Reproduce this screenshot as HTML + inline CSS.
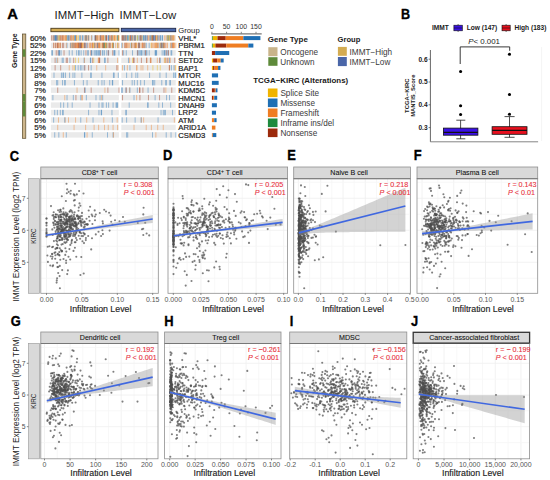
<!DOCTYPE html>
<html><head><meta charset="utf-8"><style>
html,body{margin:0;padding:0;background:#fff;width:550px;height:480px;overflow:hidden;}
svg{display:block;font-family:"Liberation Sans", sans-serif;}
</style></head><body>
<svg width="550" height="480" viewBox="0 0 550 480" font-family="Liberation Sans, sans-serif"><rect width="550" height="480" fill="#fff"/><text transform="translate(7.3,18.5) scale(1.0,1)" font-size="14.8" font-weight="bold" fill="#000" stroke="#000" stroke-width="0.35">A</text>
<text transform="translate(401.0,18.5) scale(0.85,1)" font-size="14.8" font-weight="bold" fill="#000" stroke="#000" stroke-width="0.35">B</text>
<text transform="translate(9.8,160.6) scale(0.84,1)" font-size="15.4" font-weight="bold" fill="#000" stroke="#000" stroke-width="0.35">C</text>
<text transform="translate(162.9,160.0) scale(0.84,1)" font-size="15.4" font-weight="bold" fill="#000" stroke="#000" stroke-width="0.35">D</text>
<text transform="translate(287.2,160.2) scale(0.84,1)" font-size="15.4" font-weight="bold" fill="#000" stroke="#000" stroke-width="0.35">E</text>
<text transform="translate(413.8,160.2) scale(0.84,1)" font-size="15.4" font-weight="bold" fill="#000" stroke="#000" stroke-width="0.35">F</text>
<text transform="translate(10.8,325.6) scale(0.84,1)" font-size="15.4" font-weight="bold" fill="#000" stroke="#000" stroke-width="0.35">G</text>
<text transform="translate(164.3,325.7) scale(0.84,1)" font-size="15.4" font-weight="bold" fill="#000" stroke="#000" stroke-width="0.35">H</text>
<text transform="translate(289.8,325.7) scale(0.84,1)" font-size="15.4" font-weight="bold" fill="#000" stroke="#000" stroke-width="0.35">I</text>
<text transform="translate(411.0,325.7) scale(0.84,1)" font-size="15.4" font-weight="bold" fill="#000" stroke="#000" stroke-width="0.35">J</text>
<text x="54.60" y="19.30" font-size="11.4" fill="#1a1a1a" text-anchor="start" font-weight="normal" >IMMT−High</text>
<text x="119.60" y="19.30" font-size="11.4" fill="#1a1a1a" text-anchor="start" font-weight="normal" >IMMT−Low</text>
<rect x="50.9" y="28.3" width="68" height="3.4" fill="#d4ac52" stroke="#4a3a1a" stroke-width="0.9"/>
<rect x="121.3" y="28.3" width="54.4" height="3.4" fill="#4a66a8" stroke="#1f2a4a" stroke-width="0.9"/>
<text transform="translate(178.3,33.0)" font-size="7.7" fill="#1a1a1a">Group</text>
<text transform="translate(178.3,40.85)" font-size="7.7" fill="#1a1a1a" stroke="#1a1a1a" stroke-width="0.2">VHL*</text>
<text transform="translate(45.9,40.85)" font-size="8" fill="#1a1a1a" stroke="#1a1a1a" stroke-width="0.2" text-anchor="end">60%</text>
<text transform="translate(178.3,48.31)" font-size="7.7" fill="#1a1a1a" stroke="#1a1a1a" stroke-width="0.2">PBRM1</text>
<text transform="translate(45.9,48.31)" font-size="8" fill="#1a1a1a" stroke="#1a1a1a" stroke-width="0.2" text-anchor="end">52%</text>
<text transform="translate(178.3,55.77)" font-size="7.7" fill="#1a1a1a" stroke="#1a1a1a" stroke-width="0.2">TTN</text>
<text transform="translate(45.9,55.77)" font-size="8" fill="#1a1a1a" stroke="#1a1a1a" stroke-width="0.2" text-anchor="end">22%</text>
<text transform="translate(178.3,63.23)" font-size="7.7" fill="#1a1a1a" stroke="#1a1a1a" stroke-width="0.2">SETD2</text>
<text transform="translate(45.9,63.23)" font-size="8" fill="#1a1a1a" stroke="#1a1a1a" stroke-width="0.2" text-anchor="end">15%</text>
<text transform="translate(178.3,70.69)" font-size="7.7" fill="#1a1a1a" stroke="#1a1a1a" stroke-width="0.2">BAP1</text>
<text transform="translate(45.9,70.69)" font-size="8" fill="#1a1a1a" stroke="#1a1a1a" stroke-width="0.2" text-anchor="end">12%</text>
<text transform="translate(178.3,78.15)" font-size="7.7" fill="#1a1a1a" stroke="#1a1a1a" stroke-width="0.2">MTOR</text>
<text transform="translate(45.9,78.15)" font-size="8" fill="#1a1a1a" stroke="#1a1a1a" stroke-width="0.2" text-anchor="end">8%</text>
<text transform="translate(178.3,85.61)" font-size="7.7" fill="#1a1a1a" stroke="#1a1a1a" stroke-width="0.2">MUC16</text>
<text transform="translate(45.9,85.61)" font-size="8" fill="#1a1a1a" stroke="#1a1a1a" stroke-width="0.2" text-anchor="end">8%</text>
<text transform="translate(178.3,93.07)" font-size="7.7" fill="#1a1a1a" stroke="#1a1a1a" stroke-width="0.2">KDM5C</text>
<text transform="translate(45.9,93.07)" font-size="8" fill="#1a1a1a" stroke="#1a1a1a" stroke-width="0.2" text-anchor="end">7%</text>
<text transform="translate(178.3,100.53)" font-size="7.7" fill="#1a1a1a" stroke="#1a1a1a" stroke-width="0.2">HMCN1</text>
<text transform="translate(45.9,100.53)" font-size="8" fill="#1a1a1a" stroke="#1a1a1a" stroke-width="0.2" text-anchor="end">7%</text>
<text transform="translate(178.3,107.99)" font-size="7.7" fill="#1a1a1a" stroke="#1a1a1a" stroke-width="0.2">DNAH9</text>
<text transform="translate(45.9,107.99)" font-size="8" fill="#1a1a1a" stroke="#1a1a1a" stroke-width="0.2" text-anchor="end">6%</text>
<text transform="translate(178.3,115.45)" font-size="7.7" fill="#1a1a1a" stroke="#1a1a1a" stroke-width="0.2">LRP2</text>
<text transform="translate(45.9,115.45)" font-size="8" fill="#1a1a1a" stroke="#1a1a1a" stroke-width="0.2" text-anchor="end">6%</text>
<text transform="translate(178.3,122.91)" font-size="7.7" fill="#1a1a1a" stroke="#1a1a1a" stroke-width="0.2">ATM</text>
<text transform="translate(45.9,122.91)" font-size="8" fill="#1a1a1a" stroke="#1a1a1a" stroke-width="0.2" text-anchor="end">6%</text>
<text transform="translate(178.3,130.37)" font-size="7.7" fill="#1a1a1a" stroke="#1a1a1a" stroke-width="0.2">ARID1A</text>
<text transform="translate(45.9,130.37)" font-size="8" fill="#1a1a1a" stroke="#1a1a1a" stroke-width="0.2" text-anchor="end">5%</text>
<text transform="translate(178.3,137.83)" font-size="7.7" fill="#1a1a1a" stroke="#1a1a1a" stroke-width="0.2">CSMD3</text>
<text transform="translate(45.9,137.83)" font-size="8" fill="#1a1a1a" stroke="#1a1a1a" stroke-width="0.2" text-anchor="end">5%</text>
<rect x="22.4" y="34.0" width="3.4" height="104.3" fill="#cdb68c" stroke="#5a4a2a" stroke-width="0.7"/>
<rect x="22.8" y="49.29" width="2.6" height="7.46" fill="#5e8a3a"/>
<rect x="22.8" y="94.05" width="2.6" height="7.46" fill="#5e8a3a"/>
<rect x="22.8" y="101.51" width="2.6" height="7.46" fill="#5e8a3a"/>
<rect x="22.8" y="108.97" width="2.6" height="7.46" fill="#5e8a3a"/>
<text transform="translate(16.6,50.7) rotate(-90)" font-size="6.9" font-weight="bold" fill="#1a1a1a" text-anchor="middle">Gene Type</text>
<rect x="50.9" y="35.25" width="68.00" height="5.4" fill="#eaeaea"/>
<rect x="121.3" y="35.25" width="54.40" height="5.4" fill="#eaeaea"/>
<rect x="95.49" y="35.25" width="1.0" height="5.4" fill="#1e8a3e" opacity="0.42"/>
<rect x="158.68" y="35.25" width="1.0" height="5.4" fill="#9c2a0c" opacity="0.42"/>
<rect x="104.41" y="35.25" width="1.0" height="5.4" fill="#f0b400" opacity="0.42"/>
<rect x="123.15" y="35.25" width="1.0" height="5.4" fill="#1f6fb4" opacity="0.42"/>
<rect x="108.12" y="35.25" width="1.0" height="5.4" fill="#1f6fb4" opacity="0.42"/>
<rect x="169.04" y="35.25" width="1.0" height="5.4" fill="#f0b400" opacity="0.42"/>
<rect x="114.81" y="35.25" width="1.0" height="5.4" fill="#f0b400" opacity="0.42"/>
<rect x="136.84" y="35.25" width="1.0" height="5.4" fill="#1e8a3e" opacity="0.42"/>
<rect x="129.07" y="35.25" width="1.0" height="5.4" fill="#ef7d22" opacity="0.42"/>
<rect x="99.58" y="35.25" width="1.0" height="5.4" fill="#ef7d22" opacity="0.42"/>
<rect x="144.61" y="35.25" width="1.0" height="5.4" fill="#ef7d22" opacity="0.42"/>
<rect x="167.19" y="35.25" width="1.0" height="5.4" fill="#ef7d22" opacity="0.42"/>
<rect x="143.13" y="35.25" width="1.0" height="5.4" fill="#1f6fb4" opacity="0.42"/>
<rect x="166.45" y="35.25" width="1.0" height="5.4" fill="#1f6fb4" opacity="0.42"/>
<rect x="130.18" y="35.25" width="1.0" height="5.4" fill="#9c2a0c" opacity="0.42"/>
<rect x="91.40" y="35.25" width="1.0" height="5.4" fill="#1f6fb4" opacity="0.42"/>
<rect x="79.14" y="35.25" width="1.0" height="5.4" fill="#1f6fb4" opacity="0.42"/>
<rect x="108.50" y="35.25" width="1.0" height="5.4" fill="#1f6fb4" opacity="0.42"/>
<rect x="130.55" y="35.25" width="1.0" height="5.4" fill="#ef7d22" opacity="0.42"/>
<rect x="121.67" y="35.25" width="1.0" height="5.4" fill="#1f6fb4" opacity="0.42"/>
<rect x="154.61" y="35.25" width="1.0" height="5.4" fill="#1f6fb4" opacity="0.42"/>
<rect x="156.09" y="35.25" width="1.0" height="5.4" fill="#f0b400" opacity="0.42"/>
<rect x="54.62" y="35.25" width="1.0" height="5.4" fill="#1f6fb4" opacity="0.42"/>
<rect x="96.60" y="35.25" width="1.0" height="5.4" fill="#9c2a0c" opacity="0.42"/>
<rect x="159.79" y="35.25" width="1.0" height="5.4" fill="#1f6fb4" opacity="0.42"/>
<rect x="147.94" y="35.25" width="1.0" height="5.4" fill="#ef7d22" opacity="0.42"/>
<rect x="68.36" y="35.25" width="1.0" height="5.4" fill="#ef7d22" opacity="0.42"/>
<rect x="56.85" y="35.25" width="1.0" height="5.4" fill="#9c2a0c" opacity="0.42"/>
<rect x="71.71" y="35.25" width="1.0" height="5.4" fill="#9c2a0c" opacity="0.42"/>
<rect x="157.57" y="35.25" width="1.0" height="5.4" fill="#1f6fb4" opacity="0.42"/>
<rect x="121.30" y="35.25" width="1.0" height="5.4" fill="#ef7d22" opacity="0.42"/>
<rect x="137.21" y="35.25" width="1.0" height="5.4" fill="#f0b400" opacity="0.42"/>
<rect x="133.51" y="35.25" width="1.0" height="5.4" fill="#1f6fb4" opacity="0.42"/>
<rect x="85.09" y="35.25" width="1.0" height="5.4" fill="#ef7d22" opacity="0.42"/>
<rect x="153.50" y="35.25" width="1.0" height="5.4" fill="#1f6fb4" opacity="0.42"/>
<rect x="56.10" y="35.25" width="1.0" height="5.4" fill="#ef7d22" opacity="0.42"/>
<rect x="62.05" y="35.25" width="1.0" height="5.4" fill="#ef7d22" opacity="0.42"/>
<rect x="122.78" y="35.25" width="1.0" height="5.4" fill="#9c2a0c" opacity="0.42"/>
<rect x="55.36" y="35.25" width="1.0" height="5.4" fill="#1f6fb4" opacity="0.42"/>
<rect x="123.89" y="35.25" width="1.0" height="5.4" fill="#1f6fb4" opacity="0.42"/>
<rect x="162.01" y="35.25" width="1.0" height="5.4" fill="#1f6fb4" opacity="0.42"/>
<rect x="105.52" y="35.25" width="1.0" height="5.4" fill="#9c2a0c" opacity="0.42"/>
<rect x="134.62" y="35.25" width="1.0" height="5.4" fill="#ef7d22" opacity="0.42"/>
<rect x="139.80" y="35.25" width="1.0" height="5.4" fill="#9c2a0c" opacity="0.42"/>
<rect x="102.18" y="35.25" width="1.0" height="5.4" fill="#ef7d22" opacity="0.42"/>
<rect x="76.17" y="35.25" width="1.0" height="5.4" fill="#ef7d22" opacity="0.42"/>
<rect x="63.53" y="35.25" width="1.0" height="5.4" fill="#ef7d22" opacity="0.42"/>
<rect x="155.72" y="35.25" width="1.0" height="5.4" fill="#ef7d22" opacity="0.42"/>
<rect x="149.43" y="35.25" width="1.0" height="5.4" fill="#1f6fb4" opacity="0.42"/>
<rect x="50.90" y="35.25" width="1.0" height="5.4" fill="#9c2a0c" opacity="0.42"/>
<rect x="150.54" y="35.25" width="1.0" height="5.4" fill="#ef7d22" opacity="0.42"/>
<rect x="132.40" y="35.25" width="1.0" height="5.4" fill="#ef7d22" opacity="0.42"/>
<rect x="163.86" y="35.25" width="1.0" height="5.4" fill="#ef7d22" opacity="0.42"/>
<rect x="66.13" y="35.25" width="1.0" height="5.4" fill="#f0b400" opacity="0.42"/>
<rect x="52.76" y="35.25" width="1.0" height="5.4" fill="#1f6fb4" opacity="0.42"/>
<rect x="85.83" y="35.25" width="1.0" height="5.4" fill="#1f6fb4" opacity="0.42"/>
<rect x="151.65" y="35.25" width="1.0" height="5.4" fill="#f0b400" opacity="0.42"/>
<rect x="117.41" y="35.25" width="1.0" height="5.4" fill="#1f6fb4" opacity="0.42"/>
<rect x="113.70" y="35.25" width="1.0" height="5.4" fill="#ef7d22" opacity="0.42"/>
<rect x="129.81" y="35.25" width="1.0" height="5.4" fill="#9c2a0c" opacity="0.42"/>
<rect x="167.56" y="35.25" width="1.0" height="5.4" fill="#1f6fb4" opacity="0.42"/>
<rect x="174.22" y="35.25" width="1.0" height="5.4" fill="#ef7d22" opacity="0.42"/>
<rect x="170.15" y="35.25" width="1.0" height="5.4" fill="#1f6fb4" opacity="0.42"/>
<rect x="141.65" y="35.25" width="1.0" height="5.4" fill="#f0b400" opacity="0.42"/>
<rect x="80.63" y="35.25" width="1.0" height="5.4" fill="#ef7d22" opacity="0.42"/>
<rect x="67.99" y="35.25" width="1.0" height="5.4" fill="#1f6fb4" opacity="0.42"/>
<rect x="135.36" y="35.25" width="1.0" height="5.4" fill="#ef7d22" opacity="0.42"/>
<rect x="98.09" y="35.25" width="1.0" height="5.4" fill="#ef7d22" opacity="0.42"/>
<rect x="70.59" y="35.25" width="1.0" height="5.4" fill="#ef7d22" opacity="0.42"/>
<rect x="65.39" y="35.25" width="1.0" height="5.4" fill="#ef7d22" opacity="0.42"/>
<rect x="82.11" y="35.25" width="1.0" height="5.4" fill="#1f6fb4" opacity="0.42"/>
<rect x="82.48" y="35.25" width="1.0" height="5.4" fill="#1f6fb4" opacity="0.42"/>
<rect x="126.85" y="35.25" width="1.0" height="5.4" fill="#1f6fb4" opacity="0.42"/>
<rect x="126.48" y="35.25" width="1.0" height="5.4" fill="#1f6fb4" opacity="0.42"/>
<rect x="153.13" y="35.25" width="1.0" height="5.4" fill="#9c2a0c" opacity="0.42"/>
<rect x="75.80" y="35.25" width="1.0" height="5.4" fill="#ef7d22" opacity="0.42"/>
<rect x="117.79" y="35.25" width="1.0" height="5.4" fill="#9c2a0c" opacity="0.42"/>
<rect x="61.30" y="35.25" width="1.0" height="5.4" fill="#9c2a0c" opacity="0.42"/>
<rect x="171.63" y="35.25" width="1.0" height="5.4" fill="#ef7d22" opacity="0.42"/>
<rect x="150.91" y="35.25" width="1.0" height="5.4" fill="#1f6fb4" opacity="0.42"/>
<rect x="107.75" y="35.25" width="1.0" height="5.4" fill="#1f6fb4" opacity="0.42"/>
<rect x="172.37" y="35.25" width="1.0" height="5.4" fill="#9c2a0c" opacity="0.42"/>
<rect x="72.82" y="35.25" width="1.0" height="5.4" fill="#f0b400" opacity="0.42"/>
<rect x="148.69" y="35.25" width="1.0" height="5.4" fill="#ef7d22" opacity="0.42"/>
<rect x="73.20" y="35.25" width="1.0" height="5.4" fill="#ef7d22" opacity="0.42"/>
<rect x="86.20" y="35.25" width="1.0" height="5.4" fill="#1f6fb4" opacity="0.42"/>
<rect x="170.52" y="35.25" width="1.0" height="5.4" fill="#1f6fb4" opacity="0.42"/>
<rect x="66.51" y="35.25" width="1.0" height="5.4" fill="#1f6fb4" opacity="0.42"/>
<rect x="154.24" y="35.25" width="1.0" height="5.4" fill="#1f6fb4" opacity="0.42"/>
<rect x="73.57" y="35.25" width="1.0" height="5.4" fill="#ef7d22" opacity="0.42"/>
<rect x="105.89" y="35.25" width="1.0" height="5.4" fill="#9c2a0c" opacity="0.42"/>
<rect x="172.74" y="35.25" width="1.0" height="5.4" fill="#f0b400" opacity="0.42"/>
<rect x="86.57" y="35.25" width="1.0" height="5.4" fill="#ef7d22" opacity="0.42"/>
<rect x="64.28" y="35.25" width="1.0" height="5.4" fill="#ef7d22" opacity="0.42"/>
<rect x="118.16" y="35.25" width="1.0" height="5.4" fill="#ef7d22" opacity="0.42"/>
<rect x="96.98" y="35.25" width="1.0" height="5.4" fill="#ef7d22" opacity="0.42"/>
<rect x="99.21" y="35.25" width="1.0" height="5.4" fill="#ef7d22" opacity="0.42"/>
<rect x="128.33" y="35.25" width="1.0" height="5.4" fill="#1e8a3e" opacity="0.42"/>
<rect x="165.34" y="35.25" width="1.0" height="5.4" fill="#ef7d22" opacity="0.42"/>
<rect x="146.83" y="35.25" width="1.0" height="5.4" fill="#9c2a0c" opacity="0.42"/>
<rect x="99.95" y="35.25" width="1.0" height="5.4" fill="#1f6fb4" opacity="0.42"/>
<rect x="59.07" y="35.25" width="1.0" height="5.4" fill="#f0b400" opacity="0.42"/>
<rect x="62.42" y="35.25" width="1.0" height="5.4" fill="#9c2a0c" opacity="0.42"/>
<rect x="114.07" y="35.25" width="1.0" height="5.4" fill="#ef7d22" opacity="0.42"/>
<rect x="58.33" y="35.25" width="1.0" height="5.4" fill="#1f6fb4" opacity="0.42"/>
<rect x="112.21" y="35.25" width="1.0" height="5.4" fill="#f0b400" opacity="0.42"/>
<rect x="59.45" y="35.25" width="1.0" height="5.4" fill="#ef7d22" opacity="0.42"/>
<rect x="70.97" y="35.25" width="1.0" height="5.4" fill="#ef7d22" opacity="0.42"/>
<rect x="59.82" y="35.25" width="1.0" height="5.4" fill="#9c2a0c" opacity="0.42"/>
<rect x="79.88" y="35.25" width="1.0" height="5.4" fill="#1f6fb4" opacity="0.42"/>
<rect x="127.59" y="35.25" width="1.0" height="5.4" fill="#1f6fb4" opacity="0.42"/>
<rect x="173.11" y="35.25" width="1.0" height="5.4" fill="#ef7d22" opacity="0.42"/>
<rect x="122.04" y="35.25" width="1.0" height="5.4" fill="#9c2a0c" opacity="0.42"/>
<rect x="55.73" y="35.25" width="1.0" height="5.4" fill="#1f6fb4" opacity="0.42"/>
<rect x="88.43" y="35.25" width="1.0" height="5.4" fill="#ef7d22" opacity="0.42"/>
<rect x="95.12" y="35.25" width="1.0" height="5.4" fill="#9c2a0c" opacity="0.42"/>
<rect x="65.02" y="35.25" width="1.0" height="5.4" fill="#ef7d22" opacity="0.42"/>
<rect x="96.23" y="35.25" width="1.0" height="5.4" fill="#ef7d22" opacity="0.42"/>
<rect x="170.89" y="35.25" width="1.0" height="5.4" fill="#ef7d22" opacity="0.42"/>
<rect x="124.63" y="35.25" width="1.0" height="5.4" fill="#9c2a0c" opacity="0.42"/>
<rect x="168.67" y="35.25" width="1.0" height="5.4" fill="#f0b400" opacity="0.42"/>
<rect x="102.55" y="35.25" width="1.0" height="5.4" fill="#9c2a0c" opacity="0.42"/>
<rect x="157.20" y="35.25" width="1.0" height="5.4" fill="#1f6fb4" opacity="0.42"/>
<rect x="106.27" y="35.25" width="1.0" height="5.4" fill="#9c2a0c" opacity="0.42"/>
<rect x="152.39" y="35.25" width="1.0" height="5.4" fill="#9c2a0c" opacity="0.42"/>
<rect x="146.46" y="35.25" width="1.0" height="5.4" fill="#1f6fb4" opacity="0.42"/>
<rect x="65.76" y="35.25" width="1.0" height="5.4" fill="#ef7d22" opacity="0.42"/>
<rect x="109.61" y="35.25" width="1.0" height="5.4" fill="#9c2a0c" opacity="0.42"/>
<rect x="144.98" y="35.25" width="1.0" height="5.4" fill="#1f6fb4" opacity="0.42"/>
<rect x="166.82" y="35.25" width="1.0" height="5.4" fill="#f0b400" opacity="0.42"/>
<rect x="94.38" y="35.25" width="1.0" height="5.4" fill="#1f6fb4" opacity="0.42"/>
<rect x="134.25" y="35.25" width="1.0" height="5.4" fill="#ef7d22" opacity="0.42"/>
<rect x="101.44" y="35.25" width="1.0" height="5.4" fill="#ef7d22" opacity="0.42"/>
<rect x="78.03" y="35.25" width="1.0" height="5.4" fill="#f0b400" opacity="0.42"/>
<rect x="167.93" y="35.25" width="1.0" height="5.4" fill="#f0b400" opacity="0.42"/>
<rect x="130.92" y="35.25" width="1.0" height="5.4" fill="#1f6fb4" opacity="0.42"/>
<rect x="133.88" y="35.25" width="1.0" height="5.4" fill="#1f6fb4" opacity="0.42"/>
<rect x="140.17" y="35.25" width="1.0" height="5.4" fill="#ef7d22" opacity="0.42"/>
<rect x="154.98" y="35.25" width="1.0" height="5.4" fill="#9c2a0c" opacity="0.42"/>
<rect x="57.96" y="35.25" width="1.0" height="5.4" fill="#f0b400" opacity="0.42"/>
<rect x="60.56" y="35.25" width="1.0" height="5.4" fill="#ef7d22" opacity="0.42"/>
<rect x="54.24" y="35.25" width="1.0" height="5.4" fill="#1f6fb4" opacity="0.42"/>
<rect x="74.68" y="35.25" width="1.0" height="5.4" fill="#1f6fb4" opacity="0.42"/>
<rect x="102.92" y="35.25" width="1.0" height="5.4" fill="#ef7d22" opacity="0.42"/>
<rect x="139.43" y="35.25" width="1.0" height="5.4" fill="#9c2a0c" opacity="0.42"/>
<rect x="112.95" y="35.25" width="1.0" height="5.4" fill="#ef7d22" opacity="0.42"/>
<rect x="160.16" y="35.25" width="1.0" height="5.4" fill="#1f6fb4" opacity="0.42"/>
<rect x="111.10" y="35.25" width="1.0" height="5.4" fill="#ef7d22" opacity="0.42"/>
<rect x="115.93" y="35.25" width="1.0" height="5.4" fill="#ef7d22" opacity="0.42"/>
<rect x="131.66" y="35.25" width="1.0" height="5.4" fill="#1f6fb4" opacity="0.42"/>
<rect x="123.52" y="35.25" width="1.0" height="5.4" fill="#ef7d22" opacity="0.42"/>
<rect x="118.53" y="35.25" width="1.0" height="5.4" fill="#f0b400" opacity="0.42"/>
<rect x="67.25" y="35.25" width="1.0" height="5.4" fill="#1f6fb4" opacity="0.42"/>
<rect x="74.31" y="35.25" width="1.0" height="5.4" fill="#1f6fb4" opacity="0.42"/>
<rect x="132.03" y="35.25" width="1.0" height="5.4" fill="#ef7d22" opacity="0.42"/>
<rect x="149.80" y="35.25" width="1.0" height="5.4" fill="#1f6fb4" opacity="0.42"/>
<rect x="141.28" y="35.25" width="1.0" height="5.4" fill="#9c2a0c" opacity="0.42"/>
<rect x="140.54" y="35.25" width="1.0" height="5.4" fill="#1f6fb4" opacity="0.42"/>
<rect x="76.54" y="35.25" width="1.0" height="5.4" fill="#f0b400" opacity="0.42"/>
<rect x="104.78" y="35.25" width="1.0" height="5.4" fill="#1f6fb4" opacity="0.42"/>
<rect x="152.02" y="35.25" width="1.0" height="5.4" fill="#9c2a0c" opacity="0.42"/>
<rect x="103.29" y="35.25" width="1.0" height="5.4" fill="#ef7d22" opacity="0.42"/>
<rect x="85.46" y="35.25" width="1.0" height="5.4" fill="#ef7d22" opacity="0.42"/>
<rect x="75.05" y="35.25" width="1.0" height="5.4" fill="#1f6fb4" opacity="0.42"/>
<rect x="138.32" y="35.25" width="1.0" height="5.4" fill="#1f6fb4" opacity="0.42"/>
<rect x="117.04" y="35.25" width="1.0" height="5.4" fill="#1e8a3e" opacity="0.42"/>
<rect x="114.44" y="35.25" width="1.0" height="5.4" fill="#ef7d22" opacity="0.42"/>
<rect x="87.69" y="35.25" width="1.0" height="5.4" fill="#ef7d22" opacity="0.42"/>
<rect x="156.83" y="35.25" width="1.0" height="5.4" fill="#ef7d22" opacity="0.42"/>
<rect x="84.34" y="35.25" width="1.0" height="5.4" fill="#ef7d22" opacity="0.42"/>
<rect x="84.71" y="35.25" width="1.0" height="5.4" fill="#1f6fb4" opacity="0.42"/>
<rect x="126.11" y="35.25" width="1.0" height="5.4" fill="#ef7d22" opacity="0.42"/>
<rect x="111.84" y="35.25" width="1.0" height="5.4" fill="#1f6fb4" opacity="0.42"/>
<rect x="56.47" y="35.25" width="1.0" height="5.4" fill="#1f6fb4" opacity="0.42"/>
<rect x="142.76" y="35.25" width="1.0" height="5.4" fill="#1f6fb4" opacity="0.42"/>
<rect x="110.73" y="35.25" width="1.0" height="5.4" fill="#9c2a0c" opacity="0.42"/>
<rect x="169.78" y="35.25" width="1.0" height="5.4" fill="#ef7d22" opacity="0.42"/>
<rect x="54.99" y="35.25" width="1.0" height="5.4" fill="#1f6fb4" opacity="0.42"/>
<rect x="53.50" y="35.25" width="1.0" height="5.4" fill="#9c2a0c" opacity="0.42"/>
<rect x="145.35" y="35.25" width="1.0" height="5.4" fill="#1f6fb4" opacity="0.42"/>
<rect x="134.99" y="35.25" width="1.0" height="5.4" fill="#1f6fb4" opacity="0.42"/>
<rect x="101.06" y="35.25" width="1.0" height="5.4" fill="#ef7d22" opacity="0.42"/>
<rect x="125.37" y="35.25" width="1.0" height="5.4" fill="#ef7d22" opacity="0.42"/>
<rect x="100.32" y="35.25" width="1.0" height="5.4" fill="#9c2a0c" opacity="0.42"/>
<rect x="108.87" y="35.25" width="1.0" height="5.4" fill="#ef7d22" opacity="0.42"/>
<rect x="88.06" y="35.25" width="1.0" height="5.4" fill="#1f6fb4" opacity="0.42"/>
<rect x="69.85" y="35.25" width="1.0" height="5.4" fill="#9c2a0c" opacity="0.42"/>
<rect x="52.39" y="35.25" width="1.0" height="5.4" fill="#ef7d22" opacity="0.42"/>
<rect x="94.75" y="35.25" width="1.0" height="5.4" fill="#9c2a0c" opacity="0.42"/>
<rect x="152.76" y="35.25" width="1.0" height="5.4" fill="#1f6fb4" opacity="0.42"/>
<rect x="62.79" y="35.25" width="1.0" height="5.4" fill="#ef7d22" opacity="0.42"/>
<rect x="125.00" y="35.25" width="1.0" height="5.4" fill="#1f6fb4" opacity="0.42"/>
<rect x="111.47" y="35.25" width="1.0" height="5.4" fill="#ef7d22" opacity="0.42"/>
<rect x="91.03" y="35.25" width="1.0" height="5.4" fill="#ef7d22" opacity="0.42"/>
<rect x="151.28" y="35.25" width="1.0" height="5.4" fill="#ef7d22" opacity="0.42"/>
<rect x="161.64" y="35.25" width="1.0" height="5.4" fill="#1f6fb4" opacity="0.42"/>
<rect x="168.30" y="35.25" width="1.0" height="5.4" fill="#1f6fb4" opacity="0.42"/>
<rect x="143.87" y="35.25" width="1.0" height="5.4" fill="#1f6fb4" opacity="0.42"/>
<rect x="68.74" y="35.25" width="1.0" height="5.4" fill="#1f6fb4" opacity="0.42"/>
<rect x="50.9" y="42.71" width="68.00" height="5.4" fill="#eaeaea"/>
<rect x="121.3" y="42.71" width="54.40" height="5.4" fill="#eaeaea"/>
<rect x="103.29" y="42.71" width="1.0" height="5.4" fill="#1f6fb4" opacity="0.42"/>
<rect x="83.60" y="42.71" width="1.0" height="5.4" fill="#ef7d22" opacity="0.42"/>
<rect x="89.17" y="42.71" width="1.0" height="5.4" fill="#ef7d22" opacity="0.42"/>
<rect x="138.69" y="42.71" width="1.0" height="5.4" fill="#1f6fb4" opacity="0.42"/>
<rect x="77.65" y="42.71" width="1.0" height="5.4" fill="#9c2a0c" opacity="0.42"/>
<rect x="78.03" y="42.71" width="1.0" height="5.4" fill="#ef7d22" opacity="0.42"/>
<rect x="150.54" y="42.71" width="1.0" height="5.4" fill="#f0b400" opacity="0.42"/>
<rect x="145.72" y="42.71" width="1.0" height="5.4" fill="#1f6fb4" opacity="0.42"/>
<rect x="138.32" y="42.71" width="1.0" height="5.4" fill="#1f6fb4" opacity="0.42"/>
<rect x="154.61" y="42.71" width="1.0" height="5.4" fill="#ef7d22" opacity="0.42"/>
<rect x="103.67" y="42.71" width="1.0" height="5.4" fill="#1e8a3e" opacity="0.42"/>
<rect x="104.41" y="42.71" width="1.0" height="5.4" fill="#ef7d22" opacity="0.42"/>
<rect x="139.06" y="42.71" width="1.0" height="5.4" fill="#9c2a0c" opacity="0.42"/>
<rect x="151.28" y="42.71" width="1.0" height="5.4" fill="#ef7d22" opacity="0.42"/>
<rect x="77.28" y="42.71" width="1.0" height="5.4" fill="#ef7d22" opacity="0.42"/>
<rect x="78.77" y="42.71" width="1.0" height="5.4" fill="#9c2a0c" opacity="0.42"/>
<rect x="78.40" y="42.71" width="1.0" height="5.4" fill="#9c2a0c" opacity="0.42"/>
<rect x="118.53" y="42.71" width="1.0" height="5.4" fill="#ef7d22" opacity="0.42"/>
<rect x="135.73" y="42.71" width="1.0" height="5.4" fill="#ef7d22" opacity="0.42"/>
<rect x="124.63" y="42.71" width="1.0" height="5.4" fill="#ef7d22" opacity="0.42"/>
<rect x="129.07" y="42.71" width="1.0" height="5.4" fill="#ef7d22" opacity="0.42"/>
<rect x="164.23" y="42.71" width="1.0" height="5.4" fill="#ef7d22" opacity="0.42"/>
<rect x="166.45" y="42.71" width="1.0" height="5.4" fill="#ef7d22" opacity="0.42"/>
<rect x="53.13" y="42.71" width="1.0" height="5.4" fill="#9c2a0c" opacity="0.42"/>
<rect x="111.84" y="42.71" width="1.0" height="5.4" fill="#ef7d22" opacity="0.42"/>
<rect x="63.16" y="42.71" width="1.0" height="5.4" fill="#9c2a0c" opacity="0.42"/>
<rect x="72.08" y="42.71" width="1.0" height="5.4" fill="#ef7d22" opacity="0.42"/>
<rect x="72.82" y="42.71" width="1.0" height="5.4" fill="#ef7d22" opacity="0.42"/>
<rect x="59.07" y="42.71" width="1.0" height="5.4" fill="#ef7d22" opacity="0.42"/>
<rect x="156.46" y="42.71" width="1.0" height="5.4" fill="#f0b400" opacity="0.42"/>
<rect x="83.97" y="42.71" width="1.0" height="5.4" fill="#9c2a0c" opacity="0.42"/>
<rect x="71.71" y="42.71" width="1.0" height="5.4" fill="#ef7d22" opacity="0.42"/>
<rect x="55.73" y="42.71" width="1.0" height="5.4" fill="#ef7d22" opacity="0.42"/>
<rect x="173.85" y="42.71" width="1.0" height="5.4" fill="#ef7d22" opacity="0.42"/>
<rect x="97.35" y="42.71" width="1.0" height="5.4" fill="#ef7d22" opacity="0.42"/>
<rect x="157.94" y="42.71" width="1.0" height="5.4" fill="#ef7d22" opacity="0.42"/>
<rect x="172.00" y="42.71" width="1.0" height="5.4" fill="#9c2a0c" opacity="0.42"/>
<rect x="162.75" y="42.71" width="1.0" height="5.4" fill="#f0b400" opacity="0.42"/>
<rect x="86.20" y="42.71" width="1.0" height="5.4" fill="#1f6fb4" opacity="0.42"/>
<rect x="134.99" y="42.71" width="1.0" height="5.4" fill="#9c2a0c" opacity="0.42"/>
<rect x="154.98" y="42.71" width="1.0" height="5.4" fill="#ef7d22" opacity="0.42"/>
<rect x="170.89" y="42.71" width="1.0" height="5.4" fill="#1f6fb4" opacity="0.42"/>
<rect x="76.17" y="42.71" width="1.0" height="5.4" fill="#ef7d22" opacity="0.42"/>
<rect x="92.15" y="42.71" width="1.0" height="5.4" fill="#ef7d22" opacity="0.42"/>
<rect x="82.86" y="42.71" width="1.0" height="5.4" fill="#ef7d22" opacity="0.42"/>
<rect x="66.51" y="42.71" width="1.0" height="5.4" fill="#1f6fb4" opacity="0.42"/>
<rect x="87.32" y="42.71" width="1.0" height="5.4" fill="#9c2a0c" opacity="0.42"/>
<rect x="122.04" y="42.71" width="1.0" height="5.4" fill="#ef7d22" opacity="0.42"/>
<rect x="74.68" y="42.71" width="1.0" height="5.4" fill="#ef7d22" opacity="0.42"/>
<rect x="130.55" y="42.71" width="1.0" height="5.4" fill="#1f6fb4" opacity="0.42"/>
<rect x="133.51" y="42.71" width="1.0" height="5.4" fill="#ef7d22" opacity="0.42"/>
<rect x="134.25" y="42.71" width="1.0" height="5.4" fill="#9c2a0c" opacity="0.42"/>
<rect x="124.26" y="42.71" width="1.0" height="5.4" fill="#9c2a0c" opacity="0.42"/>
<rect x="112.95" y="42.71" width="1.0" height="5.4" fill="#1e8a3e" opacity="0.42"/>
<rect x="142.02" y="42.71" width="1.0" height="5.4" fill="#ef7d22" opacity="0.42"/>
<rect x="156.09" y="42.71" width="1.0" height="5.4" fill="#ef7d22" opacity="0.42"/>
<rect x="108.87" y="42.71" width="1.0" height="5.4" fill="#9c2a0c" opacity="0.42"/>
<rect x="104.78" y="42.71" width="1.0" height="5.4" fill="#ef7d22" opacity="0.42"/>
<rect x="94.00" y="42.71" width="1.0" height="5.4" fill="#1f6fb4" opacity="0.42"/>
<rect x="137.95" y="42.71" width="1.0" height="5.4" fill="#9c2a0c" opacity="0.42"/>
<rect x="59.82" y="42.71" width="1.0" height="5.4" fill="#9c2a0c" opacity="0.42"/>
<rect x="79.88" y="42.71" width="1.0" height="5.4" fill="#9c2a0c" opacity="0.42"/>
<rect x="98.09" y="42.71" width="1.0" height="5.4" fill="#ef7d22" opacity="0.42"/>
<rect x="126.85" y="42.71" width="1.0" height="5.4" fill="#ef7d22" opacity="0.42"/>
<rect x="84.34" y="42.71" width="1.0" height="5.4" fill="#1f6fb4" opacity="0.42"/>
<rect x="115.18" y="42.71" width="1.0" height="5.4" fill="#ef7d22" opacity="0.42"/>
<rect x="151.65" y="42.71" width="1.0" height="5.4" fill="#ef7d22" opacity="0.42"/>
<rect x="159.79" y="42.71" width="1.0" height="5.4" fill="#f0b400" opacity="0.42"/>
<rect x="91.77" y="42.71" width="1.0" height="5.4" fill="#ef7d22" opacity="0.42"/>
<rect x="96.60" y="42.71" width="1.0" height="5.4" fill="#9c2a0c" opacity="0.42"/>
<rect x="73.94" y="42.71" width="1.0" height="5.4" fill="#9c2a0c" opacity="0.42"/>
<rect x="164.60" y="42.71" width="1.0" height="5.4" fill="#9c2a0c" opacity="0.42"/>
<rect x="102.55" y="42.71" width="1.0" height="5.4" fill="#ef7d22" opacity="0.42"/>
<rect x="105.89" y="42.71" width="1.0" height="5.4" fill="#ef7d22" opacity="0.42"/>
<rect x="81.37" y="42.71" width="1.0" height="5.4" fill="#ef7d22" opacity="0.42"/>
<rect x="125.74" y="42.71" width="1.0" height="5.4" fill="#9c2a0c" opacity="0.42"/>
<rect x="69.85" y="42.71" width="1.0" height="5.4" fill="#ef7d22" opacity="0.42"/>
<rect x="89.92" y="42.71" width="1.0" height="5.4" fill="#ef7d22" opacity="0.42"/>
<rect x="91.40" y="42.71" width="1.0" height="5.4" fill="#9c2a0c" opacity="0.42"/>
<rect x="162.01" y="42.71" width="1.0" height="5.4" fill="#ef7d22" opacity="0.42"/>
<rect x="73.20" y="42.71" width="1.0" height="5.4" fill="#ef7d22" opacity="0.42"/>
<rect x="81.00" y="42.71" width="1.0" height="5.4" fill="#9c2a0c" opacity="0.42"/>
<rect x="105.52" y="42.71" width="1.0" height="5.4" fill="#ef7d22" opacity="0.42"/>
<rect x="127.96" y="42.71" width="1.0" height="5.4" fill="#ef7d22" opacity="0.42"/>
<rect x="101.81" y="42.71" width="1.0" height="5.4" fill="#f0b400" opacity="0.42"/>
<rect x="160.90" y="42.71" width="1.0" height="5.4" fill="#9c2a0c" opacity="0.42"/>
<rect x="80.26" y="42.71" width="1.0" height="5.4" fill="#9c2a0c" opacity="0.42"/>
<rect x="172.37" y="42.71" width="1.0" height="5.4" fill="#ef7d22" opacity="0.42"/>
<rect x="142.39" y="42.71" width="1.0" height="5.4" fill="#ef7d22" opacity="0.42"/>
<rect x="121.30" y="42.71" width="1.0" height="5.4" fill="#1f6fb4" opacity="0.42"/>
<rect x="144.24" y="42.71" width="1.0" height="5.4" fill="#1f6fb4" opacity="0.42"/>
<rect x="70.97" y="42.71" width="1.0" height="5.4" fill="#ef7d22" opacity="0.42"/>
<rect x="98.83" y="42.71" width="1.0" height="5.4" fill="#ef7d22" opacity="0.42"/>
<rect x="75.05" y="42.71" width="1.0" height="5.4" fill="#ef7d22" opacity="0.42"/>
<rect x="141.65" y="42.71" width="1.0" height="5.4" fill="#ef7d22" opacity="0.42"/>
<rect x="70.22" y="42.71" width="1.0" height="5.4" fill="#1f6fb4" opacity="0.42"/>
<rect x="102.92" y="42.71" width="1.0" height="5.4" fill="#9c2a0c" opacity="0.42"/>
<rect x="135.36" y="42.71" width="1.0" height="5.4" fill="#f0b400" opacity="0.42"/>
<rect x="107.38" y="42.71" width="1.0" height="5.4" fill="#ef7d22" opacity="0.42"/>
<rect x="155.72" y="42.71" width="1.0" height="5.4" fill="#ef7d22" opacity="0.42"/>
<rect x="136.10" y="42.71" width="1.0" height="5.4" fill="#ef7d22" opacity="0.42"/>
<rect x="80.63" y="42.71" width="1.0" height="5.4" fill="#9c2a0c" opacity="0.42"/>
<rect x="62.05" y="42.71" width="1.0" height="5.4" fill="#9c2a0c" opacity="0.42"/>
<rect x="163.12" y="42.71" width="1.0" height="5.4" fill="#9c2a0c" opacity="0.42"/>
<rect x="143.87" y="42.71" width="1.0" height="5.4" fill="#ef7d22" opacity="0.42"/>
<rect x="142.76" y="42.71" width="1.0" height="5.4" fill="#9c2a0c" opacity="0.42"/>
<rect x="54.99" y="42.71" width="1.0" height="5.4" fill="#9c2a0c" opacity="0.42"/>
<rect x="60.19" y="42.71" width="1.0" height="5.4" fill="#ef7d22" opacity="0.42"/>
<rect x="98.46" y="42.71" width="1.0" height="5.4" fill="#9c2a0c" opacity="0.42"/>
<rect x="125.37" y="42.71" width="1.0" height="5.4" fill="#ef7d22" opacity="0.42"/>
<rect x="89.54" y="42.71" width="1.0" height="5.4" fill="#ef7d22" opacity="0.42"/>
<rect x="57.22" y="42.71" width="1.0" height="5.4" fill="#ef7d22" opacity="0.42"/>
<rect x="170.52" y="42.71" width="1.0" height="5.4" fill="#ef7d22" opacity="0.42"/>
<rect x="148.69" y="42.71" width="1.0" height="5.4" fill="#1f6fb4" opacity="0.42"/>
<rect x="111.47" y="42.71" width="1.0" height="5.4" fill="#f0b400" opacity="0.42"/>
<rect x="130.92" y="42.71" width="1.0" height="5.4" fill="#f0b400" opacity="0.42"/>
<rect x="163.49" y="42.71" width="1.0" height="5.4" fill="#ef7d22" opacity="0.42"/>
<rect x="117.41" y="42.71" width="1.0" height="5.4" fill="#9c2a0c" opacity="0.42"/>
<rect x="76.54" y="42.71" width="1.0" height="5.4" fill="#ef7d22" opacity="0.42"/>
<rect x="99.58" y="42.71" width="1.0" height="5.4" fill="#ef7d22" opacity="0.42"/>
<rect x="79.14" y="42.71" width="1.0" height="5.4" fill="#ef7d22" opacity="0.42"/>
<rect x="173.48" y="42.71" width="1.0" height="5.4" fill="#ef7d22" opacity="0.42"/>
<rect x="159.42" y="42.71" width="1.0" height="5.4" fill="#1f6fb4" opacity="0.42"/>
<rect x="152.76" y="42.71" width="1.0" height="5.4" fill="#ef7d22" opacity="0.42"/>
<rect x="112.58" y="42.71" width="1.0" height="5.4" fill="#9c2a0c" opacity="0.42"/>
<rect x="131.29" y="42.71" width="1.0" height="5.4" fill="#9c2a0c" opacity="0.42"/>
<rect x="173.11" y="42.71" width="1.0" height="5.4" fill="#ef7d22" opacity="0.42"/>
<rect x="117.04" y="42.71" width="1.0" height="5.4" fill="#f0b400" opacity="0.42"/>
<rect x="175.33" y="42.71" width="1.0" height="5.4" fill="#ef7d22" opacity="0.42"/>
<rect x="96.98" y="42.71" width="1.0" height="5.4" fill="#1f6fb4" opacity="0.42"/>
<rect x="76.91" y="42.71" width="1.0" height="5.4" fill="#ef7d22" opacity="0.42"/>
<rect x="75.42" y="42.71" width="1.0" height="5.4" fill="#9c2a0c" opacity="0.42"/>
<rect x="144.61" y="42.71" width="1.0" height="5.4" fill="#ef7d22" opacity="0.42"/>
<rect x="170.15" y="42.71" width="1.0" height="5.4" fill="#ef7d22" opacity="0.42"/>
<rect x="166.82" y="42.71" width="1.0" height="5.4" fill="#ef7d22" opacity="0.42"/>
<rect x="132.40" y="42.71" width="1.0" height="5.4" fill="#ef7d22" opacity="0.42"/>
<rect x="100.69" y="42.71" width="1.0" height="5.4" fill="#ef7d22" opacity="0.42"/>
<rect x="93.63" y="42.71" width="1.0" height="5.4" fill="#ef7d22" opacity="0.42"/>
<rect x="99.21" y="42.71" width="1.0" height="5.4" fill="#ef7d22" opacity="0.42"/>
<rect x="92.52" y="42.71" width="1.0" height="5.4" fill="#ef7d22" opacity="0.42"/>
<rect x="65.76" y="42.71" width="1.0" height="5.4" fill="#ef7d22" opacity="0.42"/>
<rect x="160.53" y="42.71" width="1.0" height="5.4" fill="#9c2a0c" opacity="0.42"/>
<rect x="126.48" y="42.71" width="1.0" height="5.4" fill="#ef7d22" opacity="0.42"/>
<rect x="109.98" y="42.71" width="1.0" height="5.4" fill="#9c2a0c" opacity="0.42"/>
<rect x="96.23" y="42.71" width="1.0" height="5.4" fill="#ef7d22" opacity="0.42"/>
<rect x="172.74" y="42.71" width="1.0" height="5.4" fill="#ef7d22" opacity="0.42"/>
<rect x="153.87" y="42.71" width="1.0" height="5.4" fill="#ef7d22" opacity="0.42"/>
<rect x="81.74" y="42.71" width="1.0" height="5.4" fill="#f0b400" opacity="0.42"/>
<rect x="137.58" y="42.71" width="1.0" height="5.4" fill="#ef7d22" opacity="0.42"/>
<rect x="106.27" y="42.71" width="1.0" height="5.4" fill="#1e8a3e" opacity="0.42"/>
<rect x="57.59" y="42.71" width="1.0" height="5.4" fill="#9c2a0c" opacity="0.42"/>
<rect x="140.54" y="42.71" width="1.0" height="5.4" fill="#ef7d22" opacity="0.42"/>
<rect x="57.96" y="42.71" width="1.0" height="5.4" fill="#ef7d22" opacity="0.42"/>
<rect x="53.50" y="42.71" width="1.0" height="5.4" fill="#ef7d22" opacity="0.42"/>
<rect x="93.26" y="42.71" width="1.0" height="5.4" fill="#f0b400" opacity="0.42"/>
<rect x="157.20" y="42.71" width="1.0" height="5.4" fill="#9c2a0c" opacity="0.42"/>
<rect x="72.45" y="42.71" width="1.0" height="5.4" fill="#1f6fb4" opacity="0.42"/>
<rect x="85.09" y="42.71" width="1.0" height="5.4" fill="#9c2a0c" opacity="0.42"/>
<rect x="105.15" y="42.71" width="1.0" height="5.4" fill="#ef7d22" opacity="0.42"/>
<rect x="56.85" y="42.71" width="1.0" height="5.4" fill="#9c2a0c" opacity="0.42"/>
<rect x="94.75" y="42.71" width="1.0" height="5.4" fill="#9c2a0c" opacity="0.42"/>
<rect x="102.18" y="42.71" width="1.0" height="5.4" fill="#9c2a0c" opacity="0.42"/>
<rect x="79.51" y="42.71" width="1.0" height="5.4" fill="#1f6fb4" opacity="0.42"/>
<rect x="112.21" y="42.71" width="1.0" height="5.4" fill="#ef7d22" opacity="0.42"/>
<rect x="108.50" y="42.71" width="1.0" height="5.4" fill="#9c2a0c" opacity="0.42"/>
<rect x="162.38" y="42.71" width="1.0" height="5.4" fill="#1f6fb4" opacity="0.42"/>
<rect x="82.11" y="42.71" width="1.0" height="5.4" fill="#ef7d22" opacity="0.42"/>
<rect x="104.04" y="42.71" width="1.0" height="5.4" fill="#1e8a3e" opacity="0.42"/>
<rect x="161.27" y="42.71" width="1.0" height="5.4" fill="#1f6fb4" opacity="0.42"/>
<rect x="50.9" y="50.17" width="68.00" height="5.4" fill="#eaeaea"/>
<rect x="121.3" y="50.17" width="54.40" height="5.4" fill="#eaeaea"/>
<rect x="55.73" y="50.17" width="1.0" height="5.4" fill="#9c2a0c" opacity="0.42"/>
<rect x="101.81" y="50.17" width="1.0" height="5.4" fill="#1f6fb4" opacity="0.42"/>
<rect x="170.52" y="50.17" width="1.0" height="5.4" fill="#1f6fb4" opacity="0.42"/>
<rect x="80.63" y="50.17" width="1.0" height="5.4" fill="#1f6fb4" opacity="0.42"/>
<rect x="140.54" y="50.17" width="1.0" height="5.4" fill="#1f6fb4" opacity="0.42"/>
<rect x="136.84" y="50.17" width="1.0" height="5.4" fill="#1f6fb4" opacity="0.42"/>
<rect x="52.01" y="50.17" width="1.0" height="5.4" fill="#1f6fb4" opacity="0.42"/>
<rect x="60.56" y="50.17" width="1.0" height="5.4" fill="#1f6fb4" opacity="0.42"/>
<rect x="166.45" y="50.17" width="1.0" height="5.4" fill="#1f6fb4" opacity="0.42"/>
<rect x="94.75" y="50.17" width="1.0" height="5.4" fill="#1f6fb4" opacity="0.42"/>
<rect x="112.21" y="50.17" width="1.0" height="5.4" fill="#9c2a0c" opacity="0.42"/>
<rect x="139.43" y="50.17" width="1.0" height="5.4" fill="#1f6fb4" opacity="0.42"/>
<rect x="132.03" y="50.17" width="1.0" height="5.4" fill="#1f6fb4" opacity="0.42"/>
<rect x="95.86" y="50.17" width="1.0" height="5.4" fill="#1f6fb4" opacity="0.42"/>
<rect x="148.69" y="50.17" width="1.0" height="5.4" fill="#1f6fb4" opacity="0.42"/>
<rect x="118.53" y="50.17" width="1.0" height="5.4" fill="#1f6fb4" opacity="0.42"/>
<rect x="76.17" y="50.17" width="1.0" height="5.4" fill="#1f6fb4" opacity="0.42"/>
<rect x="99.95" y="50.17" width="1.0" height="5.4" fill="#9c2a0c" opacity="0.42"/>
<rect x="171.26" y="50.17" width="1.0" height="5.4" fill="#1f6fb4" opacity="0.42"/>
<rect x="154.98" y="50.17" width="1.0" height="5.4" fill="#1f6fb4" opacity="0.42"/>
<rect x="91.40" y="50.17" width="1.0" height="5.4" fill="#1f6fb4" opacity="0.42"/>
<rect x="90.29" y="50.17" width="1.0" height="5.4" fill="#9c2a0c" opacity="0.42"/>
<rect x="97.72" y="50.17" width="1.0" height="5.4" fill="#1f6fb4" opacity="0.42"/>
<rect x="71.71" y="50.17" width="1.0" height="5.4" fill="#1f6fb4" opacity="0.42"/>
<rect x="91.03" y="50.17" width="1.0" height="5.4" fill="#1f6fb4" opacity="0.42"/>
<rect x="102.55" y="50.17" width="1.0" height="5.4" fill="#1f6fb4" opacity="0.42"/>
<rect x="156.09" y="50.17" width="1.0" height="5.4" fill="#1f6fb4" opacity="0.42"/>
<rect x="137.21" y="50.17" width="1.0" height="5.4" fill="#9c2a0c" opacity="0.42"/>
<rect x="57.59" y="50.17" width="1.0" height="5.4" fill="#9c2a0c" opacity="0.42"/>
<rect x="85.46" y="50.17" width="1.0" height="5.4" fill="#9c2a0c" opacity="0.42"/>
<rect x="167.56" y="50.17" width="1.0" height="5.4" fill="#1f6fb4" opacity="0.42"/>
<rect x="155.72" y="50.17" width="1.0" height="5.4" fill="#1f6fb4" opacity="0.42"/>
<rect x="140.91" y="50.17" width="1.0" height="5.4" fill="#1f6fb4" opacity="0.42"/>
<rect x="87.32" y="50.17" width="1.0" height="5.4" fill="#1f6fb4" opacity="0.42"/>
<rect x="96.60" y="50.17" width="1.0" height="5.4" fill="#1f6fb4" opacity="0.42"/>
<rect x="138.32" y="50.17" width="1.0" height="5.4" fill="#1f6fb4" opacity="0.42"/>
<rect x="167.93" y="50.17" width="1.0" height="5.4" fill="#9c2a0c" opacity="0.42"/>
<rect x="154.61" y="50.17" width="1.0" height="5.4" fill="#1f6fb4" opacity="0.42"/>
<rect x="146.46" y="50.17" width="1.0" height="5.4" fill="#1f6fb4" opacity="0.42"/>
<rect x="108.12" y="50.17" width="1.0" height="5.4" fill="#1f6fb4" opacity="0.42"/>
<rect x="93.63" y="50.17" width="1.0" height="5.4" fill="#1f6fb4" opacity="0.42"/>
<rect x="63.53" y="50.17" width="1.0" height="5.4" fill="#9c2a0c" opacity="0.42"/>
<rect x="104.04" y="50.17" width="1.0" height="5.4" fill="#1f6fb4" opacity="0.42"/>
<rect x="78.77" y="50.17" width="1.0" height="5.4" fill="#1f6fb4" opacity="0.42"/>
<rect x="113.33" y="50.17" width="1.0" height="5.4" fill="#1f6fb4" opacity="0.42"/>
<rect x="142.39" y="50.17" width="1.0" height="5.4" fill="#1f6fb4" opacity="0.42"/>
<rect x="122.04" y="50.17" width="1.0" height="5.4" fill="#9c2a0c" opacity="0.42"/>
<rect x="144.24" y="50.17" width="1.0" height="5.4" fill="#1f6fb4" opacity="0.42"/>
<rect x="87.69" y="50.17" width="1.0" height="5.4" fill="#1f6fb4" opacity="0.42"/>
<rect x="58.70" y="50.17" width="1.0" height="5.4" fill="#1f6fb4" opacity="0.42"/>
<rect x="99.21" y="50.17" width="1.0" height="5.4" fill="#1f6fb4" opacity="0.42"/>
<rect x="51.27" y="50.17" width="1.0" height="5.4" fill="#1f6fb4" opacity="0.42"/>
<rect x="145.72" y="50.17" width="1.0" height="5.4" fill="#1f6fb4" opacity="0.42"/>
<rect x="78.03" y="50.17" width="1.0" height="5.4" fill="#1f6fb4" opacity="0.42"/>
<rect x="58.33" y="50.17" width="1.0" height="5.4" fill="#1f6fb4" opacity="0.42"/>
<rect x="68.74" y="50.17" width="1.0" height="5.4" fill="#1f6fb4" opacity="0.42"/>
<rect x="144.98" y="50.17" width="1.0" height="5.4" fill="#9c2a0c" opacity="0.42"/>
<rect x="161.64" y="50.17" width="1.0" height="5.4" fill="#1f6fb4" opacity="0.42"/>
<rect x="98.46" y="50.17" width="1.0" height="5.4" fill="#1f6fb4" opacity="0.42"/>
<rect x="106.27" y="50.17" width="1.0" height="5.4" fill="#1f6fb4" opacity="0.42"/>
<rect x="114.07" y="50.17" width="1.0" height="5.4" fill="#1f6fb4" opacity="0.42"/>
<rect x="107.75" y="50.17" width="1.0" height="5.4" fill="#9c2a0c" opacity="0.42"/>
<rect x="59.07" y="50.17" width="1.0" height="5.4" fill="#1f6fb4" opacity="0.42"/>
<rect x="123.15" y="50.17" width="1.0" height="5.4" fill="#1f6fb4" opacity="0.42"/>
<rect x="125.74" y="50.17" width="1.0" height="5.4" fill="#1f6fb4" opacity="0.42"/>
<rect x="163.49" y="50.17" width="1.0" height="5.4" fill="#1f6fb4" opacity="0.42"/>
<rect x="114.44" y="50.17" width="1.0" height="5.4" fill="#1f6fb4" opacity="0.42"/>
<rect x="165.71" y="50.17" width="1.0" height="5.4" fill="#9c2a0c" opacity="0.42"/>
<rect x="164.60" y="50.17" width="1.0" height="5.4" fill="#1f6fb4" opacity="0.42"/>
<rect x="163.86" y="50.17" width="1.0" height="5.4" fill="#1f6fb4" opacity="0.42"/>
<rect x="83.23" y="50.17" width="1.0" height="5.4" fill="#1f6fb4" opacity="0.42"/>
<rect x="50.9" y="57.63" width="68.00" height="5.4" fill="#eaeaea"/>
<rect x="121.3" y="57.63" width="54.40" height="5.4" fill="#eaeaea"/>
<rect x="117.04" y="57.63" width="1.0" height="5.4" fill="#ef7d22" opacity="0.42"/>
<rect x="56.47" y="57.63" width="1.0" height="5.4" fill="#1f6fb4" opacity="0.42"/>
<rect x="159.79" y="57.63" width="1.0" height="5.4" fill="#1f6fb4" opacity="0.42"/>
<rect x="165.34" y="57.63" width="1.0" height="5.4" fill="#9c2a0c" opacity="0.42"/>
<rect x="146.46" y="57.63" width="1.0" height="5.4" fill="#ef7d22" opacity="0.42"/>
<rect x="133.51" y="57.63" width="1.0" height="5.4" fill="#9c2a0c" opacity="0.42"/>
<rect x="166.82" y="57.63" width="1.0" height="5.4" fill="#9c2a0c" opacity="0.42"/>
<rect x="150.17" y="57.63" width="1.0" height="5.4" fill="#9c2a0c" opacity="0.42"/>
<rect x="132.03" y="57.63" width="1.0" height="5.4" fill="#f0b400" opacity="0.42"/>
<rect x="98.09" y="57.63" width="1.0" height="5.4" fill="#ef7d22" opacity="0.42"/>
<rect x="104.04" y="57.63" width="1.0" height="5.4" fill="#1f6fb4" opacity="0.42"/>
<rect x="54.62" y="57.63" width="1.0" height="5.4" fill="#9c2a0c" opacity="0.42"/>
<rect x="83.60" y="57.63" width="1.0" height="5.4" fill="#1f6fb4" opacity="0.42"/>
<rect x="69.48" y="57.63" width="1.0" height="5.4" fill="#1f6fb4" opacity="0.42"/>
<rect x="65.76" y="57.63" width="1.0" height="5.4" fill="#9c2a0c" opacity="0.42"/>
<rect x="140.91" y="57.63" width="1.0" height="5.4" fill="#9c2a0c" opacity="0.42"/>
<rect x="78.03" y="57.63" width="1.0" height="5.4" fill="#f0b400" opacity="0.42"/>
<rect x="156.83" y="57.63" width="1.0" height="5.4" fill="#ef7d22" opacity="0.42"/>
<rect x="73.20" y="57.63" width="1.0" height="5.4" fill="#9c2a0c" opacity="0.42"/>
<rect x="99.21" y="57.63" width="1.0" height="5.4" fill="#9c2a0c" opacity="0.42"/>
<rect x="83.97" y="57.63" width="1.0" height="5.4" fill="#ef7d22" opacity="0.42"/>
<rect x="90.29" y="57.63" width="1.0" height="5.4" fill="#1f6fb4" opacity="0.42"/>
<rect x="169.78" y="57.63" width="1.0" height="5.4" fill="#ef7d22" opacity="0.42"/>
<rect x="150.54" y="57.63" width="1.0" height="5.4" fill="#ef7d22" opacity="0.42"/>
<rect x="107.38" y="57.63" width="1.0" height="5.4" fill="#9c2a0c" opacity="0.42"/>
<rect x="174.22" y="57.63" width="1.0" height="5.4" fill="#9c2a0c" opacity="0.42"/>
<rect x="66.88" y="57.63" width="1.0" height="5.4" fill="#9c2a0c" opacity="0.42"/>
<rect x="62.79" y="57.63" width="1.0" height="5.4" fill="#1f6fb4" opacity="0.42"/>
<rect x="97.72" y="57.63" width="1.0" height="5.4" fill="#ef7d22" opacity="0.42"/>
<rect x="98.83" y="57.63" width="1.0" height="5.4" fill="#9c2a0c" opacity="0.42"/>
<rect x="159.05" y="57.63" width="1.0" height="5.4" fill="#9c2a0c" opacity="0.42"/>
<rect x="93.26" y="57.63" width="1.0" height="5.4" fill="#f0b400" opacity="0.42"/>
<rect x="169.04" y="57.63" width="1.0" height="5.4" fill="#1f6fb4" opacity="0.42"/>
<rect x="57.22" y="57.63" width="1.0" height="5.4" fill="#ef7d22" opacity="0.42"/>
<rect x="146.09" y="57.63" width="1.0" height="5.4" fill="#9c2a0c" opacity="0.42"/>
<rect x="136.84" y="57.63" width="1.0" height="5.4" fill="#ef7d22" opacity="0.42"/>
<rect x="104.78" y="57.63" width="1.0" height="5.4" fill="#1f6fb4" opacity="0.42"/>
<rect x="89.92" y="57.63" width="1.0" height="5.4" fill="#1f6fb4" opacity="0.42"/>
<rect x="167.93" y="57.63" width="1.0" height="5.4" fill="#ef7d22" opacity="0.42"/>
<rect x="75.05" y="57.63" width="1.0" height="5.4" fill="#f0b400" opacity="0.42"/>
<rect x="129.07" y="57.63" width="1.0" height="5.4" fill="#ef7d22" opacity="0.42"/>
<rect x="127.96" y="57.63" width="1.0" height="5.4" fill="#1f6fb4" opacity="0.42"/>
<rect x="61.68" y="57.63" width="1.0" height="5.4" fill="#1f6fb4" opacity="0.42"/>
<rect x="133.14" y="57.63" width="1.0" height="5.4" fill="#9c2a0c" opacity="0.42"/>
<rect x="163.86" y="57.63" width="1.0" height="5.4" fill="#ef7d22" opacity="0.42"/>
<rect x="164.60" y="57.63" width="1.0" height="5.4" fill="#f0b400" opacity="0.42"/>
<rect x="149.80" y="57.63" width="1.0" height="5.4" fill="#ef7d22" opacity="0.42"/>
<rect x="92.15" y="57.63" width="1.0" height="5.4" fill="#9c2a0c" opacity="0.42"/>
<rect x="50.9" y="65.09" width="68.00" height="5.4" fill="#eaeaea"/>
<rect x="121.3" y="65.09" width="54.40" height="5.4" fill="#eaeaea"/>
<rect x="83.60" y="65.09" width="1.0" height="5.4" fill="#1f6fb4" opacity="0.42"/>
<rect x="168.67" y="65.09" width="1.0" height="5.4" fill="#ef7d22" opacity="0.42"/>
<rect x="105.15" y="65.09" width="1.0" height="5.4" fill="#ef7d22" opacity="0.42"/>
<rect x="140.54" y="65.09" width="1.0" height="5.4" fill="#ef7d22" opacity="0.42"/>
<rect x="72.45" y="65.09" width="1.0" height="5.4" fill="#ef7d22" opacity="0.42"/>
<rect x="96.23" y="65.09" width="1.0" height="5.4" fill="#ef7d22" opacity="0.42"/>
<rect x="73.94" y="65.09" width="1.0" height="5.4" fill="#f0b400" opacity="0.42"/>
<rect x="159.79" y="65.09" width="1.0" height="5.4" fill="#f0b400" opacity="0.42"/>
<rect x="117.41" y="65.09" width="1.0" height="5.4" fill="#ef7d22" opacity="0.42"/>
<rect x="152.39" y="65.09" width="1.0" height="5.4" fill="#f0b400" opacity="0.42"/>
<rect x="136.47" y="65.09" width="1.0" height="5.4" fill="#ef7d22" opacity="0.42"/>
<rect x="88.06" y="65.09" width="1.0" height="5.4" fill="#9c2a0c" opacity="0.42"/>
<rect x="123.89" y="65.09" width="1.0" height="5.4" fill="#1f6fb4" opacity="0.42"/>
<rect x="136.10" y="65.09" width="1.0" height="5.4" fill="#ef7d22" opacity="0.42"/>
<rect x="147.20" y="65.09" width="1.0" height="5.4" fill="#ef7d22" opacity="0.42"/>
<rect x="122.04" y="65.09" width="1.0" height="5.4" fill="#ef7d22" opacity="0.42"/>
<rect x="116.30" y="65.09" width="1.0" height="5.4" fill="#9c2a0c" opacity="0.42"/>
<rect x="54.62" y="65.09" width="1.0" height="5.4" fill="#9c2a0c" opacity="0.42"/>
<rect x="170.89" y="65.09" width="1.0" height="5.4" fill="#1f6fb4" opacity="0.42"/>
<rect x="174.59" y="65.09" width="1.0" height="5.4" fill="#ef7d22" opacity="0.42"/>
<rect x="126.85" y="65.09" width="1.0" height="5.4" fill="#ef7d22" opacity="0.42"/>
<rect x="75.05" y="65.09" width="1.0" height="5.4" fill="#1f6fb4" opacity="0.42"/>
<rect x="60.19" y="65.09" width="1.0" height="5.4" fill="#9c2a0c" opacity="0.42"/>
<rect x="79.88" y="65.09" width="1.0" height="5.4" fill="#1f6fb4" opacity="0.42"/>
<rect x="175.33" y="65.09" width="1.0" height="5.4" fill="#f0b400" opacity="0.42"/>
<rect x="81.37" y="65.09" width="1.0" height="5.4" fill="#1f6fb4" opacity="0.42"/>
<rect x="77.65" y="65.09" width="1.0" height="5.4" fill="#1f6fb4" opacity="0.42"/>
<rect x="169.04" y="65.09" width="1.0" height="5.4" fill="#9c2a0c" opacity="0.42"/>
<rect x="129.44" y="65.09" width="1.0" height="5.4" fill="#1f6fb4" opacity="0.42"/>
<rect x="173.48" y="65.09" width="1.0" height="5.4" fill="#1f6fb4" opacity="0.42"/>
<rect x="84.34" y="65.09" width="1.0" height="5.4" fill="#9c2a0c" opacity="0.42"/>
<rect x="142.39" y="65.09" width="1.0" height="5.4" fill="#ef7d22" opacity="0.42"/>
<rect x="90.66" y="65.09" width="1.0" height="5.4" fill="#1f6fb4" opacity="0.42"/>
<rect x="156.83" y="65.09" width="1.0" height="5.4" fill="#f0b400" opacity="0.42"/>
<rect x="68.74" y="65.09" width="1.0" height="5.4" fill="#ef7d22" opacity="0.42"/>
<rect x="50.9" y="72.55" width="68.00" height="5.4" fill="#eaeaea"/>
<rect x="121.3" y="72.55" width="54.40" height="5.4" fill="#eaeaea"/>
<rect x="137.21" y="72.55" width="1.0" height="5.4" fill="#1f6fb4" opacity="0.42"/>
<rect x="69.11" y="72.55" width="1.0" height="5.4" fill="#1f6fb4" opacity="0.42"/>
<rect x="65.02" y="72.55" width="1.0" height="5.4" fill="#1f6fb4" opacity="0.42"/>
<rect x="149.06" y="72.55" width="1.0" height="5.4" fill="#1f6fb4" opacity="0.42"/>
<rect x="175.33" y="72.55" width="1.0" height="5.4" fill="#1f6fb4" opacity="0.42"/>
<rect x="53.50" y="72.55" width="1.0" height="5.4" fill="#1f6fb4" opacity="0.42"/>
<rect x="74.31" y="72.55" width="1.0" height="5.4" fill="#1f6fb4" opacity="0.42"/>
<rect x="60.93" y="72.55" width="1.0" height="5.4" fill="#1f6fb4" opacity="0.42"/>
<rect x="117.79" y="72.55" width="1.0" height="5.4" fill="#1f6fb4" opacity="0.42"/>
<rect x="174.59" y="72.55" width="1.0" height="5.4" fill="#1f6fb4" opacity="0.42"/>
<rect x="113.70" y="72.55" width="1.0" height="5.4" fill="#1f6fb4" opacity="0.42"/>
<rect x="62.42" y="72.55" width="1.0" height="5.4" fill="#1f6fb4" opacity="0.42"/>
<rect x="81.37" y="72.55" width="1.0" height="5.4" fill="#1f6fb4" opacity="0.42"/>
<rect x="112.95" y="72.55" width="1.0" height="5.4" fill="#1f6fb4" opacity="0.42"/>
<rect x="101.44" y="72.55" width="1.0" height="5.4" fill="#1f6fb4" opacity="0.42"/>
<rect x="173.11" y="72.55" width="1.0" height="5.4" fill="#1f6fb4" opacity="0.42"/>
<rect x="72.45" y="72.55" width="1.0" height="5.4" fill="#1f6fb4" opacity="0.42"/>
<rect x="90.66" y="72.55" width="1.0" height="5.4" fill="#1f6fb4" opacity="0.42"/>
<rect x="159.42" y="72.55" width="1.0" height="5.4" fill="#1f6fb4" opacity="0.42"/>
<rect x="131.29" y="72.55" width="1.0" height="5.4" fill="#1f6fb4" opacity="0.42"/>
<rect x="126.11" y="72.55" width="1.0" height="5.4" fill="#1f6fb4" opacity="0.42"/>
<rect x="135.36" y="72.55" width="1.0" height="5.4" fill="#1f6fb4" opacity="0.42"/>
<rect x="63.16" y="72.55" width="1.0" height="5.4" fill="#1f6fb4" opacity="0.42"/>
<rect x="165.71" y="72.55" width="1.0" height="5.4" fill="#1f6fb4" opacity="0.42"/>
<rect x="90.29" y="72.55" width="1.0" height="5.4" fill="#1f6fb4" opacity="0.42"/>
<rect x="50.9" y="80.01" width="68.00" height="5.4" fill="#eaeaea"/>
<rect x="121.3" y="80.01" width="54.40" height="5.4" fill="#eaeaea"/>
<rect x="62.05" y="80.01" width="1.0" height="5.4" fill="#1f6fb4" opacity="0.42"/>
<rect x="82.86" y="80.01" width="1.0" height="5.4" fill="#1f6fb4" opacity="0.42"/>
<rect x="165.71" y="80.01" width="1.0" height="5.4" fill="#1f6fb4" opacity="0.42"/>
<rect x="109.24" y="80.01" width="1.0" height="5.4" fill="#1f6fb4" opacity="0.42"/>
<rect x="131.66" y="80.01" width="1.0" height="5.4" fill="#1f6fb4" opacity="0.42"/>
<rect x="97.72" y="80.01" width="1.0" height="5.4" fill="#1f6fb4" opacity="0.42"/>
<rect x="152.02" y="80.01" width="1.0" height="5.4" fill="#1f6fb4" opacity="0.42"/>
<rect x="64.65" y="80.01" width="1.0" height="5.4" fill="#1f6fb4" opacity="0.42"/>
<rect x="57.22" y="80.01" width="1.0" height="5.4" fill="#1f6fb4" opacity="0.42"/>
<rect x="143.87" y="80.01" width="1.0" height="5.4" fill="#1f6fb4" opacity="0.42"/>
<rect x="165.34" y="80.01" width="1.0" height="5.4" fill="#1f6fb4" opacity="0.42"/>
<rect x="154.24" y="80.01" width="1.0" height="5.4" fill="#1f6fb4" opacity="0.42"/>
<rect x="112.21" y="80.01" width="1.0" height="5.4" fill="#1f6fb4" opacity="0.42"/>
<rect x="73.94" y="80.01" width="1.0" height="5.4" fill="#1f6fb4" opacity="0.42"/>
<rect x="122.04" y="80.01" width="1.0" height="5.4" fill="#1f6fb4" opacity="0.42"/>
<rect x="140.17" y="80.01" width="1.0" height="5.4" fill="#1f6fb4" opacity="0.42"/>
<rect x="169.41" y="80.01" width="1.0" height="5.4" fill="#1f6fb4" opacity="0.42"/>
<rect x="136.84" y="80.01" width="1.0" height="5.4" fill="#1f6fb4" opacity="0.42"/>
<rect x="111.84" y="80.01" width="1.0" height="5.4" fill="#1f6fb4" opacity="0.42"/>
<rect x="56.10" y="80.01" width="1.0" height="5.4" fill="#1f6fb4" opacity="0.42"/>
<rect x="101.44" y="80.01" width="1.0" height="5.4" fill="#1f6fb4" opacity="0.42"/>
<rect x="161.27" y="80.01" width="1.0" height="5.4" fill="#1f6fb4" opacity="0.42"/>
<rect x="133.88" y="80.01" width="1.0" height="5.4" fill="#1f6fb4" opacity="0.42"/>
<rect x="169.78" y="80.01" width="1.0" height="5.4" fill="#1f6fb4" opacity="0.42"/>
<rect x="86.57" y="80.01" width="1.0" height="5.4" fill="#1f6fb4" opacity="0.42"/>
<rect x="152.76" y="80.01" width="1.0" height="5.4" fill="#1f6fb4" opacity="0.42"/>
<rect x="103.67" y="80.01" width="1.0" height="5.4" fill="#1f6fb4" opacity="0.42"/>
<rect x="64.28" y="80.01" width="1.0" height="5.4" fill="#1f6fb4" opacity="0.42"/>
<rect x="50.9" y="87.47" width="68.00" height="5.4" fill="#eaeaea"/>
<rect x="121.3" y="87.47" width="54.40" height="5.4" fill="#eaeaea"/>
<rect x="142.39" y="87.47" width="1.0" height="5.4" fill="#9c2a0c" opacity="0.42"/>
<rect x="125.37" y="87.47" width="1.0" height="5.4" fill="#1f6fb4" opacity="0.42"/>
<rect x="136.84" y="87.47" width="1.0" height="5.4" fill="#1f6fb4" opacity="0.42"/>
<rect x="129.07" y="87.47" width="1.0" height="5.4" fill="#ef7d22" opacity="0.42"/>
<rect x="121.67" y="87.47" width="1.0" height="5.4" fill="#1f6fb4" opacity="0.42"/>
<rect x="121.30" y="87.47" width="1.0" height="5.4" fill="#1f6fb4" opacity="0.42"/>
<rect x="57.22" y="87.47" width="1.0" height="5.4" fill="#9c2a0c" opacity="0.42"/>
<rect x="129.44" y="87.47" width="1.0" height="5.4" fill="#1f6fb4" opacity="0.42"/>
<rect x="165.34" y="87.47" width="1.0" height="5.4" fill="#ef7d22" opacity="0.42"/>
<rect x="163.49" y="87.47" width="1.0" height="5.4" fill="#9c2a0c" opacity="0.42"/>
<rect x="139.43" y="87.47" width="1.0" height="5.4" fill="#9c2a0c" opacity="0.42"/>
<rect x="125.74" y="87.47" width="1.0" height="5.4" fill="#9c2a0c" opacity="0.42"/>
<rect x="104.41" y="87.47" width="1.0" height="5.4" fill="#ef7d22" opacity="0.42"/>
<rect x="83.97" y="87.47" width="1.0" height="5.4" fill="#9c2a0c" opacity="0.42"/>
<rect x="107.38" y="87.47" width="1.0" height="5.4" fill="#9c2a0c" opacity="0.42"/>
<rect x="139.06" y="87.47" width="1.0" height="5.4" fill="#9c2a0c" opacity="0.42"/>
<rect x="153.13" y="87.47" width="1.0" height="5.4" fill="#9c2a0c" opacity="0.42"/>
<rect x="118.53" y="87.47" width="1.0" height="5.4" fill="#9c2a0c" opacity="0.42"/>
<rect x="84.71" y="87.47" width="1.0" height="5.4" fill="#1f6fb4" opacity="0.42"/>
<rect x="147.57" y="87.47" width="1.0" height="5.4" fill="#1f6fb4" opacity="0.42"/>
<rect x="171.26" y="87.47" width="1.0" height="5.4" fill="#9c2a0c" opacity="0.42"/>
<rect x="90.66" y="87.47" width="1.0" height="5.4" fill="#9c2a0c" opacity="0.42"/>
<rect x="76.54" y="87.47" width="1.0" height="5.4" fill="#ef7d22" opacity="0.42"/>
<rect x="50.9" y="94.93" width="68.00" height="5.4" fill="#eaeaea"/>
<rect x="121.3" y="94.93" width="54.40" height="5.4" fill="#eaeaea"/>
<rect x="159.05" y="94.93" width="1.0" height="5.4" fill="#9c2a0c" opacity="0.42"/>
<rect x="102.18" y="94.93" width="1.0" height="5.4" fill="#1f6fb4" opacity="0.42"/>
<rect x="101.06" y="94.93" width="1.0" height="5.4" fill="#ef7d22" opacity="0.42"/>
<rect x="81.74" y="94.93" width="1.0" height="5.4" fill="#ef7d22" opacity="0.42"/>
<rect x="85.83" y="94.93" width="1.0" height="5.4" fill="#1f6fb4" opacity="0.42"/>
<rect x="52.39" y="94.93" width="1.0" height="5.4" fill="#1f6fb4" opacity="0.42"/>
<rect x="154.61" y="94.93" width="1.0" height="5.4" fill="#1f6fb4" opacity="0.42"/>
<rect x="75.42" y="94.93" width="1.0" height="5.4" fill="#9c2a0c" opacity="0.42"/>
<rect x="81.37" y="94.93" width="1.0" height="5.4" fill="#ef7d22" opacity="0.42"/>
<rect x="64.28" y="94.93" width="1.0" height="5.4" fill="#ef7d22" opacity="0.42"/>
<rect x="99.58" y="94.93" width="1.0" height="5.4" fill="#1f6fb4" opacity="0.42"/>
<rect x="72.82" y="94.93" width="1.0" height="5.4" fill="#1f6fb4" opacity="0.42"/>
<rect x="169.04" y="94.93" width="1.0" height="5.4" fill="#1f6fb4" opacity="0.42"/>
<rect x="66.51" y="94.93" width="1.0" height="5.4" fill="#1f6fb4" opacity="0.42"/>
<rect x="80.26" y="94.93" width="1.0" height="5.4" fill="#1f6fb4" opacity="0.42"/>
<rect x="166.08" y="94.93" width="1.0" height="5.4" fill="#1f6fb4" opacity="0.42"/>
<rect x="139.43" y="94.93" width="1.0" height="5.4" fill="#9c2a0c" opacity="0.42"/>
<rect x="95.49" y="94.93" width="1.0" height="5.4" fill="#1f6fb4" opacity="0.42"/>
<rect x="133.51" y="94.93" width="1.0" height="5.4" fill="#1f6fb4" opacity="0.42"/>
<rect x="136.10" y="94.93" width="1.0" height="5.4" fill="#ef7d22" opacity="0.42"/>
<rect x="122.04" y="94.93" width="1.0" height="5.4" fill="#9c2a0c" opacity="0.42"/>
<rect x="147.94" y="94.93" width="1.0" height="5.4" fill="#9c2a0c" opacity="0.42"/>
<rect x="50.9" y="102.39" width="68.00" height="5.4" fill="#eaeaea"/>
<rect x="121.3" y="102.39" width="54.40" height="5.4" fill="#eaeaea"/>
<rect x="116.30" y="102.39" width="1.0" height="5.4" fill="#1f6fb4" opacity="0.42"/>
<rect x="60.19" y="102.39" width="1.0" height="5.4" fill="#1f6fb4" opacity="0.42"/>
<rect x="98.46" y="102.39" width="1.0" height="5.4" fill="#1f6fb4" opacity="0.42"/>
<rect x="112.58" y="102.39" width="1.0" height="5.4" fill="#1f6fb4" opacity="0.42"/>
<rect x="170.15" y="102.39" width="1.0" height="5.4" fill="#1f6fb4" opacity="0.42"/>
<rect x="147.57" y="102.39" width="1.0" height="5.4" fill="#1f6fb4" opacity="0.42"/>
<rect x="117.04" y="102.39" width="1.0" height="5.4" fill="#1f6fb4" opacity="0.42"/>
<rect x="102.55" y="102.39" width="1.0" height="5.4" fill="#1f6fb4" opacity="0.42"/>
<rect x="158.31" y="102.39" width="1.0" height="5.4" fill="#1f6fb4" opacity="0.42"/>
<rect x="71.71" y="102.39" width="1.0" height="5.4" fill="#1f6fb4" opacity="0.42"/>
<rect x="89.54" y="102.39" width="1.0" height="5.4" fill="#1f6fb4" opacity="0.42"/>
<rect x="101.44" y="102.39" width="1.0" height="5.4" fill="#1f6fb4" opacity="0.42"/>
<rect x="108.12" y="102.39" width="1.0" height="5.4" fill="#1f6fb4" opacity="0.42"/>
<rect x="147.20" y="102.39" width="1.0" height="5.4" fill="#1f6fb4" opacity="0.42"/>
<rect x="105.89" y="102.39" width="1.0" height="5.4" fill="#1f6fb4" opacity="0.42"/>
<rect x="115.56" y="102.39" width="1.0" height="5.4" fill="#1f6fb4" opacity="0.42"/>
<rect x="63.16" y="102.39" width="1.0" height="5.4" fill="#1f6fb4" opacity="0.42"/>
<rect x="128.70" y="102.39" width="1.0" height="5.4" fill="#1f6fb4" opacity="0.42"/>
<rect x="67.25" y="102.39" width="1.0" height="5.4" fill="#1f6fb4" opacity="0.42"/>
<rect x="162.01" y="102.39" width="1.0" height="5.4" fill="#1f6fb4" opacity="0.42"/>
<rect x="50.9" y="109.85" width="68.00" height="5.4" fill="#eaeaea"/>
<rect x="121.3" y="109.85" width="54.40" height="5.4" fill="#eaeaea"/>
<rect x="59.82" y="109.85" width="1.0" height="5.4" fill="#1f6fb4" opacity="0.42"/>
<rect x="98.46" y="109.85" width="1.0" height="5.4" fill="#1f6fb4" opacity="0.42"/>
<rect x="163.86" y="109.85" width="1.0" height="5.4" fill="#1f6fb4" opacity="0.42"/>
<rect x="62.79" y="109.85" width="1.0" height="5.4" fill="#1f6fb4" opacity="0.42"/>
<rect x="100.69" y="109.85" width="1.0" height="5.4" fill="#1f6fb4" opacity="0.42"/>
<rect x="88.06" y="109.85" width="1.0" height="5.4" fill="#1f6fb4" opacity="0.42"/>
<rect x="56.85" y="109.85" width="1.0" height="5.4" fill="#1f6fb4" opacity="0.42"/>
<rect x="111.47" y="109.85" width="1.0" height="5.4" fill="#1f6fb4" opacity="0.42"/>
<rect x="125.74" y="109.85" width="1.0" height="5.4" fill="#1f6fb4" opacity="0.42"/>
<rect x="160.53" y="109.85" width="1.0" height="5.4" fill="#1f6fb4" opacity="0.42"/>
<rect x="62.05" y="109.85" width="1.0" height="5.4" fill="#1f6fb4" opacity="0.42"/>
<rect x="164.97" y="109.85" width="1.0" height="5.4" fill="#1f6fb4" opacity="0.42"/>
<rect x="54.24" y="109.85" width="1.0" height="5.4" fill="#1f6fb4" opacity="0.42"/>
<rect x="162.75" y="109.85" width="1.0" height="5.4" fill="#1f6fb4" opacity="0.42"/>
<rect x="101.06" y="109.85" width="1.0" height="5.4" fill="#1f6fb4" opacity="0.42"/>
<rect x="172.00" y="109.85" width="1.0" height="5.4" fill="#1f6fb4" opacity="0.42"/>
<rect x="125.37" y="109.85" width="1.0" height="5.4" fill="#1f6fb4" opacity="0.42"/>
<rect x="50.9" y="117.31" width="68.00" height="5.4" fill="#eaeaea"/>
<rect x="121.3" y="117.31" width="54.40" height="5.4" fill="#eaeaea"/>
<rect x="134.62" y="117.31" width="1.0" height="5.4" fill="#1f6fb4" opacity="0.42"/>
<rect x="116.67" y="117.31" width="1.0" height="5.4" fill="#ef7d22" opacity="0.42"/>
<rect x="103.29" y="117.31" width="1.0" height="5.4" fill="#ef7d22" opacity="0.42"/>
<rect x="143.13" y="117.31" width="1.0" height="5.4" fill="#ef7d22" opacity="0.42"/>
<rect x="140.91" y="117.31" width="1.0" height="5.4" fill="#ef7d22" opacity="0.42"/>
<rect x="140.54" y="117.31" width="1.0" height="5.4" fill="#1f6fb4" opacity="0.42"/>
<rect x="157.57" y="117.31" width="1.0" height="5.4" fill="#1f6fb4" opacity="0.42"/>
<rect x="126.11" y="117.31" width="1.0" height="5.4" fill="#1f6fb4" opacity="0.42"/>
<rect x="67.99" y="117.31" width="1.0" height="5.4" fill="#ef7d22" opacity="0.42"/>
<rect x="92.52" y="117.31" width="1.0" height="5.4" fill="#1f6fb4" opacity="0.42"/>
<rect x="64.65" y="117.31" width="1.0" height="5.4" fill="#ef7d22" opacity="0.42"/>
<rect x="111.84" y="117.31" width="1.0" height="5.4" fill="#1f6fb4" opacity="0.42"/>
<rect x="53.13" y="117.31" width="1.0" height="5.4" fill="#1f6fb4" opacity="0.42"/>
<rect x="173.85" y="117.31" width="1.0" height="5.4" fill="#ef7d22" opacity="0.42"/>
<rect x="75.05" y="117.31" width="1.0" height="5.4" fill="#ef7d22" opacity="0.42"/>
<rect x="80.26" y="117.31" width="1.0" height="5.4" fill="#1f6fb4" opacity="0.42"/>
<rect x="64.28" y="117.31" width="1.0" height="5.4" fill="#1f6fb4" opacity="0.42"/>
<rect x="121.67" y="117.31" width="1.0" height="5.4" fill="#1f6fb4" opacity="0.42"/>
<rect x="86.20" y="117.31" width="1.0" height="5.4" fill="#ef7d22" opacity="0.42"/>
<rect x="57.96" y="117.31" width="1.0" height="5.4" fill="#ef7d22" opacity="0.42"/>
<rect x="50.9" y="124.77" width="68.00" height="5.4" fill="#eaeaea"/>
<rect x="121.3" y="124.77" width="54.40" height="5.4" fill="#eaeaea"/>
<rect x="73.57" y="124.77" width="1.0" height="5.4" fill="#ef7d22" opacity="0.42"/>
<rect x="117.04" y="124.77" width="1.0" height="5.4" fill="#ef7d22" opacity="0.42"/>
<rect x="112.58" y="124.77" width="1.0" height="5.4" fill="#ef7d22" opacity="0.42"/>
<rect x="150.91" y="124.77" width="1.0" height="5.4" fill="#ef7d22" opacity="0.42"/>
<rect x="104.04" y="124.77" width="1.0" height="5.4" fill="#ef7d22" opacity="0.42"/>
<rect x="145.72" y="124.77" width="1.0" height="5.4" fill="#ef7d22" opacity="0.42"/>
<rect x="85.09" y="124.77" width="1.0" height="5.4" fill="#ef7d22" opacity="0.42"/>
<rect x="57.22" y="124.77" width="1.0" height="5.4" fill="#ef7d22" opacity="0.42"/>
<rect x="157.20" y="124.77" width="1.0" height="5.4" fill="#ef7d22" opacity="0.42"/>
<rect x="133.51" y="124.77" width="1.0" height="5.4" fill="#ef7d22" opacity="0.42"/>
<rect x="107.75" y="124.77" width="1.0" height="5.4" fill="#ef7d22" opacity="0.42"/>
<rect x="98.09" y="124.77" width="1.0" height="5.4" fill="#ef7d22" opacity="0.42"/>
<rect x="93.63" y="124.77" width="1.0" height="5.4" fill="#ef7d22" opacity="0.42"/>
<rect x="162.75" y="124.77" width="1.0" height="5.4" fill="#ef7d22" opacity="0.42"/>
<rect x="50.9" y="132.23" width="68.00" height="5.4" fill="#eaeaea"/>
<rect x="121.3" y="132.23" width="54.40" height="5.4" fill="#eaeaea"/>
<rect x="127.22" y="132.23" width="1.0" height="5.4" fill="#1f6fb4" opacity="0.42"/>
<rect x="126.11" y="132.23" width="1.0" height="5.4" fill="#1f6fb4" opacity="0.42"/>
<rect x="84.34" y="132.23" width="1.0" height="5.4" fill="#1f6fb4" opacity="0.42"/>
<rect x="112.58" y="132.23" width="1.0" height="5.4" fill="#1f6fb4" opacity="0.42"/>
<rect x="65.76" y="132.23" width="1.0" height="5.4" fill="#1f6fb4" opacity="0.42"/>
<rect x="62.79" y="132.23" width="1.0" height="5.4" fill="#ef7d22" opacity="0.42"/>
<rect x="175.33" y="132.23" width="1.0" height="5.4" fill="#1f6fb4" opacity="0.42"/>
<rect x="170.52" y="132.23" width="1.0" height="5.4" fill="#1f6fb4" opacity="0.42"/>
<rect x="165.71" y="132.23" width="1.0" height="5.4" fill="#1f6fb4" opacity="0.42"/>
<rect x="86.57" y="132.23" width="1.0" height="5.4" fill="#ef7d22" opacity="0.42"/>
<rect x="152.02" y="132.23" width="1.0" height="5.4" fill="#1f6fb4" opacity="0.42"/>
<rect x="91.77" y="132.23" width="1.0" height="5.4" fill="#1f6fb4" opacity="0.42"/>
<rect x="58.33" y="132.23" width="1.0" height="5.4" fill="#1f6fb4" opacity="0.42"/>
<rect x="107.01" y="132.23" width="1.0" height="5.4" fill="#1f6fb4" opacity="0.42"/>
<rect x="112.95" y="132.23" width="1.0" height="5.4" fill="#ef7d22" opacity="0.42"/>
<rect x="155.35" y="132.23" width="1.0" height="5.4" fill="#ef7d22" opacity="0.42"/>
<rect x="83.97" y="132.23" width="1.0" height="5.4" fill="#1f6fb4" opacity="0.42"/>
<rect x="54.24" y="132.23" width="1.0" height="5.4" fill="#1f6fb4" opacity="0.42"/>
<line x1="211.3" y1="33.8" x2="261.7" y2="33.8" stroke="#777" stroke-width="1.2"/>
<line x1="211.90" y1="31.8" x2="211.90" y2="33.8" stroke="#777" stroke-width="0.9"/>
<text x="211.90" y="29.40" font-size="6.9" fill="#333" text-anchor="middle" font-weight="normal" >0</text>
<line x1="226.60" y1="31.8" x2="226.60" y2="33.8" stroke="#777" stroke-width="0.9"/>
<text x="226.60" y="29.40" font-size="6.9" fill="#333" text-anchor="middle" font-weight="normal" >50</text>
<line x1="241.30" y1="31.8" x2="241.30" y2="33.8" stroke="#777" stroke-width="0.9"/>
<text x="241.30" y="29.40" font-size="6.9" fill="#333" text-anchor="middle" font-weight="normal" >100</text>
<line x1="256.00" y1="31.8" x2="256.00" y2="33.8" stroke="#777" stroke-width="0.9"/>
<text x="256.00" y="29.40" font-size="6.9" fill="#333" text-anchor="middle" font-weight="normal" >150</text>
<rect x="211.90" y="36.10" width="0.88" height="4.0" fill="#1e8a3e"/>
<rect x="212.78" y="36.10" width="4.70" height="4.0" fill="#f0b400"/>
<rect x="217.49" y="36.10" width="8.23" height="4.0" fill="#9c2a0c"/>
<rect x="225.72" y="36.10" width="17.64" height="4.0" fill="#ef7d22"/>
<rect x="243.36" y="36.10" width="17.05" height="4.0" fill="#1f6fb4"/>
<rect x="211.90" y="43.56" width="0.88" height="4.0" fill="#1e8a3e"/>
<rect x="212.78" y="43.56" width="2.65" height="4.0" fill="#f0b400"/>
<rect x="215.43" y="43.56" width="10.88" height="4.0" fill="#9c2a0c"/>
<rect x="226.31" y="43.56" width="22.05" height="4.0" fill="#ef7d22"/>
<rect x="248.36" y="43.56" width="5.00" height="4.0" fill="#1f6fb4"/>
<rect x="211.90" y="51.02" width="3.23" height="4.0" fill="#9c2a0c"/>
<rect x="215.13" y="51.02" width="14.11" height="4.0" fill="#1f6fb4"/>
<rect x="211.90" y="58.48" width="1.18" height="4.0" fill="#f0b400"/>
<rect x="213.08" y="58.48" width="4.12" height="4.0" fill="#9c2a0c"/>
<rect x="217.19" y="58.48" width="3.53" height="4.0" fill="#ef7d22"/>
<rect x="220.72" y="58.48" width="2.94" height="4.0" fill="#1f6fb4"/>
<rect x="211.90" y="65.94" width="1.18" height="4.0" fill="#f0b400"/>
<rect x="213.08" y="65.94" width="1.47" height="4.0" fill="#9c2a0c"/>
<rect x="214.55" y="65.94" width="3.53" height="4.0" fill="#ef7d22"/>
<rect x="218.07" y="65.94" width="2.35" height="4.0" fill="#1f6fb4"/>
<rect x="211.90" y="73.40" width="6.17" height="4.0" fill="#1f6fb4"/>
<rect x="211.90" y="80.86" width="6.76" height="4.0" fill="#1f6fb4"/>
<rect x="211.90" y="88.32" width="2.94" height="4.0" fill="#9c2a0c"/>
<rect x="214.84" y="88.32" width="0.88" height="4.0" fill="#ef7d22"/>
<rect x="215.72" y="88.32" width="1.76" height="4.0" fill="#1f6fb4"/>
<rect x="211.90" y="95.78" width="1.18" height="4.0" fill="#9c2a0c"/>
<rect x="213.08" y="95.78" width="1.18" height="4.0" fill="#ef7d22"/>
<rect x="214.25" y="95.78" width="2.94" height="4.0" fill="#1f6fb4"/>
<rect x="211.90" y="103.24" width="5.00" height="4.0" fill="#1f6fb4"/>
<rect x="211.90" y="110.70" width="4.12" height="4.0" fill="#1f6fb4"/>
<rect x="211.90" y="118.16" width="2.35" height="4.0" fill="#ef7d22"/>
<rect x="214.25" y="118.16" width="2.35" height="4.0" fill="#1f6fb4"/>
<rect x="211.90" y="125.62" width="3.53" height="4.0" fill="#ef7d22"/>
<rect x="211.90" y="133.08" width="0.88" height="4.0" fill="#ef7d22"/>
<rect x="212.78" y="133.08" width="3.53" height="4.0" fill="#1f6fb4"/>
<text x="267.80" y="41.80" font-size="7.95" fill="#1a1a1a" text-anchor="start" font-weight="bold" >Gene Type</text>
<rect x="268.3" y="47.2" width="9.2" height="9" fill="#c9b48a"/>
<rect x="268.3" y="57.2" width="9.2" height="8.6" fill="#5e8a3a"/>
<text x="280.30" y="54.60" font-size="8.2" fill="#3a3a3a" text-anchor="start" font-weight="normal" >Oncogene</text>
<text x="280.30" y="64.60" font-size="8.2" fill="#3a3a3a" text-anchor="start" font-weight="normal" >Unknown</text>
<text x="337.60" y="42.30" font-size="7.6" fill="#1a1a1a" text-anchor="start" font-weight="bold" >Group</text>
<rect x="337.9" y="46.9" width="8.9" height="8.9" fill="#d4ac52"/>
<rect x="337.9" y="57.0" width="8.9" height="9.1" fill="#4a66a8"/>
<text x="349.60" y="54.70" font-size="8.2" fill="#3a3a3a" text-anchor="start" font-weight="normal" >IMMT−High</text>
<text x="349.60" y="64.70" font-size="8.2" fill="#3a3a3a" text-anchor="start" font-weight="normal" >IMMT−Low</text>
<text x="253.30" y="82.70" font-size="7.9" fill="#1a1a1a" text-anchor="start" font-weight="bold" >TCGA−KIRC (Alterations)</text>
<rect x="267.9" y="88.50" width="9.6" height="8.6" fill="#f0b400"/>
<text x="280.40" y="95.70" font-size="8.2" fill="#3a3a3a" text-anchor="start" font-weight="normal" >Splice Site</text>
<rect x="267.9" y="98.50" width="9.6" height="8.6" fill="#1f6fb4"/>
<text x="280.40" y="105.70" font-size="8.2" fill="#3a3a3a" text-anchor="start" font-weight="normal" >Missense</text>
<rect x="267.9" y="108.50" width="9.6" height="8.6" fill="#ef7d22"/>
<text x="280.40" y="115.70" font-size="8.2" fill="#3a3a3a" text-anchor="start" font-weight="normal" >Frameshift</text>
<rect x="267.9" y="118.50" width="9.6" height="8.6" fill="#1e8a3e"/>
<text x="280.40" y="125.70" font-size="8.2" fill="#3a3a3a" text-anchor="start" font-weight="normal" >Inframe ins/del</text>
<rect x="267.9" y="128.50" width="9.6" height="8.6" fill="#9c2a0c"/>
<text x="280.40" y="135.70" font-size="8.2" fill="#3a3a3a" text-anchor="start" font-weight="normal" >Nonsense</text>
<text x="432.00" y="30.30" font-size="6.6" fill="#1a1a1a" text-anchor="start" font-weight="bold" >IMMT</text>
<rect x="453.9" y="25.2" width="8.4" height="5.6" fill="#3a10e5" stroke="#111" stroke-width="0.6"/>
<line x1="453.9" y1="28" x2="462.3" y2="28" stroke="#111" stroke-width="0.6"/>
<line x1="458.1" y1="24" x2="458.1" y2="25.2" stroke="#111" stroke-width="0.6"/><line x1="458.1" y1="30.8" x2="458.1" y2="32" stroke="#111" stroke-width="0.6"/>
<text x="466.80" y="30.30" font-size="6.6" fill="#1a1a1a" text-anchor="start" font-weight="bold" >Low (147)</text>
<rect x="502" y="25.2" width="8.2" height="5.6" fill="#e8101e" stroke="#111" stroke-width="0.6"/>
<line x1="502" y1="28" x2="510.2" y2="28" stroke="#111" stroke-width="0.6"/>
<line x1="506.1" y1="24" x2="506.1" y2="25.2" stroke="#111" stroke-width="0.6"/><line x1="506.1" y1="30.8" x2="506.1" y2="32" stroke="#111" stroke-width="0.6"/>
<text x="514.50" y="30.30" font-size="6.6" fill="#1a1a1a" text-anchor="start" font-weight="bold" >High (183)</text>
<line x1="430.4" y1="50" x2="430.4" y2="141.8" stroke="#555" stroke-width="0.9"/>
<line x1="430.4" y1="141.8" x2="538.1" y2="141.8" stroke="#777" stroke-width="0.9"/>
<line x1="428.6" y1="127.60" x2="430.4" y2="127.60" stroke="#555" stroke-width="0.8"/>
<text x="427.60" y="130.00" font-size="6.6" fill="#1a1a1a" text-anchor="end" font-weight="bold" >0.3</text>
<line x1="428.6" y1="104.80" x2="430.4" y2="104.80" stroke="#555" stroke-width="0.8"/>
<text x="427.60" y="107.20" font-size="6.6" fill="#1a1a1a" text-anchor="end" font-weight="bold" >0.4</text>
<line x1="428.6" y1="82.00" x2="430.4" y2="82.00" stroke="#555" stroke-width="0.8"/>
<text x="427.60" y="84.40" font-size="6.6" fill="#1a1a1a" text-anchor="end" font-weight="bold" >0.5</text>
<line x1="428.6" y1="59.20" x2="430.4" y2="59.20" stroke="#555" stroke-width="0.8"/>
<text x="427.60" y="61.60" font-size="6.6" fill="#1a1a1a" text-anchor="end" font-weight="bold" >0.6</text>
<text transform="translate(409.3,95.7) rotate(-90)" font-size="5.9" font-weight="bold" fill="#1a1a1a" text-anchor="middle"><tspan x="0" dy="0">TCGA−KIRC</tspan><tspan x="0" dy="5.9">MANTIS_Score</tspan></text>
<line x1="460.6" y1="120.2" x2="460.6" y2="138.8" stroke="#222" stroke-width="0.8"/>
<line x1="456.3" y1="120.2" x2="465.3" y2="120.2" stroke="#222" stroke-width="0.8"/>
<line x1="456.3" y1="138.8" x2="465.3" y2="138.8" stroke="#222" stroke-width="0.8"/>
<rect x="443.4" y="128.1" width="34.5" height="7.1" fill="#3a10e5" stroke="#111" stroke-width="0.8"/>
<line x1="443.4" y1="132.4" x2="477.9" y2="132.4" stroke="#111" stroke-width="1.4"/>
<circle cx="460.6" cy="71.5" r="1.55" fill="#000"/>
<circle cx="460.6" cy="105.7" r="1.55" fill="#000"/>
<circle cx="460.6" cy="114.5" r="1.55" fill="#000"/>
<line x1="509.5" y1="116.6" x2="509.5" y2="137.3" stroke="#222" stroke-width="0.8"/>
<line x1="504.5" y1="116.6" x2="514.6" y2="116.6" stroke="#222" stroke-width="0.8"/>
<line x1="504.5" y1="137.3" x2="514.6" y2="137.3" stroke="#222" stroke-width="0.8"/>
<rect x="492.1" y="126.7" width="34.9" height="7.6" fill="#e8101e" stroke="#111" stroke-width="0.8"/>
<line x1="492.1" y1="130.4" x2="527" y2="130.4" stroke="#111" stroke-width="1.4"/>
<circle cx="509.5" cy="54.2" r="1.55" fill="#000"/>
<circle cx="509.5" cy="94.5" r="1.55" fill="#000"/>
<circle cx="509.5" cy="114.3" r="1.55" fill="#000"/>
<line x1="541.6" y1="47" x2="541.6" y2="141" stroke="#f0f0f0" stroke-width="0.8"/>
<polyline points="460.2,64 460.2,46.9 509.7,46.9 509.7,50.8" fill="none" stroke="#222" stroke-width="0.9"/>
<text x="500" y="44.4" font-size="7.9" fill="#1a1a1a" text-anchor="end"><tspan font-style="italic">P</tspan>&lt; 0.001</text>
<rect x="28.6" y="178.70" width="11.0" height="114.60" fill="#d9d9d9" stroke="#a0a0a0" stroke-width="0.7"/>
<text transform="translate(36.3,236.00) rotate(-90)" font-size="6.4" fill="#1a1a1a" text-anchor="middle">KIRC</text>
<rect x="40.80" y="167.00" width="117.50" height="11.70" fill="#d9d9d9" stroke="#8f8f8f" stroke-width="0.8"/>
<text x="99.55" y="175.40" font-size="7.1" fill="#111" stroke="#111" stroke-width="0.08" text-anchor="middle">CD8<tspan dy="-2.5" font-size="5">+</tspan><tspan dy="2.5"> T cell</tspan></text>
<rect x="40.80" y="178.70" width="117.50" height="114.60" fill="#fff"/>
<g stroke="#efefef" stroke-width="0.8">
<line x1="46.50" y1="178.70" x2="46.50" y2="293.30"/>
<line x1="64.20" y1="178.70" x2="64.20" y2="293.30" stroke="#f6f6f6"/>
<line x1="81.90" y1="178.70" x2="81.90" y2="293.30"/>
<line x1="99.60" y1="178.70" x2="99.60" y2="293.30" stroke="#f6f6f6"/>
<line x1="117.30" y1="178.70" x2="117.30" y2="293.30"/>
<line x1="135.00" y1="178.70" x2="135.00" y2="293.30" stroke="#f6f6f6"/>
<line x1="152.70" y1="178.70" x2="152.70" y2="293.30"/>
<line x1="40.80" y1="262.30" x2="158.30" y2="262.30"/>
<line x1="40.80" y1="230.30" x2="158.30" y2="230.30"/>
<line x1="40.80" y1="198.30" x2="158.30" y2="198.30"/>
<line x1="40.80" y1="278.30" x2="158.30" y2="278.30" stroke="#f6f6f6"/>
<line x1="40.80" y1="246.30" x2="158.30" y2="246.30" stroke="#f6f6f6"/>
<line x1="40.80" y1="214.30" x2="158.30" y2="214.30" stroke="#f6f6f6"/>
<line x1="40.80" y1="182.30" x2="158.30" y2="182.30" stroke="#f6f6f6"/>
</g>
<g fill="#4d4d4d" fill-opacity="0.72">
<circle cx="60.8" cy="225.6" r="1.05"/>
<circle cx="66.1" cy="235.2" r="1.05"/>
<circle cx="78.7" cy="235.8" r="1.05"/>
<circle cx="61.1" cy="217.1" r="1.05"/>
<circle cx="60.3" cy="220.0" r="1.05"/>
<circle cx="68.0" cy="240.0" r="1.05"/>
<circle cx="64.4" cy="239.3" r="1.05"/>
<circle cx="72.5" cy="218.9" r="1.05"/>
<circle cx="65.4" cy="215.8" r="1.05"/>
<circle cx="58.9" cy="221.5" r="1.05"/>
<circle cx="53.7" cy="223.4" r="1.05"/>
<circle cx="69.7" cy="211.7" r="1.05"/>
<circle cx="61.1" cy="227.2" r="1.05"/>
<circle cx="67.6" cy="214.7" r="1.05"/>
<circle cx="55.0" cy="216.8" r="1.05"/>
<circle cx="60.8" cy="235.2" r="1.05"/>
<circle cx="69.7" cy="219.8" r="1.05"/>
<circle cx="76.9" cy="224.4" r="1.05"/>
<circle cx="77.2" cy="230.7" r="1.05"/>
<circle cx="79.8" cy="232.0" r="1.05"/>
<circle cx="66.3" cy="223.3" r="1.05"/>
<circle cx="76.1" cy="225.5" r="1.05"/>
<circle cx="69.6" cy="218.5" r="1.05"/>
<circle cx="64.4" cy="242.3" r="1.05"/>
<circle cx="62.8" cy="232.6" r="1.05"/>
<circle cx="60.6" cy="217.1" r="1.05"/>
<circle cx="76.8" cy="225.1" r="1.05"/>
<circle cx="66.9" cy="232.7" r="1.05"/>
<circle cx="61.0" cy="231.3" r="1.05"/>
<circle cx="65.4" cy="242.9" r="1.05"/>
<circle cx="88.2" cy="236.0" r="1.05"/>
<circle cx="56.9" cy="222.6" r="1.05"/>
<circle cx="57.1" cy="226.6" r="1.05"/>
<circle cx="82.0" cy="212.9" r="1.05"/>
<circle cx="56.8" cy="229.7" r="1.05"/>
<circle cx="81.4" cy="225.9" r="1.05"/>
<circle cx="62.1" cy="251.2" r="1.05"/>
<circle cx="70.3" cy="226.7" r="1.05"/>
<circle cx="80.4" cy="205.8" r="1.05"/>
<circle cx="80.4" cy="218.6" r="1.05"/>
<circle cx="74.2" cy="226.4" r="1.05"/>
<circle cx="66.4" cy="215.0" r="1.05"/>
<circle cx="64.3" cy="218.8" r="1.05"/>
<circle cx="64.5" cy="223.2" r="1.05"/>
<circle cx="83.8" cy="227.3" r="1.05"/>
<circle cx="69.7" cy="224.4" r="1.05"/>
<circle cx="78.9" cy="216.8" r="1.05"/>
<circle cx="52.7" cy="235.0" r="1.05"/>
<circle cx="63.7" cy="221.8" r="1.05"/>
<circle cx="69.5" cy="221.5" r="1.05"/>
<circle cx="63.5" cy="214.2" r="1.05"/>
<circle cx="92.4" cy="216.1" r="1.05"/>
<circle cx="58.4" cy="233.1" r="1.05"/>
<circle cx="71.7" cy="211.1" r="1.05"/>
<circle cx="75.7" cy="224.6" r="1.05"/>
<circle cx="60.4" cy="233.5" r="1.05"/>
<circle cx="75.5" cy="221.8" r="1.05"/>
<circle cx="70.8" cy="227.9" r="1.05"/>
<circle cx="106.0" cy="211.5" r="1.05"/>
<circle cx="83.0" cy="236.1" r="1.05"/>
<circle cx="66.5" cy="236.2" r="1.05"/>
<circle cx="76.9" cy="227.2" r="1.05"/>
<circle cx="70.7" cy="210.0" r="1.05"/>
<circle cx="63.1" cy="217.3" r="1.05"/>
<circle cx="73.4" cy="234.3" r="1.05"/>
<circle cx="71.6" cy="241.1" r="1.05"/>
<circle cx="84.8" cy="226.8" r="1.05"/>
<circle cx="57.0" cy="238.7" r="1.05"/>
<circle cx="57.2" cy="221.9" r="1.05"/>
<circle cx="60.9" cy="225.3" r="1.05"/>
<circle cx="73.4" cy="225.5" r="1.05"/>
<circle cx="78.2" cy="228.7" r="1.05"/>
<circle cx="65.8" cy="212.6" r="1.05"/>
<circle cx="69.2" cy="234.4" r="1.05"/>
<circle cx="67.3" cy="238.1" r="1.05"/>
<circle cx="55.9" cy="217.2" r="1.05"/>
<circle cx="60.5" cy="214.8" r="1.05"/>
<circle cx="76.3" cy="228.3" r="1.05"/>
<circle cx="75.5" cy="219.3" r="1.05"/>
<circle cx="79.5" cy="203.4" r="1.05"/>
<circle cx="73.8" cy="232.7" r="1.05"/>
<circle cx="52.3" cy="229.4" r="1.05"/>
<circle cx="69.7" cy="221.6" r="1.05"/>
<circle cx="70.3" cy="244.9" r="1.05"/>
<circle cx="57.4" cy="228.6" r="1.05"/>
<circle cx="89.0" cy="216.8" r="1.05"/>
<circle cx="65.7" cy="227.3" r="1.05"/>
<circle cx="76.8" cy="215.7" r="1.05"/>
<circle cx="74.9" cy="218.4" r="1.05"/>
<circle cx="72.9" cy="229.0" r="1.05"/>
<circle cx="82.4" cy="219.4" r="1.05"/>
<circle cx="65.8" cy="222.3" r="1.05"/>
<circle cx="76.8" cy="240.1" r="1.05"/>
<circle cx="71.3" cy="233.5" r="1.05"/>
<circle cx="58.1" cy="234.5" r="1.05"/>
<circle cx="61.8" cy="231.6" r="1.05"/>
<circle cx="58.2" cy="231.7" r="1.05"/>
<circle cx="56.2" cy="240.6" r="1.05"/>
<circle cx="71.5" cy="225.5" r="1.05"/>
<circle cx="56.9" cy="244.2" r="1.05"/>
<circle cx="77.1" cy="216.5" r="1.05"/>
<circle cx="64.8" cy="224.2" r="1.05"/>
<circle cx="64.7" cy="214.1" r="1.05"/>
<circle cx="57.9" cy="224.2" r="1.05"/>
<circle cx="70.5" cy="230.5" r="1.05"/>
<circle cx="59.9" cy="240.1" r="1.05"/>
<circle cx="73.3" cy="219.5" r="1.05"/>
<circle cx="73.8" cy="225.5" r="1.05"/>
<circle cx="55.5" cy="224.4" r="1.05"/>
<circle cx="71.6" cy="219.0" r="1.05"/>
<circle cx="53.9" cy="217.1" r="1.05"/>
<circle cx="75.2" cy="225.8" r="1.05"/>
<circle cx="53.7" cy="212.2" r="1.05"/>
<circle cx="59.0" cy="228.2" r="1.05"/>
<circle cx="81.1" cy="224.7" r="1.05"/>
<circle cx="69.0" cy="220.1" r="1.05"/>
<circle cx="73.9" cy="216.3" r="1.05"/>
<circle cx="52.5" cy="215.5" r="1.05"/>
<circle cx="74.8" cy="242.2" r="1.05"/>
<circle cx="60.4" cy="214.9" r="1.05"/>
<circle cx="85.9" cy="238.0" r="1.05"/>
<circle cx="67.4" cy="231.6" r="1.05"/>
<circle cx="66.0" cy="223.1" r="1.05"/>
<circle cx="55.9" cy="217.2" r="1.05"/>
<circle cx="59.9" cy="236.5" r="1.05"/>
<circle cx="66.6" cy="241.9" r="1.05"/>
<circle cx="81.9" cy="216.0" r="1.05"/>
<circle cx="80.7" cy="221.9" r="1.05"/>
<circle cx="64.7" cy="236.0" r="1.05"/>
<circle cx="58.4" cy="230.3" r="1.05"/>
<circle cx="57.9" cy="245.3" r="1.05"/>
<circle cx="86.5" cy="218.8" r="1.05"/>
<circle cx="69.7" cy="230.8" r="1.05"/>
<circle cx="58.9" cy="216.0" r="1.05"/>
<circle cx="84.0" cy="243.1" r="1.05"/>
<circle cx="72.3" cy="219.0" r="1.05"/>
<circle cx="74.7" cy="205.4" r="1.05"/>
<circle cx="75.8" cy="224.1" r="1.05"/>
<circle cx="70.2" cy="224.6" r="1.05"/>
<circle cx="62.8" cy="244.0" r="1.05"/>
<circle cx="55.8" cy="224.5" r="1.05"/>
<circle cx="57.3" cy="227.3" r="1.05"/>
<circle cx="60.1" cy="232.4" r="1.05"/>
<circle cx="72.0" cy="239.9" r="1.05"/>
<circle cx="61.1" cy="226.4" r="1.05"/>
<circle cx="75.2" cy="234.6" r="1.05"/>
<circle cx="76.4" cy="229.8" r="1.05"/>
<circle cx="84.1" cy="221.5" r="1.05"/>
<circle cx="84.6" cy="224.8" r="1.05"/>
<circle cx="85.7" cy="224.3" r="1.05"/>
<circle cx="69.2" cy="217.7" r="1.05"/>
<circle cx="68.5" cy="237.0" r="1.05"/>
<circle cx="62.0" cy="214.4" r="1.05"/>
<circle cx="69.7" cy="236.5" r="1.05"/>
<circle cx="68.3" cy="234.7" r="1.05"/>
<circle cx="61.8" cy="226.0" r="1.05"/>
<circle cx="54.8" cy="220.8" r="1.05"/>
<circle cx="82.3" cy="222.4" r="1.05"/>
<circle cx="72.8" cy="229.8" r="1.05"/>
<circle cx="59.6" cy="233.8" r="1.05"/>
<circle cx="63.3" cy="229.3" r="1.05"/>
<circle cx="75.3" cy="234.2" r="1.05"/>
<circle cx="62.8" cy="221.7" r="1.05"/>
<circle cx="70.3" cy="228.0" r="1.05"/>
<circle cx="78.5" cy="210.7" r="1.05"/>
<circle cx="76.3" cy="232.0" r="1.05"/>
<circle cx="66.1" cy="227.7" r="1.05"/>
<circle cx="60.5" cy="223.3" r="1.05"/>
<circle cx="64.2" cy="237.0" r="1.05"/>
<circle cx="75.2" cy="231.5" r="1.05"/>
<circle cx="65.9" cy="201.0" r="1.05"/>
<circle cx="86.6" cy="224.2" r="1.05"/>
<circle cx="88.7" cy="210.5" r="1.05"/>
<circle cx="84.5" cy="233.7" r="1.05"/>
<circle cx="74.9" cy="247.7" r="1.05"/>
<circle cx="58.5" cy="222.6" r="1.05"/>
<circle cx="87.4" cy="224.5" r="1.05"/>
<circle cx="75.4" cy="223.0" r="1.05"/>
<circle cx="62.1" cy="230.0" r="1.05"/>
<circle cx="60.6" cy="232.8" r="1.05"/>
<circle cx="62.4" cy="238.4" r="1.05"/>
<circle cx="69.0" cy="217.1" r="1.05"/>
<circle cx="57.2" cy="241.6" r="1.05"/>
<circle cx="80.4" cy="216.2" r="1.05"/>
<circle cx="64.5" cy="229.0" r="1.05"/>
<circle cx="73.1" cy="235.9" r="1.05"/>
<circle cx="55.8" cy="234.0" r="1.05"/>
<circle cx="109.1" cy="212.7" r="1.05"/>
<circle cx="78.4" cy="218.6" r="1.05"/>
<circle cx="66.6" cy="222.1" r="1.05"/>
<circle cx="58.5" cy="226.8" r="1.05"/>
<circle cx="84.6" cy="234.4" r="1.05"/>
<circle cx="64.0" cy="215.0" r="1.05"/>
<circle cx="63.7" cy="230.8" r="1.05"/>
<circle cx="60.3" cy="232.5" r="1.05"/>
<circle cx="58.1" cy="232.3" r="1.05"/>
<circle cx="66.6" cy="230.5" r="1.05"/>
<circle cx="67.5" cy="239.8" r="1.05"/>
<circle cx="63.7" cy="231.0" r="1.05"/>
<circle cx="58.9" cy="234.9" r="1.05"/>
<circle cx="84.3" cy="229.2" r="1.05"/>
<circle cx="85.8" cy="240.1" r="1.05"/>
<circle cx="60.5" cy="209.9" r="1.05"/>
<circle cx="81.5" cy="236.0" r="1.05"/>
<circle cx="67.6" cy="223.8" r="1.05"/>
<circle cx="66.6" cy="223.8" r="1.05"/>
<circle cx="91.7" cy="214.6" r="1.05"/>
<circle cx="90.1" cy="206.7" r="1.05"/>
<circle cx="63.5" cy="223.2" r="1.05"/>
<circle cx="74.2" cy="219.2" r="1.05"/>
<circle cx="62.0" cy="231.3" r="1.05"/>
<circle cx="55.8" cy="214.3" r="1.05"/>
<circle cx="76.0" cy="238.0" r="1.05"/>
<circle cx="71.3" cy="228.2" r="1.05"/>
<circle cx="74.3" cy="223.1" r="1.05"/>
<circle cx="94.9" cy="216.5" r="1.05"/>
<circle cx="64.5" cy="219.5" r="1.05"/>
<circle cx="71.7" cy="215.5" r="1.05"/>
<circle cx="68.3" cy="221.2" r="1.05"/>
<circle cx="54.4" cy="227.8" r="1.05"/>
<circle cx="65.1" cy="224.9" r="1.05"/>
<circle cx="55.9" cy="214.8" r="1.05"/>
<circle cx="67.2" cy="223.8" r="1.05"/>
<circle cx="58.8" cy="219.2" r="1.05"/>
<circle cx="58.3" cy="228.7" r="1.05"/>
<circle cx="82.5" cy="241.2" r="1.05"/>
<circle cx="63.2" cy="232.3" r="1.05"/>
<circle cx="64.2" cy="223.8" r="1.05"/>
<circle cx="69.7" cy="211.3" r="1.05"/>
<circle cx="53.4" cy="215.1" r="1.05"/>
<circle cx="59.6" cy="211.9" r="1.05"/>
<circle cx="60.7" cy="233.5" r="1.05"/>
<circle cx="70.5" cy="218.9" r="1.05"/>
<circle cx="68.8" cy="226.6" r="1.05"/>
<circle cx="61.6" cy="221.3" r="1.05"/>
<circle cx="87.1" cy="224.6" r="1.05"/>
<circle cx="62.3" cy="239.4" r="1.05"/>
<circle cx="60.4" cy="220.9" r="1.05"/>
<circle cx="70.2" cy="222.8" r="1.05"/>
<circle cx="60.9" cy="219.7" r="1.05"/>
<circle cx="79.8" cy="232.6" r="1.05"/>
<circle cx="69.4" cy="216.7" r="1.05"/>
<circle cx="60.9" cy="216.8" r="1.05"/>
<circle cx="94.7" cy="210.4" r="1.05"/>
<circle cx="63.2" cy="214.0" r="1.05"/>
<circle cx="66.1" cy="230.6" r="1.05"/>
<circle cx="69.4" cy="249.1" r="1.05"/>
<circle cx="69.6" cy="217.0" r="1.05"/>
<circle cx="70.2" cy="234.4" r="1.05"/>
<circle cx="57.2" cy="229.7" r="1.05"/>
<circle cx="67.0" cy="216.3" r="1.05"/>
<circle cx="53.8" cy="225.3" r="1.05"/>
<circle cx="64.3" cy="224.5" r="1.05"/>
<circle cx="65.4" cy="220.2" r="1.05"/>
<circle cx="71.5" cy="243.1" r="1.05"/>
<circle cx="60.3" cy="209.9" r="1.05"/>
<circle cx="69.0" cy="229.4" r="1.05"/>
<circle cx="62.8" cy="229.7" r="1.05"/>
<circle cx="67.1" cy="221.0" r="1.05"/>
<circle cx="59.5" cy="228.5" r="1.05"/>
<circle cx="76.3" cy="233.0" r="1.05"/>
<circle cx="75.6" cy="226.6" r="1.05"/>
<circle cx="55.7" cy="231.4" r="1.05"/>
<circle cx="64.1" cy="232.8" r="1.05"/>
<circle cx="63.3" cy="208.4" r="1.05"/>
<circle cx="53.9" cy="241.1" r="1.05"/>
<circle cx="57.3" cy="247.9" r="1.05"/>
<circle cx="64.1" cy="235.4" r="1.05"/>
<circle cx="57.6" cy="236.5" r="1.05"/>
<circle cx="67.5" cy="213.5" r="1.05"/>
<circle cx="73.2" cy="224.4" r="1.05"/>
<circle cx="61.3" cy="219.6" r="1.05"/>
<circle cx="72.0" cy="220.4" r="1.05"/>
<circle cx="81.1" cy="233.2" r="1.05"/>
<circle cx="61.3" cy="219.7" r="1.05"/>
<circle cx="78.5" cy="223.7" r="1.05"/>
<circle cx="78.8" cy="207.6" r="1.05"/>
<circle cx="81.0" cy="223.1" r="1.05"/>
<circle cx="66.7" cy="227.1" r="1.05"/>
<circle cx="69.1" cy="219.6" r="1.05"/>
<circle cx="60.4" cy="220.6" r="1.05"/>
<circle cx="75.5" cy="242.2" r="1.05"/>
<circle cx="74.1" cy="214.5" r="1.05"/>
<circle cx="70.2" cy="216.4" r="1.05"/>
<circle cx="66.7" cy="219.0" r="1.05"/>
<circle cx="61.5" cy="237.7" r="1.05"/>
<circle cx="53.0" cy="246.8" r="1.05"/>
<circle cx="62.2" cy="229.8" r="1.05"/>
<circle cx="55.2" cy="221.2" r="1.05"/>
<circle cx="65.5" cy="222.6" r="1.05"/>
<circle cx="60.3" cy="236.6" r="1.05"/>
<circle cx="95.8" cy="214.6" r="1.05"/>
<circle cx="61.9" cy="239.9" r="1.05"/>
<circle cx="59.7" cy="239.9" r="1.05"/>
<circle cx="87.8" cy="224.4" r="1.05"/>
<circle cx="55.7" cy="233.4" r="1.05"/>
<circle cx="79.5" cy="231.5" r="1.05"/>
<circle cx="80.1" cy="238.7" r="1.05"/>
<circle cx="66.1" cy="216.9" r="1.05"/>
<circle cx="57.3" cy="238.0" r="1.05"/>
<circle cx="62.1" cy="223.4" r="1.05"/>
<circle cx="68.3" cy="219.2" r="1.05"/>
<circle cx="75.8" cy="226.1" r="1.05"/>
<circle cx="72.3" cy="223.7" r="1.05"/>
<circle cx="71.2" cy="216.9" r="1.05"/>
<circle cx="63.5" cy="212.3" r="1.05"/>
<circle cx="78.3" cy="216.4" r="1.05"/>
<circle cx="59.2" cy="240.2" r="1.05"/>
<circle cx="61.5" cy="244.6" r="1.05"/>
<circle cx="68.6" cy="231.9" r="1.05"/>
<circle cx="74.8" cy="236.0" r="1.05"/>
<circle cx="71.5" cy="221.0" r="1.05"/>
<circle cx="72.0" cy="224.9" r="1.05"/>
<circle cx="63.0" cy="229.3" r="1.05"/>
<circle cx="77.3" cy="215.3" r="1.05"/>
<circle cx="53.8" cy="218.9" r="1.05"/>
<circle cx="61.7" cy="227.7" r="1.05"/>
<circle cx="57.5" cy="224.5" r="1.05"/>
<circle cx="58.9" cy="217.6" r="1.05"/>
<circle cx="71.2" cy="229.2" r="1.05"/>
<circle cx="75.2" cy="222.9" r="1.05"/>
<circle cx="59.4" cy="236.3" r="1.05"/>
<circle cx="66.9" cy="226.2" r="1.05"/>
<circle cx="89.6" cy="220.8" r="1.05"/>
<circle cx="69.9" cy="227.0" r="1.05"/>
<circle cx="83.4" cy="222.7" r="1.05"/>
<circle cx="78.2" cy="218.9" r="1.05"/>
<circle cx="79.6" cy="221.1" r="1.05"/>
<circle cx="64.5" cy="233.3" r="1.05"/>
<circle cx="70.6" cy="231.6" r="1.05"/>
<circle cx="95.8" cy="234.4" r="1.05"/>
<circle cx="61.1" cy="211.7" r="1.05"/>
<circle cx="58.7" cy="223.7" r="1.05"/>
<circle cx="80.7" cy="220.9" r="1.05"/>
<circle cx="62.4" cy="228.3" r="1.05"/>
<circle cx="67.7" cy="222.1" r="1.05"/>
<circle cx="73.2" cy="220.9" r="1.05"/>
<circle cx="63.9" cy="233.7" r="1.05"/>
<circle cx="65.2" cy="228.1" r="1.05"/>
<circle cx="58.4" cy="216.8" r="1.05"/>
<circle cx="66.0" cy="238.4" r="1.05"/>
<circle cx="57.6" cy="236.3" r="1.05"/>
<circle cx="71.1" cy="220.6" r="1.05"/>
<circle cx="68.2" cy="233.6" r="1.05"/>
<circle cx="78.5" cy="218.2" r="1.05"/>
<circle cx="65.0" cy="236.6" r="1.05"/>
<circle cx="78.4" cy="222.9" r="1.05"/>
<circle cx="79.7" cy="217.5" r="1.05"/>
<circle cx="80.6" cy="221.3" r="1.05"/>
<circle cx="74.8" cy="218.4" r="1.05"/>
<circle cx="71.4" cy="227.4" r="1.05"/>
<circle cx="69.7" cy="227.5" r="1.05"/>
<circle cx="63.3" cy="227.0" r="1.05"/>
<circle cx="66.7" cy="221.3" r="1.05"/>
<circle cx="66.8" cy="193.3" r="1.05"/>
<circle cx="92.4" cy="224.0" r="1.05"/>
<circle cx="58.1" cy="210.2" r="1.05"/>
<circle cx="64.9" cy="228.7" r="1.05"/>
<circle cx="69.5" cy="236.1" r="1.05"/>
<circle cx="59.8" cy="229.6" r="1.05"/>
<circle cx="74.3" cy="221.9" r="1.05"/>
<circle cx="61.9" cy="225.2" r="1.05"/>
<circle cx="70.5" cy="224.6" r="1.05"/>
<circle cx="67.4" cy="221.2" r="1.05"/>
<circle cx="53.2" cy="222.6" r="1.05"/>
<circle cx="72.9" cy="217.2" r="1.05"/>
<circle cx="57.8" cy="238.0" r="1.05"/>
<circle cx="70.1" cy="225.7" r="1.05"/>
<circle cx="83.4" cy="232.9" r="1.05"/>
<circle cx="75.9" cy="222.9" r="1.05"/>
<circle cx="67.0" cy="226.9" r="1.05"/>
<circle cx="67.6" cy="224.6" r="1.05"/>
<circle cx="68.7" cy="230.2" r="1.05"/>
<circle cx="65.2" cy="233.9" r="1.05"/>
<circle cx="60.6" cy="229.2" r="1.05"/>
<circle cx="67.1" cy="220.2" r="1.05"/>
<circle cx="66.5" cy="219.3" r="1.05"/>
<circle cx="92.0" cy="238.2" r="1.05"/>
<circle cx="72.0" cy="223.1" r="1.05"/>
<circle cx="95.0" cy="220.3" r="1.05"/>
<circle cx="66.8" cy="239.4" r="1.05"/>
<circle cx="70.5" cy="235.6" r="1.05"/>
<circle cx="67.4" cy="231.0" r="1.05"/>
<circle cx="60.6" cy="223.4" r="1.05"/>
<circle cx="59.8" cy="248.3" r="1.05"/>
<circle cx="64.8" cy="230.0" r="1.05"/>
<circle cx="77.2" cy="229.9" r="1.05"/>
<circle cx="59.1" cy="225.6" r="1.05"/>
<circle cx="57.5" cy="214.7" r="1.05"/>
<circle cx="66.7" cy="214.3" r="1.05"/>
<circle cx="62.0" cy="230.5" r="1.05"/>
<circle cx="61.6" cy="230.4" r="1.05"/>
<circle cx="84.8" cy="221.9" r="1.05"/>
<circle cx="66.6" cy="215.7" r="1.05"/>
<circle cx="72.4" cy="212.6" r="1.05"/>
<circle cx="66.3" cy="223.4" r="1.05"/>
<circle cx="74.6" cy="212.2" r="1.05"/>
<circle cx="66.2" cy="234.4" r="1.05"/>
<circle cx="65.4" cy="236.8" r="1.05"/>
<circle cx="73.5" cy="250.9" r="1.05"/>
<circle cx="98.5" cy="231.7" r="1.05"/>
<circle cx="124.8" cy="221.7" r="1.05"/>
<circle cx="149.2" cy="235.4" r="1.05"/>
<circle cx="143.2" cy="228.7" r="1.05"/>
<circle cx="145.2" cy="222.8" r="1.05"/>
<circle cx="112.5" cy="224.8" r="1.05"/>
<circle cx="102.6" cy="221.2" r="1.05"/>
<circle cx="143.3" cy="235.0" r="1.05"/>
<circle cx="137.8" cy="223.0" r="1.05"/>
<circle cx="142.0" cy="229.2" r="1.05"/>
<circle cx="111.2" cy="221.7" r="1.05"/>
<circle cx="104.2" cy="209.7" r="1.05"/>
<circle cx="101.1" cy="236.0" r="1.05"/>
<circle cx="143.3" cy="214.4" r="1.05"/>
<circle cx="146.6" cy="233.5" r="1.05"/>
<circle cx="109.6" cy="230.6" r="1.05"/>
<circle cx="143.6" cy="207.8" r="1.05"/>
<circle cx="110.6" cy="215.6" r="1.05"/>
<circle cx="115.0" cy="220.3" r="1.05"/>
<circle cx="123.0" cy="217.0" r="1.05"/>
<circle cx="99.8" cy="213.0" r="1.05"/>
<circle cx="102.9" cy="234.1" r="1.05"/>
<circle cx="102.9" cy="223.4" r="1.05"/>
<circle cx="102.4" cy="230.2" r="1.05"/>
<circle cx="119.5" cy="221.3" r="1.05"/>
<circle cx="59.6" cy="276.1" r="1.05"/>
<circle cx="56.8" cy="280.4" r="1.05"/>
<circle cx="57.4" cy="267.1" r="1.05"/>
<circle cx="50.7" cy="256.2" r="1.05"/>
<circle cx="59.9" cy="288.3" r="1.05"/>
<circle cx="52.1" cy="253.8" r="1.05"/>
<circle cx="91.2" cy="249.4" r="1.05"/>
<circle cx="59.8" cy="265.9" r="1.05"/>
<circle cx="47.4" cy="255.5" r="1.05"/>
<circle cx="52.5" cy="256.7" r="1.05"/>
<circle cx="55.2" cy="258.8" r="1.05"/>
<circle cx="55.4" cy="255.2" r="1.05"/>
<circle cx="57.1" cy="278.2" r="1.05"/>
<circle cx="56.6" cy="282.6" r="1.05"/>
<circle cx="55.4" cy="252.3" r="1.05"/>
<circle cx="81.3" cy="257.0" r="1.05"/>
<circle cx="59.3" cy="252.1" r="1.05"/>
<circle cx="67.2" cy="274.1" r="1.05"/>
<circle cx="67.9" cy="270.4" r="1.05"/>
<circle cx="59.1" cy="255.0" r="1.05"/>
<circle cx="59.5" cy="255.4" r="1.05"/>
<circle cx="52.1" cy="247.3" r="1.05"/>
<circle cx="52.6" cy="266.2" r="1.05"/>
<circle cx="57.5" cy="254.5" r="1.05"/>
<circle cx="65.3" cy="254.9" r="1.05"/>
<circle cx="76.3" cy="256.8" r="1.05"/>
<circle cx="50.3" cy="265.5" r="1.05"/>
<circle cx="60.8" cy="250.1" r="1.05"/>
<circle cx="66.1" cy="263.0" r="1.05"/>
<circle cx="53.1" cy="265.2" r="1.05"/>
<circle cx="52.2" cy="254.2" r="1.05"/>
<circle cx="49.4" cy="246.3" r="1.05"/>
<circle cx="62.2" cy="270.1" r="1.05"/>
<circle cx="56.5" cy="248.1" r="1.05"/>
<circle cx="60.3" cy="259.8" r="1.05"/>
<circle cx="52.1" cy="258.7" r="1.05"/>
<circle cx="57.3" cy="248.1" r="1.05"/>
<circle cx="66.1" cy="260.6" r="1.05"/>
<circle cx="57.1" cy="262.7" r="1.05"/>
<circle cx="63.5" cy="259.0" r="1.05"/>
<circle cx="68.5" cy="256.7" r="1.05"/>
<circle cx="58.2" cy="266.9" r="1.05"/>
<circle cx="61.6" cy="251.4" r="1.05"/>
<circle cx="66.3" cy="251.6" r="1.05"/>
<circle cx="65.4" cy="248.2" r="1.05"/>
<circle cx="70.2" cy="259.5" r="1.05"/>
<circle cx="57.9" cy="253.9" r="1.05"/>
<circle cx="55.5" cy="248.9" r="1.05"/>
<circle cx="83.7" cy="273.5" r="1.05"/>
<circle cx="58.2" cy="273.0" r="1.05"/>
<circle cx="61.9" cy="250.7" r="1.05"/>
<circle cx="80.4" cy="275.0" r="1.05"/>
<circle cx="47.7" cy="246.8" r="1.05"/>
<circle cx="54.5" cy="252.9" r="1.05"/>
<circle cx="47.9" cy="261.9" r="1.05"/>
<circle cx="70.8" cy="190.7" r="1.05"/>
<circle cx="83.5" cy="193.5" r="1.05"/>
<circle cx="70.5" cy="193.7" r="1.05"/>
<circle cx="61.8" cy="196.2" r="1.05"/>
<circle cx="76.8" cy="194.4" r="1.05"/>
<circle cx="66.5" cy="183.8" r="1.05"/>
<circle cx="67.2" cy="189.4" r="1.05"/>
<circle cx="51.0" cy="206.1" r="1.05"/>
<circle cx="75.0" cy="183.7" r="1.05"/>
<circle cx="73.9" cy="200.6" r="1.05"/>
<circle cx="73.8" cy="194.4" r="1.05"/>
<circle cx="74.9" cy="200.0" r="1.05"/>
<circle cx="79.1" cy="191.0" r="1.05"/>
<circle cx="68.7" cy="191.9" r="1.05"/>
<circle cx="74.6" cy="195.4" r="1.05"/>
<circle cx="46.5" cy="232.9" r="1.05"/>
<circle cx="46.5" cy="233.1" r="1.05"/>
<circle cx="46.5" cy="218.2" r="1.05"/>
<circle cx="46.5" cy="225.4" r="1.05"/>
<circle cx="46.5" cy="229.1" r="1.05"/>
<circle cx="46.5" cy="234.4" r="1.05"/>
<circle cx="46.5" cy="222.8" r="1.05"/>
<circle cx="46.5" cy="218.7" r="1.05"/>
<circle cx="46.5" cy="236.0" r="1.05"/>
<circle cx="46.5" cy="236.8" r="1.05"/>
<circle cx="46.5" cy="231.0" r="1.05"/>
<circle cx="46.5" cy="223.1" r="1.05"/>
</g>
<polygon points="46.10,233.96 48.83,233.62 51.57,233.27 54.30,232.92 57.03,232.55 59.77,232.17 62.50,231.78 65.23,231.37 67.97,230.95 70.70,230.52 73.43,230.07 76.17,229.60 78.90,229.13 81.63,228.65 84.37,228.15 87.10,227.66 89.83,227.15 92.57,226.64 95.30,226.13 98.03,225.61 100.77,225.09 103.50,224.57 106.23,224.05 108.97,223.52 111.70,222.99 114.43,222.47 117.17,221.94 119.90,221.41 122.63,220.87 125.37,220.34 128.10,219.81 130.83,219.28 133.57,218.74 136.30,218.21 139.03,217.67 141.77,217.14 144.50,216.60 147.23,216.07 149.97,215.53 152.70,215.00 152.70,223.00 149.97,223.30 147.23,223.60 144.50,223.90 141.77,224.20 139.03,224.51 136.30,224.81 133.57,225.11 130.83,225.41 128.10,225.71 125.37,226.02 122.63,226.32 119.90,226.63 117.17,226.93 114.43,227.24 111.70,227.54 108.97,227.85 106.23,228.16 103.50,228.48 100.77,228.79 98.03,229.11 95.30,229.43 92.57,229.75 89.83,230.07 87.10,230.41 84.37,230.74 81.63,231.09 78.90,231.44 76.17,231.80 73.43,232.17 70.70,232.56 67.97,232.96 65.23,233.37 62.50,233.80 59.77,234.25 57.03,234.71 54.30,235.17 51.57,235.65 48.83,236.14 46.10,236.64" fill="#999" fill-opacity="0.43"/>
<line x1="46.1" y1="235.3" x2="152.7" y2="219.0" stroke="#4068e0" stroke-width="1.6"/>
<rect x="40.80" y="178.70" width="117.50" height="114.60" fill="none" stroke="#8f8f8f" stroke-width="0.8"/>
<line x1="40.80" y1="178.70" x2="158.30" y2="178.70" stroke="#777" stroke-width="1.1"/>
<text x="123.70" y="187.30" font-size="7.2" fill="#e8303c" stroke="#e8303c" stroke-width="0.1">r = 0.308</text>
<text x="123.70" y="194.90" font-size="7.2" fill="#e8303c" stroke="#e8303c" stroke-width="0.1"><tspan font-style="italic">P</tspan>&#160;&lt;&#160;0.001</text>
<line x1="46.50" y1="293.30" x2="46.50" y2="294.90" stroke="#555" stroke-width="0.7"/>
<text x="46.50" y="301.60" font-size="7.0" fill="#555" text-anchor="middle" font-weight="normal" >0.00</text>
<line x1="81.90" y1="293.30" x2="81.90" y2="294.90" stroke="#555" stroke-width="0.7"/>
<text x="81.90" y="301.60" font-size="7.0" fill="#555" text-anchor="middle" font-weight="normal" >0.05</text>
<line x1="117.30" y1="293.30" x2="117.30" y2="294.90" stroke="#555" stroke-width="0.7"/>
<text x="117.30" y="301.60" font-size="7.0" fill="#555" text-anchor="middle" font-weight="normal" >0.10</text>
<line x1="152.70" y1="293.30" x2="152.70" y2="294.90" stroke="#555" stroke-width="0.7"/>
<text x="152.70" y="301.60" font-size="7.0" fill="#555" text-anchor="middle" font-weight="normal" >0.15</text>
<text x="100.60" y="311.60" font-size="8.8" fill="#222" text-anchor="middle" font-weight="normal" stroke="#222" stroke-width="0.15">Infiltration Level</text>
<line x1="26.8" y1="262.30" x2="28.5" y2="262.30" stroke="#555" stroke-width="0.7"/>
<text x="25.60" y="264.70" font-size="6.8" fill="#4d4d4d" text-anchor="end" font-weight="normal" >5</text>
<line x1="26.8" y1="230.30" x2="28.5" y2="230.30" stroke="#555" stroke-width="0.7"/>
<text x="25.60" y="232.70" font-size="6.8" fill="#4d4d4d" text-anchor="end" font-weight="normal" >6</text>
<line x1="26.8" y1="198.30" x2="28.5" y2="198.30" stroke="#555" stroke-width="0.7"/>
<text x="25.60" y="200.70" font-size="6.8" fill="#4d4d4d" text-anchor="end" font-weight="normal" >7</text>
<rect x="168.00" y="167.00" width="119.60" height="11.70" fill="#d9d9d9" stroke="#8f8f8f" stroke-width="0.8"/>
<text x="224.70" y="175.40" font-size="7.1" fill="#111" stroke="#111" stroke-width="0.08" text-anchor="middle">CD4<tspan dy="-2.5" font-size="5">+</tspan><tspan dy="2.5"> T cell</tspan></text>
<rect x="168.00" y="178.70" width="119.60" height="114.60" fill="#fff"/>
<g stroke="#efefef" stroke-width="0.8">
<line x1="173.30" y1="178.70" x2="173.30" y2="293.30"/>
<line x1="187.10" y1="178.70" x2="187.10" y2="293.30" stroke="#f6f6f6"/>
<line x1="200.90" y1="178.70" x2="200.90" y2="293.30"/>
<line x1="214.70" y1="178.70" x2="214.70" y2="293.30" stroke="#f6f6f6"/>
<line x1="228.50" y1="178.70" x2="228.50" y2="293.30"/>
<line x1="242.30" y1="178.70" x2="242.30" y2="293.30" stroke="#f6f6f6"/>
<line x1="256.10" y1="178.70" x2="256.10" y2="293.30"/>
<line x1="269.90" y1="178.70" x2="269.90" y2="293.30" stroke="#f6f6f6"/>
<line x1="283.70" y1="178.70" x2="283.70" y2="293.30"/>
<line x1="168.00" y1="262.30" x2="287.60" y2="262.30"/>
<line x1="168.00" y1="230.30" x2="287.60" y2="230.30"/>
<line x1="168.00" y1="198.30" x2="287.60" y2="198.30"/>
<line x1="168.00" y1="278.30" x2="287.60" y2="278.30" stroke="#f6f6f6"/>
<line x1="168.00" y1="246.30" x2="287.60" y2="246.30" stroke="#f6f6f6"/>
<line x1="168.00" y1="214.30" x2="287.60" y2="214.30" stroke="#f6f6f6"/>
<line x1="168.00" y1="182.30" x2="287.60" y2="182.30" stroke="#f6f6f6"/>
</g>
<g fill="#4d4d4d" fill-opacity="0.72">
<circle cx="173.5" cy="235.7" r="1.05"/>
<circle cx="173.5" cy="231.5" r="1.05"/>
<circle cx="173.5" cy="241.7" r="1.05"/>
<circle cx="173.5" cy="212.5" r="1.05"/>
<circle cx="173.5" cy="231.6" r="1.05"/>
<circle cx="173.5" cy="227.8" r="1.05"/>
<circle cx="173.5" cy="214.5" r="1.05"/>
<circle cx="173.5" cy="233.0" r="1.05"/>
<circle cx="173.5" cy="230.5" r="1.05"/>
<circle cx="173.5" cy="224.3" r="1.05"/>
<circle cx="173.5" cy="235.5" r="1.05"/>
<circle cx="173.5" cy="210.1" r="1.05"/>
<circle cx="173.5" cy="229.2" r="1.05"/>
<circle cx="173.5" cy="236.0" r="1.05"/>
<circle cx="173.5" cy="234.0" r="1.05"/>
<circle cx="173.5" cy="245.1" r="1.05"/>
<circle cx="173.5" cy="213.2" r="1.05"/>
<circle cx="173.5" cy="208.9" r="1.05"/>
<circle cx="173.5" cy="233.3" r="1.05"/>
<circle cx="173.5" cy="236.4" r="1.05"/>
<circle cx="173.5" cy="259.7" r="1.05"/>
<circle cx="173.5" cy="238.6" r="1.05"/>
<circle cx="173.5" cy="217.8" r="1.05"/>
<circle cx="173.5" cy="241.3" r="1.05"/>
<circle cx="173.5" cy="218.2" r="1.05"/>
<circle cx="173.5" cy="209.2" r="1.05"/>
<circle cx="173.5" cy="266.5" r="1.05"/>
<circle cx="173.5" cy="234.6" r="1.05"/>
<circle cx="173.5" cy="240.0" r="1.05"/>
<circle cx="173.5" cy="237.9" r="1.05"/>
<circle cx="173.5" cy="255.4" r="1.05"/>
<circle cx="173.5" cy="234.0" r="1.05"/>
<circle cx="173.5" cy="247.0" r="1.05"/>
<circle cx="173.5" cy="215.6" r="1.05"/>
<circle cx="173.5" cy="210.5" r="1.05"/>
<circle cx="173.5" cy="250.0" r="1.05"/>
<circle cx="173.5" cy="250.6" r="1.05"/>
<circle cx="173.5" cy="237.2" r="1.05"/>
<circle cx="173.5" cy="233.2" r="1.05"/>
<circle cx="173.5" cy="232.3" r="1.05"/>
<circle cx="173.5" cy="220.4" r="1.05"/>
<circle cx="173.5" cy="251.5" r="1.05"/>
<circle cx="173.5" cy="239.2" r="1.05"/>
<circle cx="173.5" cy="237.1" r="1.05"/>
<circle cx="173.5" cy="235.3" r="1.05"/>
<circle cx="173.5" cy="244.7" r="1.05"/>
<circle cx="173.5" cy="237.1" r="1.05"/>
<circle cx="173.5" cy="240.4" r="1.05"/>
<circle cx="173.5" cy="213.6" r="1.05"/>
<circle cx="173.5" cy="237.1" r="1.05"/>
<circle cx="173.5" cy="260.6" r="1.05"/>
<circle cx="173.5" cy="222.7" r="1.05"/>
<circle cx="173.5" cy="228.2" r="1.05"/>
<circle cx="173.5" cy="242.5" r="1.05"/>
<circle cx="173.5" cy="243.4" r="1.05"/>
<circle cx="173.5" cy="238.7" r="1.05"/>
<circle cx="173.5" cy="207.4" r="1.05"/>
<circle cx="173.5" cy="237.0" r="1.05"/>
<circle cx="173.5" cy="213.4" r="1.05"/>
<circle cx="173.5" cy="218.5" r="1.05"/>
<circle cx="173.5" cy="237.7" r="1.05"/>
<circle cx="173.5" cy="225.9" r="1.05"/>
<circle cx="173.5" cy="241.3" r="1.05"/>
<circle cx="173.5" cy="274.1" r="1.05"/>
<circle cx="173.5" cy="240.9" r="1.05"/>
<circle cx="173.5" cy="240.1" r="1.05"/>
<circle cx="173.5" cy="217.5" r="1.05"/>
<circle cx="173.5" cy="221.0" r="1.05"/>
<circle cx="173.5" cy="215.1" r="1.05"/>
<circle cx="173.5" cy="222.5" r="1.05"/>
<circle cx="173.5" cy="214.7" r="1.05"/>
<circle cx="173.5" cy="220.8" r="1.05"/>
<circle cx="173.5" cy="227.1" r="1.05"/>
<circle cx="173.5" cy="216.0" r="1.05"/>
<circle cx="173.5" cy="210.1" r="1.05"/>
<circle cx="173.5" cy="210.9" r="1.05"/>
<circle cx="173.5" cy="236.4" r="1.05"/>
<circle cx="173.5" cy="230.8" r="1.05"/>
<circle cx="173.5" cy="244.4" r="1.05"/>
<circle cx="173.5" cy="244.6" r="1.05"/>
<circle cx="173.5" cy="225.2" r="1.05"/>
<circle cx="173.5" cy="239.4" r="1.05"/>
<circle cx="173.5" cy="209.8" r="1.05"/>
<circle cx="173.5" cy="262.0" r="1.05"/>
<circle cx="173.5" cy="246.7" r="1.05"/>
<circle cx="173.5" cy="227.0" r="1.05"/>
<circle cx="173.5" cy="213.7" r="1.05"/>
<circle cx="173.5" cy="235.3" r="1.05"/>
<circle cx="173.5" cy="203.8" r="1.05"/>
<circle cx="173.5" cy="219.1" r="1.05"/>
<circle cx="173.5" cy="240.5" r="1.05"/>
<circle cx="173.5" cy="231.1" r="1.05"/>
<circle cx="173.5" cy="223.1" r="1.05"/>
<circle cx="173.5" cy="243.3" r="1.05"/>
<circle cx="173.5" cy="215.5" r="1.05"/>
<circle cx="173.5" cy="234.0" r="1.05"/>
<circle cx="173.5" cy="223.0" r="1.05"/>
<circle cx="173.5" cy="218.1" r="1.05"/>
<circle cx="173.5" cy="236.5" r="1.05"/>
<circle cx="173.5" cy="216.1" r="1.05"/>
<circle cx="262.8" cy="217.4" r="1.05"/>
<circle cx="266.6" cy="220.7" r="1.05"/>
<circle cx="218.6" cy="213.6" r="1.05"/>
<circle cx="184.2" cy="234.7" r="1.05"/>
<circle cx="220.5" cy="216.4" r="1.05"/>
<circle cx="235.9" cy="228.0" r="1.05"/>
<circle cx="207.1" cy="226.6" r="1.05"/>
<circle cx="218.3" cy="235.7" r="1.05"/>
<circle cx="251.4" cy="220.7" r="1.05"/>
<circle cx="196.4" cy="237.1" r="1.05"/>
<circle cx="181.1" cy="218.2" r="1.05"/>
<circle cx="217.0" cy="230.7" r="1.05"/>
<circle cx="186.5" cy="225.0" r="1.05"/>
<circle cx="249.3" cy="223.1" r="1.05"/>
<circle cx="193.8" cy="227.4" r="1.05"/>
<circle cx="214.9" cy="234.3" r="1.05"/>
<circle cx="193.5" cy="205.4" r="1.05"/>
<circle cx="186.0" cy="230.8" r="1.05"/>
<circle cx="200.0" cy="210.3" r="1.05"/>
<circle cx="217.2" cy="237.0" r="1.05"/>
<circle cx="209.1" cy="204.4" r="1.05"/>
<circle cx="178.1" cy="217.7" r="1.05"/>
<circle cx="188.6" cy="209.6" r="1.05"/>
<circle cx="199.0" cy="243.3" r="1.05"/>
<circle cx="186.7" cy="213.8" r="1.05"/>
<circle cx="206.8" cy="226.5" r="1.05"/>
<circle cx="215.8" cy="218.8" r="1.05"/>
<circle cx="187.8" cy="208.3" r="1.05"/>
<circle cx="262.0" cy="216.3" r="1.05"/>
<circle cx="235.3" cy="229.4" r="1.05"/>
<circle cx="246.9" cy="219.4" r="1.05"/>
<circle cx="267.7" cy="229.1" r="1.05"/>
<circle cx="199.4" cy="222.3" r="1.05"/>
<circle cx="218.5" cy="224.2" r="1.05"/>
<circle cx="200.8" cy="221.9" r="1.05"/>
<circle cx="191.7" cy="230.4" r="1.05"/>
<circle cx="223.8" cy="243.6" r="1.05"/>
<circle cx="232.9" cy="226.5" r="1.05"/>
<circle cx="232.5" cy="224.8" r="1.05"/>
<circle cx="257.1" cy="213.8" r="1.05"/>
<circle cx="209.1" cy="217.2" r="1.05"/>
<circle cx="182.0" cy="243.2" r="1.05"/>
<circle cx="234.0" cy="210.9" r="1.05"/>
<circle cx="191.7" cy="217.2" r="1.05"/>
<circle cx="229.6" cy="222.0" r="1.05"/>
<circle cx="190.8" cy="222.4" r="1.05"/>
<circle cx="230.9" cy="243.4" r="1.05"/>
<circle cx="191.4" cy="202.0" r="1.05"/>
<circle cx="249.3" cy="224.9" r="1.05"/>
<circle cx="176.1" cy="235.9" r="1.05"/>
<circle cx="187.9" cy="215.4" r="1.05"/>
<circle cx="218.9" cy="217.3" r="1.05"/>
<circle cx="192.1" cy="231.3" r="1.05"/>
<circle cx="188.5" cy="244.3" r="1.05"/>
<circle cx="192.9" cy="217.0" r="1.05"/>
<circle cx="224.5" cy="207.0" r="1.05"/>
<circle cx="188.1" cy="237.4" r="1.05"/>
<circle cx="181.5" cy="243.8" r="1.05"/>
<circle cx="191.5" cy="223.3" r="1.05"/>
<circle cx="196.4" cy="203.1" r="1.05"/>
<circle cx="184.2" cy="242.8" r="1.05"/>
<circle cx="203.0" cy="223.6" r="1.05"/>
<circle cx="234.2" cy="234.4" r="1.05"/>
<circle cx="231.8" cy="222.4" r="1.05"/>
<circle cx="204.2" cy="221.6" r="1.05"/>
<circle cx="184.8" cy="222.8" r="1.05"/>
<circle cx="243.2" cy="237.1" r="1.05"/>
<circle cx="222.9" cy="238.8" r="1.05"/>
<circle cx="197.3" cy="203.8" r="1.05"/>
<circle cx="229.2" cy="213.3" r="1.05"/>
<circle cx="199.8" cy="244.7" r="1.05"/>
<circle cx="217.3" cy="220.4" r="1.05"/>
<circle cx="190.2" cy="212.7" r="1.05"/>
<circle cx="209.9" cy="225.1" r="1.05"/>
<circle cx="246.1" cy="220.3" r="1.05"/>
<circle cx="202.6" cy="224.7" r="1.05"/>
<circle cx="187.2" cy="222.2" r="1.05"/>
<circle cx="177.5" cy="225.0" r="1.05"/>
<circle cx="179.6" cy="223.3" r="1.05"/>
<circle cx="190.2" cy="230.5" r="1.05"/>
<circle cx="200.5" cy="217.4" r="1.05"/>
<circle cx="218.8" cy="221.1" r="1.05"/>
<circle cx="212.3" cy="223.3" r="1.05"/>
<circle cx="193.6" cy="240.4" r="1.05"/>
<circle cx="207.6" cy="229.2" r="1.05"/>
<circle cx="202.4" cy="224.6" r="1.05"/>
<circle cx="208.4" cy="230.8" r="1.05"/>
<circle cx="195.0" cy="230.8" r="1.05"/>
<circle cx="222.5" cy="235.2" r="1.05"/>
<circle cx="193.3" cy="232.0" r="1.05"/>
<circle cx="175.8" cy="247.3" r="1.05"/>
<circle cx="220.8" cy="238.0" r="1.05"/>
<circle cx="244.6" cy="217.2" r="1.05"/>
<circle cx="227.4" cy="232.5" r="1.05"/>
<circle cx="212.3" cy="230.2" r="1.05"/>
<circle cx="224.3" cy="222.6" r="1.05"/>
<circle cx="199.0" cy="210.6" r="1.05"/>
<circle cx="186.7" cy="208.1" r="1.05"/>
<circle cx="207.8" cy="228.9" r="1.05"/>
<circle cx="235.2" cy="230.6" r="1.05"/>
<circle cx="182.6" cy="236.2" r="1.05"/>
<circle cx="191.0" cy="213.4" r="1.05"/>
<circle cx="205.9" cy="236.3" r="1.05"/>
<circle cx="228.9" cy="217.5" r="1.05"/>
<circle cx="229.4" cy="227.1" r="1.05"/>
<circle cx="225.6" cy="227.8" r="1.05"/>
<circle cx="195.1" cy="218.1" r="1.05"/>
<circle cx="217.9" cy="218.0" r="1.05"/>
<circle cx="272.3" cy="197.0" r="1.05"/>
<circle cx="209.8" cy="215.4" r="1.05"/>
<circle cx="213.1" cy="205.8" r="1.05"/>
<circle cx="245.6" cy="226.0" r="1.05"/>
<circle cx="190.2" cy="227.6" r="1.05"/>
<circle cx="242.1" cy="231.4" r="1.05"/>
<circle cx="199.8" cy="229.8" r="1.05"/>
<circle cx="197.0" cy="219.6" r="1.05"/>
<circle cx="195.8" cy="230.1" r="1.05"/>
<circle cx="225.9" cy="219.3" r="1.05"/>
<circle cx="194.1" cy="233.0" r="1.05"/>
<circle cx="221.9" cy="227.1" r="1.05"/>
<circle cx="204.7" cy="215.2" r="1.05"/>
<circle cx="202.6" cy="225.8" r="1.05"/>
<circle cx="211.1" cy="225.5" r="1.05"/>
<circle cx="204.0" cy="222.4" r="1.05"/>
<circle cx="216.6" cy="233.7" r="1.05"/>
<circle cx="207.4" cy="243.3" r="1.05"/>
<circle cx="228.9" cy="219.2" r="1.05"/>
<circle cx="184.6" cy="223.9" r="1.05"/>
<circle cx="216.2" cy="200.8" r="1.05"/>
<circle cx="215.0" cy="223.1" r="1.05"/>
<circle cx="186.0" cy="222.8" r="1.05"/>
<circle cx="209.8" cy="202.3" r="1.05"/>
<circle cx="212.1" cy="227.8" r="1.05"/>
<circle cx="180.0" cy="234.2" r="1.05"/>
<circle cx="181.8" cy="220.1" r="1.05"/>
<circle cx="203.4" cy="221.8" r="1.05"/>
<circle cx="210.6" cy="214.8" r="1.05"/>
<circle cx="178.4" cy="236.2" r="1.05"/>
<circle cx="190.3" cy="211.0" r="1.05"/>
<circle cx="194.4" cy="223.3" r="1.05"/>
<circle cx="199.2" cy="246.6" r="1.05"/>
<circle cx="195.4" cy="227.0" r="1.05"/>
<circle cx="187.4" cy="232.2" r="1.05"/>
<circle cx="210.4" cy="223.4" r="1.05"/>
<circle cx="214.9" cy="212.2" r="1.05"/>
<circle cx="229.9" cy="222.7" r="1.05"/>
<circle cx="186.4" cy="231.6" r="1.05"/>
<circle cx="202.1" cy="215.0" r="1.05"/>
<circle cx="219.1" cy="227.7" r="1.05"/>
<circle cx="227.9" cy="236.3" r="1.05"/>
<circle cx="226.8" cy="234.6" r="1.05"/>
<circle cx="182.1" cy="211.2" r="1.05"/>
<circle cx="183.8" cy="217.4" r="1.05"/>
<circle cx="202.4" cy="208.8" r="1.05"/>
<circle cx="195.9" cy="237.7" r="1.05"/>
<circle cx="280.5" cy="224.4" r="1.05"/>
<circle cx="203.9" cy="233.0" r="1.05"/>
<circle cx="259.8" cy="210.8" r="1.05"/>
<circle cx="206.2" cy="213.1" r="1.05"/>
<circle cx="217.4" cy="225.1" r="1.05"/>
<circle cx="220.1" cy="225.1" r="1.05"/>
<circle cx="205.4" cy="216.5" r="1.05"/>
<circle cx="192.6" cy="228.2" r="1.05"/>
<circle cx="201.5" cy="232.6" r="1.05"/>
<circle cx="249.6" cy="223.4" r="1.05"/>
<circle cx="183.8" cy="216.7" r="1.05"/>
<circle cx="191.4" cy="204.7" r="1.05"/>
<circle cx="204.0" cy="222.9" r="1.05"/>
<circle cx="208.0" cy="226.9" r="1.05"/>
<circle cx="205.2" cy="222.8" r="1.05"/>
<circle cx="177.6" cy="223.7" r="1.05"/>
<circle cx="214.2" cy="217.3" r="1.05"/>
<circle cx="184.0" cy="235.1" r="1.05"/>
<circle cx="197.3" cy="225.7" r="1.05"/>
<circle cx="216.8" cy="225.6" r="1.05"/>
<circle cx="215.2" cy="214.3" r="1.05"/>
<circle cx="235.7" cy="215.9" r="1.05"/>
<circle cx="207.4" cy="227.0" r="1.05"/>
<circle cx="241.6" cy="211.3" r="1.05"/>
<circle cx="188.0" cy="214.0" r="1.05"/>
<circle cx="211.7" cy="221.4" r="1.05"/>
<circle cx="197.2" cy="238.9" r="1.05"/>
<circle cx="199.3" cy="228.1" r="1.05"/>
<circle cx="229.8" cy="238.3" r="1.05"/>
<circle cx="270.3" cy="217.6" r="1.05"/>
<circle cx="215.8" cy="209.8" r="1.05"/>
<circle cx="175.4" cy="222.4" r="1.05"/>
<circle cx="208.2" cy="240.3" r="1.05"/>
<circle cx="183.9" cy="231.1" r="1.05"/>
<circle cx="199.4" cy="233.8" r="1.05"/>
<circle cx="197.8" cy="233.6" r="1.05"/>
<circle cx="206.3" cy="225.3" r="1.05"/>
<circle cx="228.3" cy="221.0" r="1.05"/>
<circle cx="218.4" cy="225.4" r="1.05"/>
<circle cx="233.1" cy="229.7" r="1.05"/>
<circle cx="184.1" cy="232.4" r="1.05"/>
<circle cx="241.5" cy="227.0" r="1.05"/>
<circle cx="206.5" cy="227.0" r="1.05"/>
<circle cx="205.0" cy="217.4" r="1.05"/>
<circle cx="197.9" cy="223.5" r="1.05"/>
<circle cx="274.4" cy="208.7" r="1.05"/>
<circle cx="193.5" cy="237.2" r="1.05"/>
<circle cx="191.7" cy="204.8" r="1.05"/>
<circle cx="222.8" cy="221.4" r="1.05"/>
<circle cx="205.4" cy="250.5" r="1.05"/>
<circle cx="186.8" cy="223.7" r="1.05"/>
<circle cx="212.7" cy="212.8" r="1.05"/>
<circle cx="191.3" cy="226.7" r="1.05"/>
<circle cx="226.4" cy="236.9" r="1.05"/>
<circle cx="183.8" cy="225.9" r="1.05"/>
<circle cx="206.5" cy="231.8" r="1.05"/>
<circle cx="202.4" cy="226.8" r="1.05"/>
<circle cx="229.7" cy="219.1" r="1.05"/>
<circle cx="204.9" cy="258.6" r="1.05"/>
<circle cx="217.2" cy="225.0" r="1.05"/>
<circle cx="205.6" cy="219.8" r="1.05"/>
<circle cx="198.1" cy="221.0" r="1.05"/>
<circle cx="188.0" cy="231.2" r="1.05"/>
<circle cx="214.5" cy="228.8" r="1.05"/>
<circle cx="205.5" cy="233.6" r="1.05"/>
<circle cx="240.6" cy="223.4" r="1.05"/>
<circle cx="193.4" cy="211.6" r="1.05"/>
<circle cx="207.1" cy="230.9" r="1.05"/>
<circle cx="215.2" cy="221.2" r="1.05"/>
<circle cx="195.5" cy="223.4" r="1.05"/>
<circle cx="198.7" cy="210.6" r="1.05"/>
<circle cx="199.7" cy="220.0" r="1.05"/>
<circle cx="213.8" cy="217.0" r="1.05"/>
<circle cx="253.1" cy="220.3" r="1.05"/>
<circle cx="216.8" cy="209.1" r="1.05"/>
<circle cx="183.5" cy="228.2" r="1.05"/>
<circle cx="190.0" cy="228.3" r="1.05"/>
<circle cx="203.7" cy="213.9" r="1.05"/>
<circle cx="222.1" cy="217.2" r="1.05"/>
<circle cx="209.3" cy="216.1" r="1.05"/>
<circle cx="219.9" cy="233.5" r="1.05"/>
<circle cx="191.9" cy="200.3" r="1.05"/>
<circle cx="199.4" cy="208.6" r="1.05"/>
<circle cx="183.2" cy="223.1" r="1.05"/>
<circle cx="205.6" cy="234.3" r="1.05"/>
<circle cx="260.4" cy="213.3" r="1.05"/>
<circle cx="189.5" cy="228.5" r="1.05"/>
<circle cx="219.1" cy="215.2" r="1.05"/>
<circle cx="215.3" cy="244.8" r="1.05"/>
<circle cx="250.4" cy="230.6" r="1.05"/>
<circle cx="212.1" cy="236.6" r="1.05"/>
<circle cx="226.9" cy="209.4" r="1.05"/>
<circle cx="211.6" cy="213.3" r="1.05"/>
<circle cx="216.2" cy="235.7" r="1.05"/>
<circle cx="189.9" cy="225.0" r="1.05"/>
<circle cx="187.5" cy="224.5" r="1.05"/>
<circle cx="210.0" cy="228.5" r="1.05"/>
<circle cx="204.8" cy="212.3" r="1.05"/>
<circle cx="208.0" cy="233.3" r="1.05"/>
<circle cx="238.8" cy="222.3" r="1.05"/>
<circle cx="185.4" cy="232.5" r="1.05"/>
<circle cx="204.1" cy="218.5" r="1.05"/>
<circle cx="235.3" cy="227.9" r="1.05"/>
<circle cx="185.8" cy="220.0" r="1.05"/>
<circle cx="189.4" cy="237.1" r="1.05"/>
<circle cx="180.5" cy="239.8" r="1.05"/>
<circle cx="219.7" cy="233.6" r="1.05"/>
<circle cx="214.9" cy="229.9" r="1.05"/>
<circle cx="183.2" cy="234.3" r="1.05"/>
<circle cx="235.0" cy="194.1" r="1.05"/>
<circle cx="195.9" cy="235.2" r="1.05"/>
<circle cx="198.1" cy="223.3" r="1.05"/>
<circle cx="215.4" cy="225.5" r="1.05"/>
<circle cx="223.9" cy="220.6" r="1.05"/>
<circle cx="188.9" cy="212.5" r="1.05"/>
<circle cx="210.0" cy="219.3" r="1.05"/>
<circle cx="202.8" cy="232.6" r="1.05"/>
<circle cx="244.7" cy="236.4" r="1.05"/>
<circle cx="191.7" cy="220.3" r="1.05"/>
<circle cx="244.1" cy="212.1" r="1.05"/>
<circle cx="180.7" cy="243.2" r="1.05"/>
<circle cx="218.8" cy="214.9" r="1.05"/>
<circle cx="249.0" cy="242.9" r="1.05"/>
<circle cx="220.6" cy="224.5" r="1.05"/>
<circle cx="240.6" cy="212.7" r="1.05"/>
<circle cx="230.9" cy="233.2" r="1.05"/>
<circle cx="183.6" cy="245.4" r="1.05"/>
<circle cx="193.5" cy="211.6" r="1.05"/>
<circle cx="236.4" cy="238.7" r="1.05"/>
<circle cx="210.3" cy="222.0" r="1.05"/>
<circle cx="202.0" cy="241.4" r="1.05"/>
<circle cx="245.2" cy="217.5" r="1.05"/>
<circle cx="215.6" cy="207.9" r="1.05"/>
<circle cx="186.7" cy="232.6" r="1.05"/>
<circle cx="206.4" cy="235.1" r="1.05"/>
<circle cx="197.0" cy="248.3" r="1.05"/>
<circle cx="188.5" cy="245.2" r="1.05"/>
<circle cx="199.9" cy="233.3" r="1.05"/>
<circle cx="196.3" cy="223.9" r="1.05"/>
<circle cx="204.0" cy="220.1" r="1.05"/>
<circle cx="202.6" cy="222.6" r="1.05"/>
<circle cx="197.8" cy="217.5" r="1.05"/>
<circle cx="195.7" cy="223.5" r="1.05"/>
<circle cx="204.3" cy="198.8" r="1.05"/>
<circle cx="200.9" cy="227.8" r="1.05"/>
<circle cx="204.2" cy="225.3" r="1.05"/>
<circle cx="203.3" cy="252.6" r="1.05"/>
<circle cx="190.2" cy="234.9" r="1.05"/>
<circle cx="208.5" cy="220.1" r="1.05"/>
<circle cx="187.3" cy="233.2" r="1.05"/>
<circle cx="216.5" cy="211.5" r="1.05"/>
<circle cx="254.2" cy="214.3" r="1.05"/>
<circle cx="202.2" cy="206.2" r="1.05"/>
<circle cx="205.8" cy="240.5" r="1.05"/>
<circle cx="275.8" cy="224.7" r="1.05"/>
<circle cx="202.4" cy="213.4" r="1.05"/>
<circle cx="187.2" cy="226.6" r="1.05"/>
<circle cx="213.0" cy="234.7" r="1.05"/>
<circle cx="189.4" cy="232.3" r="1.05"/>
<circle cx="220.0" cy="228.0" r="1.05"/>
<circle cx="185.7" cy="218.4" r="1.05"/>
<circle cx="206.6" cy="218.6" r="1.05"/>
<circle cx="210.4" cy="226.0" r="1.05"/>
<circle cx="234.1" cy="232.2" r="1.05"/>
<circle cx="213.5" cy="215.9" r="1.05"/>
<circle cx="186.9" cy="215.5" r="1.05"/>
<circle cx="209.1" cy="237.1" r="1.05"/>
<circle cx="206.4" cy="215.6" r="1.05"/>
<circle cx="248.2" cy="232.5" r="1.05"/>
<circle cx="197.0" cy="228.9" r="1.05"/>
<circle cx="199.8" cy="235.3" r="1.05"/>
<circle cx="214.2" cy="242.9" r="1.05"/>
<circle cx="177.6" cy="263.3" r="1.05"/>
<circle cx="176.2" cy="267.8" r="1.05"/>
<circle cx="185.7" cy="285.6" r="1.05"/>
<circle cx="208.5" cy="281.2" r="1.05"/>
<circle cx="199.4" cy="260.1" r="1.05"/>
<circle cx="179.0" cy="258.7" r="1.05"/>
<circle cx="186.1" cy="256.9" r="1.05"/>
<circle cx="208.8" cy="270.5" r="1.05"/>
<circle cx="198.1" cy="256.7" r="1.05"/>
<circle cx="219.8" cy="269.2" r="1.05"/>
<circle cx="226.7" cy="253.7" r="1.05"/>
<circle cx="219.5" cy="266.7" r="1.05"/>
<circle cx="203.7" cy="255.6" r="1.05"/>
<circle cx="195.5" cy="254.2" r="1.05"/>
<circle cx="186.8" cy="274.9" r="1.05"/>
<circle cx="191.5" cy="281.0" r="1.05"/>
<circle cx="195.3" cy="269.5" r="1.05"/>
<circle cx="195.7" cy="265.3" r="1.05"/>
<circle cx="184.7" cy="271.3" r="1.05"/>
<circle cx="202.4" cy="257.3" r="1.05"/>
<circle cx="180.7" cy="259.8" r="1.05"/>
<circle cx="226.1" cy="257.5" r="1.05"/>
<circle cx="207.0" cy="270.2" r="1.05"/>
<circle cx="179.7" cy="257.8" r="1.05"/>
<circle cx="193.7" cy="254.1" r="1.05"/>
<circle cx="189.3" cy="256.6" r="1.05"/>
<circle cx="183.4" cy="259.1" r="1.05"/>
<circle cx="202.8" cy="273.2" r="1.05"/>
<circle cx="185.0" cy="253.4" r="1.05"/>
<circle cx="216.1" cy="261.5" r="1.05"/>
<circle cx="199.8" cy="251.0" r="1.05"/>
<circle cx="214.3" cy="267.4" r="1.05"/>
<circle cx="202.2" cy="255.4" r="1.05"/>
<circle cx="204.2" cy="254.5" r="1.05"/>
<circle cx="192.6" cy="261.9" r="1.05"/>
<circle cx="199.6" cy="262.0" r="1.05"/>
<circle cx="202.9" cy="258.1" r="1.05"/>
<circle cx="194.5" cy="260.9" r="1.05"/>
<circle cx="246.0" cy="184.4" r="1.05"/>
<circle cx="219.8" cy="194.9" r="1.05"/>
<circle cx="223.2" cy="186.3" r="1.05"/>
<circle cx="236.8" cy="201.8" r="1.05"/>
<circle cx="248.3" cy="185.1" r="1.05"/>
<circle cx="226.8" cy="197.5" r="1.05"/>
<circle cx="182.9" cy="198.5" r="1.05"/>
<circle cx="216.7" cy="189.1" r="1.05"/>
<circle cx="182.6" cy="196.0" r="1.05"/>
<circle cx="228.4" cy="190.3" r="1.05"/>
</g>
<polygon points="173.80,234.12 176.59,233.87 179.38,233.62 182.17,233.36 184.96,233.10 187.75,232.83 190.54,232.56 193.33,232.27 196.12,231.98 198.91,231.67 201.70,231.35 204.49,231.02 207.28,230.67 210.07,230.31 212.86,229.93 215.65,229.55 218.44,229.15 221.23,228.74 224.02,228.32 226.81,227.90 229.59,227.47 232.38,227.03 235.17,226.60 237.96,226.16 240.75,225.71 243.54,225.27 246.33,224.82 249.12,224.37 251.91,223.92 254.70,223.47 257.49,223.01 260.28,222.56 263.07,222.10 265.86,221.65 268.65,221.19 271.44,220.73 274.23,220.27 277.02,219.82 279.81,219.36 282.60,218.90 282.60,225.90 279.81,226.13 277.02,226.36 274.23,226.59 271.44,226.82 268.65,227.05 265.86,227.28 263.07,227.51 260.28,227.74 257.49,227.97 254.70,228.21 251.91,228.44 249.12,228.68 246.33,228.91 243.54,229.15 240.75,229.40 237.96,229.64 235.17,229.88 232.38,230.13 229.59,230.39 226.81,230.65 224.02,230.91 221.23,231.18 218.44,231.46 215.65,231.75 212.86,232.05 210.07,232.36 207.28,232.68 204.49,233.02 201.70,233.37 198.91,233.74 196.12,234.12 193.33,234.52 190.54,234.92 187.75,235.33 184.96,235.75 182.17,236.17 179.38,236.61 176.59,237.04 173.80,237.48" fill="#999" fill-opacity="0.43"/>
<line x1="173.8" y1="235.8" x2="282.6" y2="222.4" stroke="#4068e0" stroke-width="1.6"/>
<rect x="168.00" y="178.70" width="119.60" height="114.60" fill="none" stroke="#8f8f8f" stroke-width="0.8"/>
<line x1="168.00" y1="178.70" x2="287.60" y2="178.70" stroke="#777" stroke-width="1.1"/>
<text x="254.70" y="187.30" font-size="7.2" fill="#e8303c" stroke="#e8303c" stroke-width="0.1">r = 0.205</text>
<text x="254.70" y="194.90" font-size="7.2" fill="#e8303c" stroke="#e8303c" stroke-width="0.1"><tspan font-style="italic">P</tspan>&#160;&lt;&#160;0.001</text>
<line x1="173.30" y1="293.30" x2="173.30" y2="294.90" stroke="#555" stroke-width="0.7"/>
<text x="173.30" y="301.60" font-size="7.0" fill="#555" text-anchor="middle" font-weight="normal" >0.000</text>
<line x1="200.90" y1="293.30" x2="200.90" y2="294.90" stroke="#555" stroke-width="0.7"/>
<text x="200.90" y="301.60" font-size="7.0" fill="#555" text-anchor="middle" font-weight="normal" >0.025</text>
<line x1="228.50" y1="293.30" x2="228.50" y2="294.90" stroke="#555" stroke-width="0.7"/>
<text x="228.50" y="301.60" font-size="7.0" fill="#555" text-anchor="middle" font-weight="normal" >0.050</text>
<line x1="256.10" y1="293.30" x2="256.10" y2="294.90" stroke="#555" stroke-width="0.7"/>
<text x="256.10" y="301.60" font-size="7.0" fill="#555" text-anchor="middle" font-weight="normal" >0.075</text>
<line x1="283.70" y1="293.30" x2="283.70" y2="294.90" stroke="#555" stroke-width="0.7"/>
<text x="283.70" y="301.60" font-size="7.0" fill="#555" text-anchor="middle" font-weight="normal" >0.10</text>
<text x="233.10" y="311.60" font-size="8.8" fill="#222" text-anchor="middle" font-weight="normal" stroke="#222" stroke-width="0.15">Infiltration Level</text>
<rect x="293.70" y="167.00" width="116.80" height="11.70" fill="#d9d9d9" stroke="#8f8f8f" stroke-width="0.8"/>
<text x="349.10" y="175.40" font-size="7.1" fill="#111" stroke="#111" stroke-width="0.08" text-anchor="middle">Naive B cell</text>
<rect x="293.70" y="178.70" width="116.80" height="114.60" fill="#fff"/>
<g stroke="#efefef" stroke-width="0.8">
<line x1="298.40" y1="178.70" x2="298.40" y2="293.30"/>
<line x1="309.55" y1="178.70" x2="309.55" y2="293.30" stroke="#f6f6f6"/>
<line x1="320.70" y1="178.70" x2="320.70" y2="293.30"/>
<line x1="331.85" y1="178.70" x2="331.85" y2="293.30" stroke="#f6f6f6"/>
<line x1="343.00" y1="178.70" x2="343.00" y2="293.30"/>
<line x1="354.15" y1="178.70" x2="354.15" y2="293.30" stroke="#f6f6f6"/>
<line x1="365.30" y1="178.70" x2="365.30" y2="293.30"/>
<line x1="376.45" y1="178.70" x2="376.45" y2="293.30" stroke="#f6f6f6"/>
<line x1="387.60" y1="178.70" x2="387.60" y2="293.30"/>
<line x1="398.75" y1="178.70" x2="398.75" y2="293.30" stroke="#f6f6f6"/>
<line x1="409.90" y1="178.70" x2="409.90" y2="293.30"/>
<line x1="293.70" y1="262.30" x2="410.50" y2="262.30"/>
<line x1="293.70" y1="230.30" x2="410.50" y2="230.30"/>
<line x1="293.70" y1="198.30" x2="410.50" y2="198.30"/>
<line x1="293.70" y1="278.30" x2="410.50" y2="278.30" stroke="#f6f6f6"/>
<line x1="293.70" y1="246.30" x2="410.50" y2="246.30" stroke="#f6f6f6"/>
<line x1="293.70" y1="214.30" x2="410.50" y2="214.30" stroke="#f6f6f6"/>
<line x1="293.70" y1="182.30" x2="410.50" y2="182.30" stroke="#f6f6f6"/>
</g>
<g fill="#4d4d4d" fill-opacity="0.72">
<circle cx="298.7" cy="242.9" r="1.05"/>
<circle cx="298.7" cy="220.7" r="1.05"/>
<circle cx="298.6" cy="248.2" r="1.05"/>
<circle cx="299.1" cy="239.1" r="1.05"/>
<circle cx="299.0" cy="238.0" r="1.05"/>
<circle cx="299.7" cy="244.1" r="1.05"/>
<circle cx="299.4" cy="241.5" r="1.05"/>
<circle cx="299.0" cy="218.5" r="1.05"/>
<circle cx="298.9" cy="227.5" r="1.05"/>
<circle cx="299.8" cy="272.8" r="1.05"/>
<circle cx="299.2" cy="212.5" r="1.05"/>
<circle cx="298.8" cy="224.9" r="1.05"/>
<circle cx="299.9" cy="251.1" r="1.05"/>
<circle cx="298.7" cy="230.3" r="1.05"/>
<circle cx="299.0" cy="219.2" r="1.05"/>
<circle cx="298.7" cy="210.5" r="1.05"/>
<circle cx="299.5" cy="242.1" r="1.05"/>
<circle cx="299.2" cy="250.3" r="1.05"/>
<circle cx="299.5" cy="256.8" r="1.05"/>
<circle cx="298.8" cy="233.9" r="1.05"/>
<circle cx="299.2" cy="250.8" r="1.05"/>
<circle cx="299.3" cy="215.4" r="1.05"/>
<circle cx="299.1" cy="235.9" r="1.05"/>
<circle cx="298.8" cy="221.5" r="1.05"/>
<circle cx="299.0" cy="236.0" r="1.05"/>
<circle cx="299.0" cy="245.8" r="1.05"/>
<circle cx="298.7" cy="251.2" r="1.05"/>
<circle cx="300.1" cy="216.2" r="1.05"/>
<circle cx="298.7" cy="254.5" r="1.05"/>
<circle cx="299.2" cy="224.9" r="1.05"/>
<circle cx="298.9" cy="215.6" r="1.05"/>
<circle cx="298.6" cy="230.1" r="1.05"/>
<circle cx="299.8" cy="208.1" r="1.05"/>
<circle cx="298.6" cy="233.1" r="1.05"/>
<circle cx="299.4" cy="237.9" r="1.05"/>
<circle cx="300.1" cy="229.6" r="1.05"/>
<circle cx="299.4" cy="242.1" r="1.05"/>
<circle cx="299.1" cy="227.7" r="1.05"/>
<circle cx="298.6" cy="233.1" r="1.05"/>
<circle cx="299.0" cy="208.5" r="1.05"/>
<circle cx="298.7" cy="233.7" r="1.05"/>
<circle cx="299.0" cy="218.5" r="1.05"/>
<circle cx="299.1" cy="225.4" r="1.05"/>
<circle cx="299.3" cy="231.4" r="1.05"/>
<circle cx="299.3" cy="236.2" r="1.05"/>
<circle cx="299.8" cy="205.0" r="1.05"/>
<circle cx="299.3" cy="206.4" r="1.05"/>
<circle cx="299.8" cy="227.9" r="1.05"/>
<circle cx="299.6" cy="241.1" r="1.05"/>
<circle cx="299.4" cy="239.1" r="1.05"/>
<circle cx="298.7" cy="248.2" r="1.05"/>
<circle cx="298.8" cy="255.1" r="1.05"/>
<circle cx="299.4" cy="241.4" r="1.05"/>
<circle cx="299.5" cy="232.7" r="1.05"/>
<circle cx="299.0" cy="215.5" r="1.05"/>
<circle cx="299.5" cy="216.9" r="1.05"/>
<circle cx="298.9" cy="225.1" r="1.05"/>
<circle cx="298.6" cy="237.5" r="1.05"/>
<circle cx="298.9" cy="236.8" r="1.05"/>
<circle cx="299.6" cy="233.1" r="1.05"/>
<circle cx="299.2" cy="230.4" r="1.05"/>
<circle cx="298.7" cy="243.7" r="1.05"/>
<circle cx="299.0" cy="236.5" r="1.05"/>
<circle cx="298.9" cy="238.1" r="1.05"/>
<circle cx="298.7" cy="238.2" r="1.05"/>
<circle cx="299.3" cy="223.7" r="1.05"/>
<circle cx="299.6" cy="215.5" r="1.05"/>
<circle cx="299.1" cy="241.3" r="1.05"/>
<circle cx="299.5" cy="240.1" r="1.05"/>
<circle cx="298.9" cy="229.3" r="1.05"/>
<circle cx="298.8" cy="225.9" r="1.05"/>
<circle cx="298.8" cy="271.7" r="1.05"/>
<circle cx="298.8" cy="220.1" r="1.05"/>
<circle cx="299.0" cy="229.3" r="1.05"/>
<circle cx="299.8" cy="237.5" r="1.05"/>
<circle cx="298.7" cy="213.4" r="1.05"/>
<circle cx="299.3" cy="235.0" r="1.05"/>
<circle cx="298.9" cy="263.6" r="1.05"/>
<circle cx="299.9" cy="248.9" r="1.05"/>
<circle cx="298.7" cy="243.7" r="1.05"/>
<circle cx="299.5" cy="243.1" r="1.05"/>
<circle cx="298.9" cy="234.9" r="1.05"/>
<circle cx="298.9" cy="249.3" r="1.05"/>
<circle cx="299.1" cy="230.4" r="1.05"/>
<circle cx="298.7" cy="225.8" r="1.05"/>
<circle cx="299.9" cy="234.7" r="1.05"/>
<circle cx="299.4" cy="248.4" r="1.05"/>
<circle cx="299.7" cy="238.6" r="1.05"/>
<circle cx="299.3" cy="244.5" r="1.05"/>
<circle cx="298.8" cy="198.6" r="1.05"/>
<circle cx="299.2" cy="253.3" r="1.05"/>
<circle cx="299.0" cy="272.8" r="1.05"/>
<circle cx="298.8" cy="255.7" r="1.05"/>
<circle cx="299.8" cy="227.6" r="1.05"/>
<circle cx="298.9" cy="218.6" r="1.05"/>
<circle cx="299.3" cy="237.7" r="1.05"/>
<circle cx="300.4" cy="216.2" r="1.05"/>
<circle cx="298.7" cy="245.3" r="1.05"/>
<circle cx="298.7" cy="224.1" r="1.05"/>
<circle cx="299.4" cy="249.3" r="1.05"/>
<circle cx="298.9" cy="256.2" r="1.05"/>
<circle cx="299.5" cy="198.5" r="1.05"/>
<circle cx="299.3" cy="238.0" r="1.05"/>
<circle cx="298.8" cy="221.1" r="1.05"/>
<circle cx="299.0" cy="209.0" r="1.05"/>
<circle cx="299.1" cy="222.5" r="1.05"/>
<circle cx="299.0" cy="229.3" r="1.05"/>
<circle cx="299.5" cy="250.6" r="1.05"/>
<circle cx="299.3" cy="207.1" r="1.05"/>
<circle cx="299.9" cy="250.9" r="1.05"/>
<circle cx="298.9" cy="267.3" r="1.05"/>
<circle cx="299.4" cy="243.2" r="1.05"/>
<circle cx="298.9" cy="242.3" r="1.05"/>
<circle cx="299.2" cy="232.8" r="1.05"/>
<circle cx="299.2" cy="213.0" r="1.05"/>
<circle cx="299.2" cy="242.1" r="1.05"/>
<circle cx="299.1" cy="239.5" r="1.05"/>
<circle cx="299.6" cy="245.4" r="1.05"/>
<circle cx="299.5" cy="276.7" r="1.05"/>
<circle cx="298.9" cy="245.4" r="1.05"/>
<circle cx="298.7" cy="240.2" r="1.05"/>
<circle cx="299.2" cy="259.6" r="1.05"/>
<circle cx="298.7" cy="210.1" r="1.05"/>
<circle cx="299.4" cy="213.6" r="1.05"/>
<circle cx="299.6" cy="226.6" r="1.05"/>
<circle cx="299.2" cy="221.9" r="1.05"/>
<circle cx="299.5" cy="244.8" r="1.05"/>
<circle cx="299.2" cy="227.6" r="1.05"/>
<circle cx="299.9" cy="262.6" r="1.05"/>
<circle cx="300.1" cy="258.8" r="1.05"/>
<circle cx="298.6" cy="246.1" r="1.05"/>
<circle cx="298.8" cy="226.4" r="1.05"/>
<circle cx="299.1" cy="243.5" r="1.05"/>
<circle cx="299.3" cy="246.8" r="1.05"/>
<circle cx="300.1" cy="214.9" r="1.05"/>
<circle cx="298.6" cy="238.9" r="1.05"/>
<circle cx="300.1" cy="245.0" r="1.05"/>
<circle cx="298.9" cy="236.7" r="1.05"/>
<circle cx="298.6" cy="259.7" r="1.05"/>
<circle cx="299.1" cy="253.6" r="1.05"/>
<circle cx="299.2" cy="219.0" r="1.05"/>
<circle cx="298.6" cy="235.1" r="1.05"/>
<circle cx="299.3" cy="218.8" r="1.05"/>
<circle cx="298.7" cy="242.9" r="1.05"/>
<circle cx="298.9" cy="218.3" r="1.05"/>
<circle cx="298.8" cy="248.7" r="1.05"/>
<circle cx="298.8" cy="239.6" r="1.05"/>
<circle cx="298.6" cy="249.5" r="1.05"/>
<circle cx="299.6" cy="230.5" r="1.05"/>
<circle cx="299.1" cy="208.2" r="1.05"/>
<circle cx="298.8" cy="263.0" r="1.05"/>
<circle cx="300.3" cy="230.1" r="1.05"/>
<circle cx="299.1" cy="256.4" r="1.05"/>
<circle cx="299.1" cy="240.3" r="1.05"/>
<circle cx="299.2" cy="244.5" r="1.05"/>
<circle cx="300.0" cy="264.1" r="1.05"/>
<circle cx="299.4" cy="238.8" r="1.05"/>
<circle cx="299.2" cy="256.8" r="1.05"/>
<circle cx="299.3" cy="207.8" r="1.05"/>
<circle cx="298.9" cy="247.8" r="1.05"/>
<circle cx="298.8" cy="228.9" r="1.05"/>
<circle cx="299.5" cy="230.7" r="1.05"/>
<circle cx="298.6" cy="233.1" r="1.05"/>
<circle cx="298.7" cy="238.9" r="1.05"/>
<circle cx="299.0" cy="261.2" r="1.05"/>
<circle cx="299.7" cy="201.5" r="1.05"/>
<circle cx="299.3" cy="233.7" r="1.05"/>
<circle cx="298.7" cy="220.8" r="1.05"/>
<circle cx="299.6" cy="252.8" r="1.05"/>
<circle cx="299.2" cy="225.8" r="1.05"/>
<circle cx="301.1" cy="247.7" r="1.05"/>
<circle cx="300.8" cy="238.8" r="1.05"/>
<circle cx="302.0" cy="232.0" r="1.05"/>
<circle cx="303.6" cy="238.4" r="1.05"/>
<circle cx="300.8" cy="239.9" r="1.05"/>
<circle cx="299.2" cy="213.0" r="1.05"/>
<circle cx="305.4" cy="228.2" r="1.05"/>
<circle cx="300.4" cy="215.2" r="1.05"/>
<circle cx="302.9" cy="230.8" r="1.05"/>
<circle cx="301.5" cy="221.3" r="1.05"/>
<circle cx="304.0" cy="245.6" r="1.05"/>
<circle cx="308.3" cy="235.6" r="1.05"/>
<circle cx="307.3" cy="219.6" r="1.05"/>
<circle cx="305.2" cy="229.1" r="1.05"/>
<circle cx="301.2" cy="214.8" r="1.05"/>
<circle cx="299.1" cy="229.8" r="1.05"/>
<circle cx="299.4" cy="235.9" r="1.05"/>
<circle cx="299.3" cy="232.5" r="1.05"/>
<circle cx="302.3" cy="206.2" r="1.05"/>
<circle cx="301.1" cy="225.3" r="1.05"/>
<circle cx="304.7" cy="235.4" r="1.05"/>
<circle cx="304.6" cy="233.0" r="1.05"/>
<circle cx="308.5" cy="243.2" r="1.05"/>
<circle cx="309.6" cy="213.9" r="1.05"/>
<circle cx="299.8" cy="235.6" r="1.05"/>
<circle cx="305.6" cy="221.5" r="1.05"/>
<circle cx="301.2" cy="231.7" r="1.05"/>
<circle cx="302.7" cy="234.2" r="1.05"/>
<circle cx="299.0" cy="237.6" r="1.05"/>
<circle cx="302.9" cy="222.4" r="1.05"/>
<circle cx="304.4" cy="231.5" r="1.05"/>
<circle cx="303.0" cy="215.3" r="1.05"/>
<circle cx="302.4" cy="212.4" r="1.05"/>
<circle cx="300.1" cy="236.0" r="1.05"/>
<circle cx="304.0" cy="228.7" r="1.05"/>
<circle cx="305.3" cy="209.9" r="1.05"/>
<circle cx="300.5" cy="219.1" r="1.05"/>
<circle cx="305.5" cy="229.5" r="1.05"/>
<circle cx="300.8" cy="248.0" r="1.05"/>
<circle cx="307.0" cy="241.8" r="1.05"/>
<circle cx="302.1" cy="238.9" r="1.05"/>
<circle cx="300.0" cy="207.9" r="1.05"/>
<circle cx="309.8" cy="228.1" r="1.05"/>
<circle cx="303.7" cy="235.0" r="1.05"/>
<circle cx="303.1" cy="234.0" r="1.05"/>
<circle cx="301.6" cy="234.3" r="1.05"/>
<circle cx="299.2" cy="226.5" r="1.05"/>
<circle cx="299.4" cy="250.4" r="1.05"/>
<circle cx="305.8" cy="247.0" r="1.05"/>
<circle cx="303.2" cy="228.2" r="1.05"/>
<circle cx="301.4" cy="217.5" r="1.05"/>
<circle cx="306.2" cy="253.9" r="1.05"/>
<circle cx="301.2" cy="222.7" r="1.05"/>
<circle cx="301.1" cy="243.7" r="1.05"/>
<circle cx="300.9" cy="252.2" r="1.05"/>
<circle cx="303.8" cy="218.0" r="1.05"/>
<circle cx="300.6" cy="232.8" r="1.05"/>
<circle cx="303.7" cy="225.1" r="1.05"/>
<circle cx="299.8" cy="235.5" r="1.05"/>
<circle cx="301.8" cy="233.1" r="1.05"/>
<circle cx="301.4" cy="252.6" r="1.05"/>
<circle cx="300.6" cy="236.4" r="1.05"/>
<circle cx="306.0" cy="229.2" r="1.05"/>
<circle cx="303.4" cy="242.8" r="1.05"/>
<circle cx="299.8" cy="226.0" r="1.05"/>
<circle cx="303.4" cy="224.9" r="1.05"/>
<circle cx="308.1" cy="256.2" r="1.05"/>
<circle cx="306.4" cy="219.4" r="1.05"/>
<circle cx="308.6" cy="223.4" r="1.05"/>
<circle cx="302.9" cy="229.8" r="1.05"/>
<circle cx="303.7" cy="216.6" r="1.05"/>
<circle cx="301.5" cy="204.0" r="1.05"/>
<circle cx="299.2" cy="242.0" r="1.05"/>
<circle cx="299.6" cy="219.9" r="1.05"/>
<circle cx="302.4" cy="222.8" r="1.05"/>
<circle cx="300.4" cy="224.8" r="1.05"/>
<circle cx="300.8" cy="217.5" r="1.05"/>
<circle cx="299.6" cy="216.4" r="1.05"/>
<circle cx="308.8" cy="231.2" r="1.05"/>
<circle cx="300.7" cy="258.1" r="1.05"/>
<circle cx="305.1" cy="238.1" r="1.05"/>
<circle cx="300.8" cy="238.3" r="1.05"/>
<circle cx="299.6" cy="211.2" r="1.05"/>
<circle cx="301.7" cy="229.0" r="1.05"/>
<circle cx="301.2" cy="215.1" r="1.05"/>
<circle cx="304.1" cy="238.6" r="1.05"/>
<circle cx="300.2" cy="226.6" r="1.05"/>
<circle cx="303.6" cy="229.8" r="1.05"/>
<circle cx="313.0" cy="228.2" r="1.05"/>
<circle cx="301.6" cy="222.3" r="1.05"/>
<circle cx="307.9" cy="211.0" r="1.05"/>
<circle cx="307.2" cy="236.2" r="1.05"/>
<circle cx="302.6" cy="212.7" r="1.05"/>
<circle cx="302.2" cy="215.1" r="1.05"/>
<circle cx="307.6" cy="225.7" r="1.05"/>
<circle cx="302.8" cy="220.8" r="1.05"/>
<circle cx="301.1" cy="232.4" r="1.05"/>
<circle cx="302.5" cy="241.4" r="1.05"/>
<circle cx="302.3" cy="232.3" r="1.05"/>
<circle cx="306.3" cy="231.7" r="1.05"/>
<circle cx="304.4" cy="229.6" r="1.05"/>
<circle cx="305.5" cy="239.6" r="1.05"/>
<circle cx="304.0" cy="207.1" r="1.05"/>
<circle cx="303.0" cy="233.7" r="1.05"/>
<circle cx="305.0" cy="218.1" r="1.05"/>
<circle cx="304.2" cy="214.5" r="1.05"/>
<circle cx="303.3" cy="229.3" r="1.05"/>
<circle cx="299.9" cy="224.6" r="1.05"/>
<circle cx="300.5" cy="236.3" r="1.05"/>
<circle cx="302.9" cy="242.5" r="1.05"/>
<circle cx="302.2" cy="201.4" r="1.05"/>
<circle cx="304.8" cy="228.4" r="1.05"/>
<circle cx="301.3" cy="252.8" r="1.05"/>
<circle cx="299.2" cy="239.7" r="1.05"/>
<circle cx="303.2" cy="246.6" r="1.05"/>
<circle cx="300.2" cy="230.5" r="1.05"/>
<circle cx="307.2" cy="212.1" r="1.05"/>
<circle cx="301.6" cy="215.8" r="1.05"/>
<circle cx="299.2" cy="237.8" r="1.05"/>
<circle cx="305.0" cy="240.8" r="1.05"/>
<circle cx="302.0" cy="220.5" r="1.05"/>
<circle cx="302.9" cy="226.1" r="1.05"/>
<circle cx="304.0" cy="232.4" r="1.05"/>
<circle cx="300.7" cy="208.3" r="1.05"/>
<circle cx="301.3" cy="225.1" r="1.05"/>
<circle cx="299.7" cy="248.7" r="1.05"/>
<circle cx="299.1" cy="255.5" r="1.05"/>
<circle cx="304.7" cy="228.0" r="1.05"/>
<circle cx="302.8" cy="251.3" r="1.05"/>
<circle cx="305.4" cy="223.0" r="1.05"/>
<circle cx="299.1" cy="219.6" r="1.05"/>
<circle cx="299.4" cy="202.4" r="1.05"/>
<circle cx="302.1" cy="240.8" r="1.05"/>
<circle cx="300.1" cy="224.8" r="1.05"/>
<circle cx="302.0" cy="257.4" r="1.05"/>
<circle cx="301.2" cy="233.3" r="1.05"/>
<circle cx="307.1" cy="231.6" r="1.05"/>
<circle cx="299.2" cy="207.6" r="1.05"/>
<circle cx="301.8" cy="247.3" r="1.05"/>
<circle cx="301.0" cy="224.9" r="1.05"/>
<circle cx="303.7" cy="227.4" r="1.05"/>
<circle cx="301.1" cy="202.8" r="1.05"/>
<circle cx="303.5" cy="240.4" r="1.05"/>
<circle cx="303.9" cy="241.2" r="1.05"/>
<circle cx="302.0" cy="222.0" r="1.05"/>
<circle cx="301.2" cy="230.4" r="1.05"/>
<circle cx="300.8" cy="234.0" r="1.05"/>
<circle cx="304.2" cy="240.9" r="1.05"/>
<circle cx="299.3" cy="230.6" r="1.05"/>
<circle cx="306.8" cy="250.0" r="1.05"/>
<circle cx="301.3" cy="226.4" r="1.05"/>
<circle cx="301.4" cy="222.0" r="1.05"/>
<circle cx="301.4" cy="223.7" r="1.05"/>
<circle cx="299.6" cy="198.9" r="1.05"/>
<circle cx="300.0" cy="219.6" r="1.05"/>
<circle cx="302.6" cy="241.4" r="1.05"/>
<circle cx="299.7" cy="232.5" r="1.05"/>
<circle cx="301.2" cy="219.5" r="1.05"/>
<circle cx="302.3" cy="233.5" r="1.05"/>
<circle cx="299.5" cy="205.1" r="1.05"/>
<circle cx="300.5" cy="225.9" r="1.05"/>
<circle cx="300.3" cy="235.6" r="1.05"/>
<circle cx="301.1" cy="237.7" r="1.05"/>
<circle cx="300.5" cy="220.0" r="1.05"/>
<circle cx="303.8" cy="240.3" r="1.05"/>
<circle cx="302.6" cy="251.8" r="1.05"/>
<circle cx="300.9" cy="224.2" r="1.05"/>
<circle cx="305.0" cy="238.2" r="1.05"/>
<circle cx="299.5" cy="210.7" r="1.05"/>
<circle cx="299.8" cy="205.8" r="1.05"/>
<circle cx="303.8" cy="236.7" r="1.05"/>
<circle cx="300.9" cy="229.9" r="1.05"/>
<circle cx="300.1" cy="231.8" r="1.05"/>
<circle cx="302.1" cy="222.4" r="1.05"/>
<circle cx="301.4" cy="225.8" r="1.05"/>
<circle cx="299.9" cy="239.1" r="1.05"/>
<circle cx="306.5" cy="250.0" r="1.05"/>
<circle cx="305.5" cy="226.8" r="1.05"/>
<circle cx="301.6" cy="209.6" r="1.05"/>
<circle cx="300.0" cy="244.7" r="1.05"/>
<circle cx="303.6" cy="236.6" r="1.05"/>
<circle cx="301.3" cy="237.6" r="1.05"/>
<circle cx="299.0" cy="231.6" r="1.05"/>
<circle cx="299.8" cy="257.3" r="1.05"/>
<circle cx="301.5" cy="230.3" r="1.05"/>
<circle cx="299.3" cy="235.6" r="1.05"/>
<circle cx="300.0" cy="207.1" r="1.05"/>
<circle cx="300.2" cy="222.4" r="1.05"/>
<circle cx="305.2" cy="221.1" r="1.05"/>
<circle cx="300.4" cy="229.0" r="1.05"/>
<circle cx="306.7" cy="233.6" r="1.05"/>
<circle cx="303.6" cy="220.4" r="1.05"/>
<circle cx="306.3" cy="250.2" r="1.05"/>
<circle cx="302.8" cy="216.6" r="1.05"/>
<circle cx="301.3" cy="224.0" r="1.05"/>
<circle cx="300.6" cy="232.2" r="1.05"/>
<circle cx="301.9" cy="214.4" r="1.05"/>
<circle cx="300.0" cy="236.2" r="1.05"/>
<circle cx="302.6" cy="237.0" r="1.05"/>
<circle cx="305.6" cy="225.9" r="1.05"/>
<circle cx="305.5" cy="252.3" r="1.05"/>
<circle cx="303.1" cy="230.4" r="1.05"/>
<circle cx="305.2" cy="232.8" r="1.05"/>
<circle cx="305.2" cy="217.9" r="1.05"/>
<circle cx="304.4" cy="209.3" r="1.05"/>
<circle cx="304.7" cy="221.8" r="1.05"/>
<circle cx="300.0" cy="225.5" r="1.05"/>
<circle cx="299.4" cy="223.9" r="1.05"/>
<circle cx="302.0" cy="238.6" r="1.05"/>
<circle cx="299.3" cy="200.7" r="1.05"/>
<circle cx="301.7" cy="215.8" r="1.05"/>
<circle cx="299.2" cy="207.5" r="1.05"/>
<circle cx="303.3" cy="245.5" r="1.05"/>
<circle cx="304.1" cy="222.6" r="1.05"/>
<circle cx="300.3" cy="223.2" r="1.05"/>
<circle cx="300.2" cy="216.2" r="1.05"/>
<circle cx="299.5" cy="240.2" r="1.05"/>
<circle cx="300.3" cy="224.4" r="1.05"/>
<circle cx="304.2" cy="232.1" r="1.05"/>
<circle cx="300.6" cy="205.0" r="1.05"/>
<circle cx="299.7" cy="243.5" r="1.05"/>
<circle cx="303.1" cy="234.1" r="1.05"/>
<circle cx="308.4" cy="236.0" r="1.05"/>
<circle cx="303.6" cy="244.2" r="1.05"/>
<circle cx="303.1" cy="227.1" r="1.05"/>
<circle cx="300.0" cy="227.4" r="1.05"/>
<circle cx="307.9" cy="238.0" r="1.05"/>
<circle cx="302.8" cy="234.5" r="1.05"/>
<circle cx="306.1" cy="226.5" r="1.05"/>
<circle cx="303.6" cy="229.9" r="1.05"/>
<circle cx="299.8" cy="223.3" r="1.05"/>
<circle cx="300.2" cy="238.0" r="1.05"/>
<circle cx="303.7" cy="240.6" r="1.05"/>
<circle cx="302.4" cy="229.5" r="1.05"/>
<circle cx="304.1" cy="252.0" r="1.05"/>
<circle cx="301.4" cy="210.9" r="1.05"/>
<circle cx="301.3" cy="226.6" r="1.05"/>
<circle cx="303.8" cy="250.0" r="1.05"/>
<circle cx="301.4" cy="224.3" r="1.05"/>
<circle cx="302.0" cy="210.2" r="1.05"/>
<circle cx="319.8" cy="225.6" r="1.05"/>
<circle cx="300.9" cy="228.8" r="1.05"/>
<circle cx="301.4" cy="262.2" r="1.05"/>
<circle cx="305.3" cy="196.0" r="1.05"/>
<circle cx="301.2" cy="241.9" r="1.05"/>
<circle cx="301.5" cy="232.4" r="1.05"/>
<circle cx="306.1" cy="214.1" r="1.05"/>
<circle cx="303.7" cy="223.0" r="1.05"/>
<circle cx="300.6" cy="217.4" r="1.05"/>
<circle cx="321.8" cy="226.2" r="1.05"/>
<circle cx="302.8" cy="241.5" r="1.05"/>
<circle cx="301.0" cy="201.0" r="1.05"/>
<circle cx="304.0" cy="246.5" r="1.05"/>
<circle cx="311.2" cy="219.4" r="1.05"/>
<circle cx="308.7" cy="249.5" r="1.05"/>
<circle cx="305.8" cy="232.0" r="1.05"/>
<circle cx="380.3" cy="245.2" r="1.05"/>
<circle cx="306.9" cy="234.5" r="1.05"/>
<circle cx="315.7" cy="242.8" r="1.05"/>
<circle cx="302.2" cy="226.3" r="1.05"/>
<circle cx="300.9" cy="212.1" r="1.05"/>
<circle cx="316.1" cy="236.2" r="1.05"/>
<circle cx="315.8" cy="236.8" r="1.05"/>
<circle cx="303.2" cy="259.1" r="1.05"/>
<circle cx="300.4" cy="193.3" r="1.05"/>
<circle cx="311.2" cy="222.3" r="1.05"/>
<circle cx="308.2" cy="242.5" r="1.05"/>
<circle cx="308.9" cy="205.3" r="1.05"/>
<circle cx="306.3" cy="221.8" r="1.05"/>
<circle cx="318.9" cy="259.4" r="1.05"/>
<circle cx="304.3" cy="248.2" r="1.05"/>
<circle cx="325.6" cy="211.4" r="1.05"/>
<circle cx="303.8" cy="248.3" r="1.05"/>
<circle cx="317.6" cy="244.5" r="1.05"/>
<circle cx="311.4" cy="237.9" r="1.05"/>
<circle cx="335.9" cy="231.6" r="1.05"/>
<circle cx="305.4" cy="229.3" r="1.05"/>
<circle cx="315.7" cy="211.5" r="1.05"/>
<circle cx="301.2" cy="217.2" r="1.05"/>
<circle cx="300.5" cy="237.2" r="1.05"/>
<circle cx="300.7" cy="227.8" r="1.05"/>
<circle cx="302.6" cy="255.2" r="1.05"/>
<circle cx="310.4" cy="220.2" r="1.05"/>
<circle cx="304.8" cy="187.0" r="1.05"/>
<circle cx="313.0" cy="220.2" r="1.05"/>
<circle cx="311.5" cy="230.0" r="1.05"/>
<circle cx="305.0" cy="231.7" r="1.05"/>
<circle cx="303.4" cy="226.6" r="1.05"/>
<circle cx="302.3" cy="212.4" r="1.05"/>
<circle cx="300.4" cy="249.5" r="1.05"/>
<circle cx="313.4" cy="214.9" r="1.05"/>
<circle cx="301.0" cy="236.9" r="1.05"/>
<circle cx="303.2" cy="220.9" r="1.05"/>
<circle cx="301.0" cy="206.4" r="1.05"/>
<circle cx="309.4" cy="248.2" r="1.05"/>
<circle cx="301.0" cy="185.4" r="1.05"/>
<circle cx="312.9" cy="211.9" r="1.05"/>
<circle cx="303.3" cy="232.5" r="1.05"/>
<circle cx="307.7" cy="219.9" r="1.05"/>
<circle cx="312.9" cy="237.6" r="1.05"/>
<circle cx="305.5" cy="224.0" r="1.05"/>
<circle cx="300.5" cy="218.3" r="1.05"/>
<circle cx="314.8" cy="260.2" r="1.05"/>
<circle cx="315.0" cy="222.1" r="1.05"/>
<circle cx="305.4" cy="223.1" r="1.05"/>
<circle cx="309.9" cy="208.3" r="1.05"/>
<circle cx="304.0" cy="213.7" r="1.05"/>
<circle cx="304.8" cy="236.0" r="1.05"/>
<circle cx="314.5" cy="234.7" r="1.05"/>
<circle cx="304.3" cy="225.7" r="1.05"/>
<circle cx="327.4" cy="185.8" r="1.05"/>
<circle cx="321.8" cy="193.9" r="1.05"/>
<circle cx="405.4" cy="245.0" r="1.05"/>
<circle cx="323.2" cy="257.3" r="1.05"/>
<circle cx="304.2" cy="288.2" r="1.05"/>
</g>
<polygon points="298.80,230.82 301.53,230.21 304.27,229.48 307.00,228.65 309.73,227.72 312.47,226.73 315.20,225.70 317.93,224.63 320.67,223.54 323.40,222.43 326.13,221.31 328.87,220.18 331.60,219.04 334.33,217.90 337.07,216.76 339.80,215.61 342.53,214.46 345.27,213.30 348.00,212.15 350.73,210.99 353.47,209.83 356.20,208.67 358.93,207.51 361.67,206.35 364.40,205.18 367.13,204.02 369.87,202.86 372.60,201.69 375.33,200.53 378.07,199.36 380.80,198.20 383.53,197.03 386.27,195.86 389.00,194.70 391.73,193.53 394.47,192.36 397.20,191.20 399.93,190.03 402.67,188.86 405.40,187.69 405.40,231.63 402.67,231.65 399.93,231.67 397.20,231.69 394.47,231.71 391.73,231.74 389.00,231.76 386.27,231.78 383.53,231.80 380.80,231.82 378.07,231.85 375.33,231.87 372.60,231.90 369.87,231.92 367.13,231.95 364.40,231.97 361.67,232.00 358.93,232.03 356.20,232.06 353.47,232.09 350.73,232.12 348.00,232.16 345.27,232.20 342.53,232.24 339.80,232.28 337.07,232.33 334.33,232.38 331.60,232.44 328.87,232.50 326.13,232.58 323.40,232.66 320.67,232.77 317.93,232.89 315.20,233.05 312.47,233.26 309.73,233.53 307.00,233.89 304.27,234.38 301.53,235.01 298.80,235.81" fill="#999" fill-opacity="0.43"/>
<line x1="298.8" y1="232.9" x2="405.4" y2="206.0" stroke="#4068e0" stroke-width="1.6"/>
<rect x="293.70" y="178.70" width="116.80" height="114.60" fill="none" stroke="#8f8f8f" stroke-width="0.8"/>
<line x1="293.70" y1="178.70" x2="410.50" y2="178.70" stroke="#777" stroke-width="1.1"/>
<text x="379.60" y="187.30" font-size="7.2" fill="#e8303c" stroke="#e8303c" stroke-width="0.1">r = 0.218</text>
<text x="379.60" y="194.90" font-size="7.2" fill="#e8303c" stroke="#e8303c" stroke-width="0.1"><tspan font-style="italic">P</tspan>&#160;&lt;&#160;0.001</text>
<line x1="298.40" y1="293.30" x2="298.40" y2="294.90" stroke="#555" stroke-width="0.7"/>
<text x="298.40" y="301.60" font-size="7.0" fill="#555" text-anchor="middle" font-weight="normal" >0.0</text>
<line x1="320.70" y1="293.30" x2="320.70" y2="294.90" stroke="#555" stroke-width="0.7"/>
<text x="320.70" y="301.60" font-size="7.0" fill="#555" text-anchor="middle" font-weight="normal" >0.1</text>
<line x1="343.00" y1="293.30" x2="343.00" y2="294.90" stroke="#555" stroke-width="0.7"/>
<text x="343.00" y="301.60" font-size="7.0" fill="#555" text-anchor="middle" font-weight="normal" >0.2</text>
<line x1="365.30" y1="293.30" x2="365.30" y2="294.90" stroke="#555" stroke-width="0.7"/>
<text x="365.30" y="301.60" font-size="7.0" fill="#555" text-anchor="middle" font-weight="normal" >0.3</text>
<line x1="387.60" y1="293.30" x2="387.60" y2="294.90" stroke="#555" stroke-width="0.7"/>
<text x="387.60" y="301.60" font-size="7.0" fill="#555" text-anchor="middle" font-weight="normal" >0.4</text>
<line x1="409.90" y1="293.30" x2="409.90" y2="294.90" stroke="#555" stroke-width="0.7"/>
<text x="409.90" y="301.60" font-size="7.0" fill="#555" text-anchor="middle" font-weight="normal" >0.5</text>
<text x="353.10" y="311.60" font-size="8.8" fill="#222" text-anchor="middle" font-weight="normal" stroke="#222" stroke-width="0.15">Infiltration Level</text>
<rect x="417.00" y="167.00" width="120.70" height="11.70" fill="#d9d9d9" stroke="#8f8f8f" stroke-width="0.8"/>
<text x="477.35" y="175.40" font-size="7.1" fill="#111" stroke="#111" stroke-width="0.08" text-anchor="middle">Plasma B cell</text>
<rect x="417.00" y="178.70" width="120.70" height="114.60" fill="#fff"/>
<g stroke="#efefef" stroke-width="0.8">
<line x1="422.00" y1="178.70" x2="422.00" y2="293.30"/>
<line x1="437.88" y1="178.70" x2="437.88" y2="293.30" stroke="#f6f6f6"/>
<line x1="453.75" y1="178.70" x2="453.75" y2="293.30"/>
<line x1="469.62" y1="178.70" x2="469.62" y2="293.30" stroke="#f6f6f6"/>
<line x1="485.50" y1="178.70" x2="485.50" y2="293.30"/>
<line x1="501.38" y1="178.70" x2="501.38" y2="293.30" stroke="#f6f6f6"/>
<line x1="517.25" y1="178.70" x2="517.25" y2="293.30"/>
<line x1="417.00" y1="262.30" x2="537.70" y2="262.30"/>
<line x1="417.00" y1="230.30" x2="537.70" y2="230.30"/>
<line x1="417.00" y1="198.30" x2="537.70" y2="198.30"/>
<line x1="417.00" y1="278.30" x2="537.70" y2="278.30" stroke="#f6f6f6"/>
<line x1="417.00" y1="246.30" x2="537.70" y2="246.30" stroke="#f6f6f6"/>
<line x1="417.00" y1="214.30" x2="537.70" y2="214.30" stroke="#f6f6f6"/>
<line x1="417.00" y1="182.30" x2="537.70" y2="182.30" stroke="#f6f6f6"/>
</g>
<g fill="#4d4d4d" fill-opacity="0.72">
<circle cx="432.1" cy="210.7" r="1.05"/>
<circle cx="426.0" cy="224.2" r="1.05"/>
<circle cx="436.1" cy="221.9" r="1.05"/>
<circle cx="440.6" cy="231.2" r="1.05"/>
<circle cx="431.3" cy="220.7" r="1.05"/>
<circle cx="448.6" cy="221.3" r="1.05"/>
<circle cx="439.4" cy="233.2" r="1.05"/>
<circle cx="449.2" cy="236.1" r="1.05"/>
<circle cx="481.9" cy="232.2" r="1.05"/>
<circle cx="441.9" cy="234.9" r="1.05"/>
<circle cx="422.2" cy="229.3" r="1.05"/>
<circle cx="439.1" cy="232.3" r="1.05"/>
<circle cx="433.2" cy="233.3" r="1.05"/>
<circle cx="457.9" cy="228.8" r="1.05"/>
<circle cx="460.6" cy="225.6" r="1.05"/>
<circle cx="444.7" cy="226.4" r="1.05"/>
<circle cx="461.5" cy="247.8" r="1.05"/>
<circle cx="435.1" cy="225.1" r="1.05"/>
<circle cx="433.6" cy="222.8" r="1.05"/>
<circle cx="449.3" cy="221.5" r="1.05"/>
<circle cx="446.4" cy="224.7" r="1.05"/>
<circle cx="437.3" cy="227.3" r="1.05"/>
<circle cx="434.8" cy="214.3" r="1.05"/>
<circle cx="436.4" cy="206.2" r="1.05"/>
<circle cx="455.6" cy="227.8" r="1.05"/>
<circle cx="438.7" cy="209.7" r="1.05"/>
<circle cx="444.3" cy="227.5" r="1.05"/>
<circle cx="449.1" cy="226.3" r="1.05"/>
<circle cx="444.4" cy="236.0" r="1.05"/>
<circle cx="449.2" cy="240.9" r="1.05"/>
<circle cx="430.8" cy="228.5" r="1.05"/>
<circle cx="436.5" cy="219.7" r="1.05"/>
<circle cx="451.7" cy="213.8" r="1.05"/>
<circle cx="437.6" cy="217.5" r="1.05"/>
<circle cx="467.6" cy="225.4" r="1.05"/>
<circle cx="442.7" cy="205.3" r="1.05"/>
<circle cx="443.2" cy="225.7" r="1.05"/>
<circle cx="443.6" cy="224.9" r="1.05"/>
<circle cx="437.8" cy="231.1" r="1.05"/>
<circle cx="444.9" cy="221.8" r="1.05"/>
<circle cx="451.2" cy="226.0" r="1.05"/>
<circle cx="440.2" cy="218.0" r="1.05"/>
<circle cx="442.0" cy="220.6" r="1.05"/>
<circle cx="434.3" cy="208.2" r="1.05"/>
<circle cx="430.3" cy="226.2" r="1.05"/>
<circle cx="458.3" cy="239.7" r="1.05"/>
<circle cx="438.7" cy="226.5" r="1.05"/>
<circle cx="439.3" cy="228.5" r="1.05"/>
<circle cx="439.7" cy="215.7" r="1.05"/>
<circle cx="451.8" cy="238.6" r="1.05"/>
<circle cx="453.6" cy="217.7" r="1.05"/>
<circle cx="429.6" cy="232.6" r="1.05"/>
<circle cx="437.4" cy="226.0" r="1.05"/>
<circle cx="443.6" cy="215.9" r="1.05"/>
<circle cx="439.9" cy="234.8" r="1.05"/>
<circle cx="434.4" cy="225.1" r="1.05"/>
<circle cx="445.9" cy="226.7" r="1.05"/>
<circle cx="431.1" cy="229.3" r="1.05"/>
<circle cx="433.2" cy="224.8" r="1.05"/>
<circle cx="438.0" cy="221.4" r="1.05"/>
<circle cx="431.9" cy="229.4" r="1.05"/>
<circle cx="459.3" cy="221.2" r="1.05"/>
<circle cx="468.3" cy="225.6" r="1.05"/>
<circle cx="423.9" cy="218.7" r="1.05"/>
<circle cx="435.2" cy="210.8" r="1.05"/>
<circle cx="463.5" cy="218.6" r="1.05"/>
<circle cx="455.8" cy="220.3" r="1.05"/>
<circle cx="431.8" cy="225.1" r="1.05"/>
<circle cx="429.0" cy="236.3" r="1.05"/>
<circle cx="433.1" cy="209.0" r="1.05"/>
<circle cx="452.3" cy="226.2" r="1.05"/>
<circle cx="446.9" cy="204.0" r="1.05"/>
<circle cx="436.1" cy="215.1" r="1.05"/>
<circle cx="436.6" cy="220.2" r="1.05"/>
<circle cx="430.4" cy="203.6" r="1.05"/>
<circle cx="444.1" cy="207.4" r="1.05"/>
<circle cx="434.7" cy="226.5" r="1.05"/>
<circle cx="430.4" cy="225.7" r="1.05"/>
<circle cx="432.1" cy="223.9" r="1.05"/>
<circle cx="462.8" cy="217.4" r="1.05"/>
<circle cx="426.5" cy="245.5" r="1.05"/>
<circle cx="453.8" cy="223.5" r="1.05"/>
<circle cx="455.0" cy="216.8" r="1.05"/>
<circle cx="444.3" cy="240.9" r="1.05"/>
<circle cx="433.9" cy="230.8" r="1.05"/>
<circle cx="439.8" cy="221.5" r="1.05"/>
<circle cx="444.3" cy="236.3" r="1.05"/>
<circle cx="439.9" cy="226.5" r="1.05"/>
<circle cx="426.5" cy="231.1" r="1.05"/>
<circle cx="431.6" cy="227.2" r="1.05"/>
<circle cx="436.2" cy="215.2" r="1.05"/>
<circle cx="431.0" cy="234.2" r="1.05"/>
<circle cx="442.5" cy="226.5" r="1.05"/>
<circle cx="439.3" cy="215.4" r="1.05"/>
<circle cx="466.7" cy="217.8" r="1.05"/>
<circle cx="435.1" cy="234.1" r="1.05"/>
<circle cx="437.0" cy="221.5" r="1.05"/>
<circle cx="463.5" cy="225.4" r="1.05"/>
<circle cx="450.5" cy="231.2" r="1.05"/>
<circle cx="430.3" cy="226.2" r="1.05"/>
<circle cx="448.3" cy="210.5" r="1.05"/>
<circle cx="431.1" cy="231.1" r="1.05"/>
<circle cx="444.3" cy="233.9" r="1.05"/>
<circle cx="480.5" cy="233.2" r="1.05"/>
<circle cx="436.6" cy="240.4" r="1.05"/>
<circle cx="451.8" cy="228.5" r="1.05"/>
<circle cx="446.7" cy="232.4" r="1.05"/>
<circle cx="462.0" cy="240.1" r="1.05"/>
<circle cx="434.3" cy="222.2" r="1.05"/>
<circle cx="440.4" cy="241.5" r="1.05"/>
<circle cx="447.8" cy="241.5" r="1.05"/>
<circle cx="436.1" cy="232.4" r="1.05"/>
<circle cx="433.9" cy="242.5" r="1.05"/>
<circle cx="442.9" cy="233.1" r="1.05"/>
<circle cx="449.7" cy="216.6" r="1.05"/>
<circle cx="446.5" cy="235.8" r="1.05"/>
<circle cx="431.9" cy="228.1" r="1.05"/>
<circle cx="442.2" cy="228.9" r="1.05"/>
<circle cx="440.7" cy="226.5" r="1.05"/>
<circle cx="458.8" cy="237.9" r="1.05"/>
<circle cx="432.8" cy="230.2" r="1.05"/>
<circle cx="435.9" cy="218.4" r="1.05"/>
<circle cx="464.6" cy="229.6" r="1.05"/>
<circle cx="436.3" cy="231.9" r="1.05"/>
<circle cx="431.1" cy="218.1" r="1.05"/>
<circle cx="435.0" cy="220.9" r="1.05"/>
<circle cx="434.6" cy="221.4" r="1.05"/>
<circle cx="434.5" cy="219.2" r="1.05"/>
<circle cx="462.3" cy="228.3" r="1.05"/>
<circle cx="432.8" cy="234.7" r="1.05"/>
<circle cx="427.7" cy="243.0" r="1.05"/>
<circle cx="457.8" cy="236.3" r="1.05"/>
<circle cx="441.7" cy="234.7" r="1.05"/>
<circle cx="445.7" cy="235.9" r="1.05"/>
<circle cx="441.8" cy="237.7" r="1.05"/>
<circle cx="445.2" cy="221.4" r="1.05"/>
<circle cx="447.5" cy="231.6" r="1.05"/>
<circle cx="442.4" cy="228.1" r="1.05"/>
<circle cx="427.4" cy="223.8" r="1.05"/>
<circle cx="440.0" cy="220.7" r="1.05"/>
<circle cx="430.9" cy="220.2" r="1.05"/>
<circle cx="442.9" cy="222.5" r="1.05"/>
<circle cx="440.2" cy="213.3" r="1.05"/>
<circle cx="459.9" cy="230.0" r="1.05"/>
<circle cx="431.4" cy="224.8" r="1.05"/>
<circle cx="430.8" cy="226.0" r="1.05"/>
<circle cx="430.4" cy="228.2" r="1.05"/>
<circle cx="446.2" cy="231.9" r="1.05"/>
<circle cx="430.0" cy="219.4" r="1.05"/>
<circle cx="430.5" cy="224.0" r="1.05"/>
<circle cx="448.1" cy="209.7" r="1.05"/>
<circle cx="429.2" cy="203.9" r="1.05"/>
<circle cx="427.1" cy="206.6" r="1.05"/>
<circle cx="430.4" cy="239.6" r="1.05"/>
<circle cx="440.3" cy="207.6" r="1.05"/>
<circle cx="428.1" cy="229.5" r="1.05"/>
<circle cx="439.3" cy="239.0" r="1.05"/>
<circle cx="432.4" cy="220.7" r="1.05"/>
<circle cx="450.7" cy="240.5" r="1.05"/>
<circle cx="436.9" cy="242.5" r="1.05"/>
<circle cx="467.5" cy="234.0" r="1.05"/>
<circle cx="437.8" cy="247.5" r="1.05"/>
<circle cx="431.6" cy="230.9" r="1.05"/>
<circle cx="439.7" cy="218.1" r="1.05"/>
<circle cx="436.6" cy="230.0" r="1.05"/>
<circle cx="433.7" cy="220.8" r="1.05"/>
<circle cx="480.2" cy="212.7" r="1.05"/>
<circle cx="457.2" cy="212.9" r="1.05"/>
<circle cx="453.1" cy="247.0" r="1.05"/>
<circle cx="453.4" cy="219.9" r="1.05"/>
<circle cx="430.7" cy="224.8" r="1.05"/>
<circle cx="433.7" cy="218.8" r="1.05"/>
<circle cx="429.1" cy="226.4" r="1.05"/>
<circle cx="454.0" cy="222.8" r="1.05"/>
<circle cx="467.4" cy="221.2" r="1.05"/>
<circle cx="435.1" cy="213.6" r="1.05"/>
<circle cx="438.2" cy="211.7" r="1.05"/>
<circle cx="435.1" cy="218.0" r="1.05"/>
<circle cx="443.2" cy="227.9" r="1.05"/>
<circle cx="440.7" cy="244.8" r="1.05"/>
<circle cx="442.7" cy="235.1" r="1.05"/>
<circle cx="445.2" cy="242.4" r="1.05"/>
<circle cx="440.7" cy="229.7" r="1.05"/>
<circle cx="436.6" cy="224.3" r="1.05"/>
<circle cx="457.5" cy="212.6" r="1.05"/>
<circle cx="444.2" cy="225.2" r="1.05"/>
<circle cx="432.0" cy="204.8" r="1.05"/>
<circle cx="460.0" cy="222.3" r="1.05"/>
<circle cx="438.4" cy="240.6" r="1.05"/>
<circle cx="451.0" cy="228.3" r="1.05"/>
<circle cx="438.4" cy="235.9" r="1.05"/>
<circle cx="466.0" cy="221.6" r="1.05"/>
<circle cx="466.1" cy="212.1" r="1.05"/>
<circle cx="439.6" cy="220.6" r="1.05"/>
<circle cx="437.6" cy="221.4" r="1.05"/>
<circle cx="436.2" cy="236.7" r="1.05"/>
<circle cx="445.5" cy="244.0" r="1.05"/>
<circle cx="446.3" cy="218.2" r="1.05"/>
<circle cx="425.7" cy="221.8" r="1.05"/>
<circle cx="430.9" cy="223.8" r="1.05"/>
<circle cx="459.5" cy="221.9" r="1.05"/>
<circle cx="441.2" cy="213.4" r="1.05"/>
<circle cx="425.3" cy="226.1" r="1.05"/>
<circle cx="439.4" cy="228.7" r="1.05"/>
<circle cx="432.1" cy="228.9" r="1.05"/>
<circle cx="434.9" cy="213.8" r="1.05"/>
<circle cx="430.5" cy="224.2" r="1.05"/>
<circle cx="435.0" cy="208.7" r="1.05"/>
<circle cx="429.7" cy="233.9" r="1.05"/>
<circle cx="434.1" cy="215.6" r="1.05"/>
<circle cx="431.4" cy="222.6" r="1.05"/>
<circle cx="450.5" cy="221.0" r="1.05"/>
<circle cx="435.5" cy="219.7" r="1.05"/>
<circle cx="441.5" cy="215.2" r="1.05"/>
<circle cx="432.9" cy="208.5" r="1.05"/>
<circle cx="448.6" cy="241.7" r="1.05"/>
<circle cx="441.2" cy="227.7" r="1.05"/>
<circle cx="434.2" cy="227.8" r="1.05"/>
<circle cx="453.5" cy="245.2" r="1.05"/>
<circle cx="436.9" cy="224.3" r="1.05"/>
<circle cx="481.8" cy="230.5" r="1.05"/>
<circle cx="441.6" cy="225.5" r="1.05"/>
<circle cx="440.8" cy="236.6" r="1.05"/>
<circle cx="441.0" cy="230.1" r="1.05"/>
<circle cx="458.0" cy="228.3" r="1.05"/>
<circle cx="441.3" cy="222.9" r="1.05"/>
<circle cx="434.8" cy="228.0" r="1.05"/>
<circle cx="429.2" cy="236.4" r="1.05"/>
<circle cx="466.4" cy="205.6" r="1.05"/>
<circle cx="457.9" cy="224.1" r="1.05"/>
<circle cx="462.6" cy="221.3" r="1.05"/>
<circle cx="438.4" cy="222.5" r="1.05"/>
<circle cx="429.5" cy="206.5" r="1.05"/>
<circle cx="442.4" cy="232.3" r="1.05"/>
<circle cx="430.9" cy="217.3" r="1.05"/>
<circle cx="434.3" cy="223.2" r="1.05"/>
<circle cx="456.9" cy="220.5" r="1.05"/>
<circle cx="433.9" cy="209.4" r="1.05"/>
<circle cx="428.8" cy="221.1" r="1.05"/>
<circle cx="440.0" cy="207.8" r="1.05"/>
<circle cx="426.3" cy="216.4" r="1.05"/>
<circle cx="445.6" cy="222.3" r="1.05"/>
<circle cx="430.6" cy="225.3" r="1.05"/>
<circle cx="458.6" cy="225.8" r="1.05"/>
<circle cx="427.9" cy="224.0" r="1.05"/>
<circle cx="428.8" cy="245.6" r="1.05"/>
<circle cx="434.4" cy="229.4" r="1.05"/>
<circle cx="428.6" cy="213.7" r="1.05"/>
<circle cx="437.3" cy="219.5" r="1.05"/>
<circle cx="445.2" cy="219.1" r="1.05"/>
<circle cx="436.4" cy="223.6" r="1.05"/>
<circle cx="444.4" cy="219.6" r="1.05"/>
<circle cx="440.8" cy="217.2" r="1.05"/>
<circle cx="438.5" cy="241.0" r="1.05"/>
<circle cx="430.6" cy="225.7" r="1.05"/>
<circle cx="435.8" cy="222.1" r="1.05"/>
<circle cx="451.8" cy="222.9" r="1.05"/>
<circle cx="450.8" cy="223.3" r="1.05"/>
<circle cx="446.1" cy="238.5" r="1.05"/>
<circle cx="431.4" cy="229.9" r="1.05"/>
<circle cx="456.7" cy="236.0" r="1.05"/>
<circle cx="432.1" cy="195.7" r="1.05"/>
<circle cx="439.2" cy="228.4" r="1.05"/>
<circle cx="465.5" cy="235.4" r="1.05"/>
<circle cx="425.6" cy="244.1" r="1.05"/>
<circle cx="439.1" cy="225.6" r="1.05"/>
<circle cx="449.0" cy="209.0" r="1.05"/>
<circle cx="435.4" cy="230.9" r="1.05"/>
<circle cx="425.9" cy="219.6" r="1.05"/>
<circle cx="450.6" cy="208.3" r="1.05"/>
<circle cx="456.1" cy="219.5" r="1.05"/>
<circle cx="462.5" cy="235.4" r="1.05"/>
<circle cx="429.6" cy="236.8" r="1.05"/>
<circle cx="426.9" cy="232.2" r="1.05"/>
<circle cx="442.2" cy="215.4" r="1.05"/>
<circle cx="472.0" cy="249.3" r="1.05"/>
<circle cx="436.5" cy="214.2" r="1.05"/>
<circle cx="452.8" cy="224.6" r="1.05"/>
<circle cx="433.1" cy="211.6" r="1.05"/>
<circle cx="446.2" cy="237.9" r="1.05"/>
<circle cx="448.8" cy="229.6" r="1.05"/>
<circle cx="435.0" cy="233.8" r="1.05"/>
<circle cx="467.4" cy="226.2" r="1.05"/>
<circle cx="437.5" cy="224.7" r="1.05"/>
<circle cx="469.1" cy="227.0" r="1.05"/>
<circle cx="432.6" cy="207.4" r="1.05"/>
<circle cx="428.7" cy="234.8" r="1.05"/>
<circle cx="425.7" cy="234.0" r="1.05"/>
<circle cx="454.0" cy="221.6" r="1.05"/>
<circle cx="441.6" cy="225.3" r="1.05"/>
<circle cx="434.9" cy="228.2" r="1.05"/>
<circle cx="432.2" cy="240.3" r="1.05"/>
<circle cx="434.0" cy="229.5" r="1.05"/>
<circle cx="458.3" cy="225.8" r="1.05"/>
<circle cx="446.1" cy="220.6" r="1.05"/>
<circle cx="424.1" cy="211.1" r="1.05"/>
<circle cx="427.9" cy="219.7" r="1.05"/>
<circle cx="426.8" cy="226.1" r="1.05"/>
<circle cx="442.7" cy="223.0" r="1.05"/>
<circle cx="440.2" cy="226.1" r="1.05"/>
<circle cx="451.1" cy="232.5" r="1.05"/>
<circle cx="434.3" cy="229.6" r="1.05"/>
<circle cx="435.1" cy="228.0" r="1.05"/>
<circle cx="432.8" cy="231.7" r="1.05"/>
<circle cx="448.1" cy="227.2" r="1.05"/>
<circle cx="428.9" cy="225.1" r="1.05"/>
<circle cx="433.2" cy="229.9" r="1.05"/>
<circle cx="425.2" cy="209.0" r="1.05"/>
<circle cx="448.9" cy="237.3" r="1.05"/>
<circle cx="427.7" cy="213.2" r="1.05"/>
<circle cx="433.6" cy="233.4" r="1.05"/>
<circle cx="438.1" cy="225.6" r="1.05"/>
<circle cx="434.6" cy="236.0" r="1.05"/>
<circle cx="424.0" cy="225.8" r="1.05"/>
<circle cx="445.2" cy="216.5" r="1.05"/>
<circle cx="448.7" cy="235.7" r="1.05"/>
<circle cx="440.1" cy="227.2" r="1.05"/>
<circle cx="434.5" cy="226.6" r="1.05"/>
<circle cx="437.8" cy="226.2" r="1.05"/>
<circle cx="476.7" cy="235.0" r="1.05"/>
<circle cx="431.3" cy="233.2" r="1.05"/>
<circle cx="430.2" cy="227.7" r="1.05"/>
<circle cx="450.1" cy="210.7" r="1.05"/>
<circle cx="468.2" cy="221.6" r="1.05"/>
<circle cx="454.0" cy="226.5" r="1.05"/>
<circle cx="439.0" cy="242.5" r="1.05"/>
<circle cx="468.2" cy="229.1" r="1.05"/>
<circle cx="433.6" cy="224.6" r="1.05"/>
<circle cx="446.4" cy="236.9" r="1.05"/>
<circle cx="425.9" cy="224.4" r="1.05"/>
<circle cx="450.7" cy="225.2" r="1.05"/>
<circle cx="438.6" cy="227.0" r="1.05"/>
<circle cx="458.6" cy="211.3" r="1.05"/>
<circle cx="423.3" cy="234.6" r="1.05"/>
<circle cx="443.7" cy="229.6" r="1.05"/>
<circle cx="438.3" cy="222.8" r="1.05"/>
<circle cx="436.7" cy="214.7" r="1.05"/>
<circle cx="441.9" cy="227.5" r="1.05"/>
<circle cx="435.7" cy="238.8" r="1.05"/>
<circle cx="449.3" cy="219.4" r="1.05"/>
<circle cx="428.7" cy="215.4" r="1.05"/>
<circle cx="444.9" cy="229.5" r="1.05"/>
<circle cx="455.6" cy="210.4" r="1.05"/>
<circle cx="430.1" cy="204.4" r="1.05"/>
<circle cx="472.7" cy="221.3" r="1.05"/>
<circle cx="438.4" cy="219.0" r="1.05"/>
<circle cx="432.5" cy="222.9" r="1.05"/>
<circle cx="446.1" cy="220.3" r="1.05"/>
<circle cx="445.5" cy="228.7" r="1.05"/>
<circle cx="443.0" cy="223.4" r="1.05"/>
<circle cx="426.2" cy="219.9" r="1.05"/>
<circle cx="450.2" cy="221.2" r="1.05"/>
<circle cx="449.9" cy="231.5" r="1.05"/>
<circle cx="431.6" cy="234.7" r="1.05"/>
<circle cx="467.7" cy="234.1" r="1.05"/>
<circle cx="437.9" cy="232.2" r="1.05"/>
<circle cx="443.4" cy="194.2" r="1.05"/>
<circle cx="427.2" cy="216.0" r="1.05"/>
<circle cx="445.2" cy="222.6" r="1.05"/>
<circle cx="429.2" cy="227.5" r="1.05"/>
<circle cx="427.1" cy="210.2" r="1.05"/>
<circle cx="440.6" cy="239.1" r="1.05"/>
<circle cx="459.2" cy="228.4" r="1.05"/>
<circle cx="432.7" cy="219.7" r="1.05"/>
<circle cx="430.0" cy="227.1" r="1.05"/>
<circle cx="456.2" cy="222.3" r="1.05"/>
<circle cx="453.0" cy="218.3" r="1.05"/>
<circle cx="438.8" cy="230.4" r="1.05"/>
<circle cx="443.0" cy="221.3" r="1.05"/>
<circle cx="430.2" cy="212.2" r="1.05"/>
<circle cx="428.6" cy="219.5" r="1.05"/>
<circle cx="428.0" cy="224.5" r="1.05"/>
<circle cx="435.7" cy="215.3" r="1.05"/>
<circle cx="449.6" cy="237.6" r="1.05"/>
<circle cx="435.8" cy="215.2" r="1.05"/>
<circle cx="439.4" cy="242.3" r="1.05"/>
<circle cx="448.2" cy="234.1" r="1.05"/>
<circle cx="424.7" cy="216.6" r="1.05"/>
<circle cx="452.2" cy="226.8" r="1.05"/>
<circle cx="443.1" cy="236.8" r="1.05"/>
<circle cx="430.0" cy="223.8" r="1.05"/>
<circle cx="436.6" cy="214.3" r="1.05"/>
<circle cx="427.3" cy="226.7" r="1.05"/>
<circle cx="446.4" cy="244.5" r="1.05"/>
<circle cx="439.2" cy="211.5" r="1.05"/>
<circle cx="436.8" cy="230.9" r="1.05"/>
<circle cx="428.6" cy="225.7" r="1.05"/>
<circle cx="444.1" cy="224.5" r="1.05"/>
<circle cx="445.1" cy="221.9" r="1.05"/>
<circle cx="447.1" cy="222.6" r="1.05"/>
<circle cx="444.8" cy="245.8" r="1.05"/>
<circle cx="426.2" cy="243.3" r="1.05"/>
<circle cx="425.0" cy="261.7" r="1.05"/>
<circle cx="434.6" cy="246.5" r="1.05"/>
<circle cx="436.3" cy="245.8" r="1.05"/>
<circle cx="432.7" cy="249.5" r="1.05"/>
<circle cx="436.2" cy="243.2" r="1.05"/>
<circle cx="427.8" cy="248.8" r="1.05"/>
<circle cx="437.5" cy="258.2" r="1.05"/>
<circle cx="428.6" cy="258.2" r="1.05"/>
<circle cx="424.4" cy="251.1" r="1.05"/>
<circle cx="440.5" cy="274.3" r="1.05"/>
<circle cx="451.1" cy="256.1" r="1.05"/>
<circle cx="435.3" cy="248.6" r="1.05"/>
<circle cx="437.1" cy="288.1" r="1.05"/>
<circle cx="430.0" cy="249.8" r="1.05"/>
<circle cx="445.1" cy="251.7" r="1.05"/>
<circle cx="448.5" cy="251.5" r="1.05"/>
<circle cx="431.2" cy="262.0" r="1.05"/>
<circle cx="439.6" cy="276.5" r="1.05"/>
<circle cx="429.7" cy="269.5" r="1.05"/>
<circle cx="448.7" cy="245.7" r="1.05"/>
<circle cx="445.2" cy="268.3" r="1.05"/>
<circle cx="423.6" cy="267.8" r="1.05"/>
<circle cx="429.7" cy="262.3" r="1.05"/>
<circle cx="426.4" cy="258.7" r="1.05"/>
<circle cx="433.6" cy="245.9" r="1.05"/>
<circle cx="441.6" cy="261.7" r="1.05"/>
<circle cx="435.2" cy="244.6" r="1.05"/>
<circle cx="434.0" cy="265.9" r="1.05"/>
<circle cx="422.4" cy="243.0" r="1.05"/>
<circle cx="435.9" cy="263.6" r="1.05"/>
<circle cx="425.8" cy="247.1" r="1.05"/>
<circle cx="442.5" cy="246.0" r="1.05"/>
<circle cx="423.3" cy="272.4" r="1.05"/>
<circle cx="425.4" cy="258.0" r="1.05"/>
<circle cx="427.0" cy="261.4" r="1.05"/>
<circle cx="434.2" cy="246.7" r="1.05"/>
<circle cx="429.1" cy="247.1" r="1.05"/>
<circle cx="436.8" cy="243.6" r="1.05"/>
<circle cx="431.1" cy="245.4" r="1.05"/>
<circle cx="426.5" cy="242.0" r="1.05"/>
<circle cx="468.6" cy="255.9" r="1.05"/>
<circle cx="447.8" cy="251.8" r="1.05"/>
<circle cx="423.3" cy="251.3" r="1.05"/>
<circle cx="426.4" cy="243.1" r="1.05"/>
<circle cx="429.6" cy="263.2" r="1.05"/>
<circle cx="440.5" cy="254.5" r="1.05"/>
<circle cx="435.1" cy="254.3" r="1.05"/>
<circle cx="446.2" cy="242.2" r="1.05"/>
<circle cx="455.4" cy="246.3" r="1.05"/>
<circle cx="427.3" cy="244.6" r="1.05"/>
<circle cx="437.4" cy="253.6" r="1.05"/>
<circle cx="435.0" cy="243.2" r="1.05"/>
<circle cx="427.1" cy="267.2" r="1.05"/>
<circle cx="429.9" cy="242.3" r="1.05"/>
<circle cx="432.1" cy="272.6" r="1.05"/>
<circle cx="425.8" cy="259.2" r="1.05"/>
<circle cx="462.7" cy="203.6" r="1.05"/>
<circle cx="430.7" cy="188.2" r="1.05"/>
<circle cx="429.6" cy="188.6" r="1.05"/>
<circle cx="460.4" cy="192.9" r="1.05"/>
<circle cx="428.9" cy="202.3" r="1.05"/>
<circle cx="457.2" cy="195.9" r="1.05"/>
<circle cx="431.0" cy="190.9" r="1.05"/>
<circle cx="457.0" cy="202.2" r="1.05"/>
<circle cx="439.5" cy="187.9" r="1.05"/>
<circle cx="448.5" cy="200.7" r="1.05"/>
<circle cx="448.1" cy="201.8" r="1.05"/>
<circle cx="439.0" cy="185.5" r="1.05"/>
<circle cx="444.3" cy="197.2" r="1.05"/>
<circle cx="449.9" cy="197.8" r="1.05"/>
<circle cx="427.9" cy="207.3" r="1.05"/>
<circle cx="461.4" cy="190.5" r="1.05"/>
<circle cx="495.8" cy="222.3" r="1.05"/>
<circle cx="527.7" cy="213.4" r="1.05"/>
<circle cx="473.7" cy="211.2" r="1.05"/>
<circle cx="525.1" cy="234.2" r="1.05"/>
<circle cx="489.5" cy="220.9" r="1.05"/>
<circle cx="488.0" cy="212.1" r="1.05"/>
<circle cx="531.7" cy="252.0" r="1.05"/>
<circle cx="491.2" cy="230.6" r="1.05"/>
<circle cx="481.6" cy="225.7" r="1.05"/>
<circle cx="478.9" cy="235.6" r="1.05"/>
<circle cx="511.6" cy="221.3" r="1.05"/>
<circle cx="507.6" cy="244.7" r="1.05"/>
<circle cx="481.0" cy="213.5" r="1.05"/>
<circle cx="498.2" cy="215.8" r="1.05"/>
<circle cx="484.2" cy="227.4" r="1.05"/>
</g>
<polygon points="422.10,231.09 424.93,231.00 427.77,230.90 430.60,230.80 433.43,230.68 436.27,230.54 439.10,230.36 441.93,230.15 444.77,229.89 447.60,229.58 450.43,229.20 453.27,228.78 456.10,228.33 458.93,227.84 461.77,227.33 464.60,226.81 467.43,226.28 470.27,225.74 473.10,225.19 475.93,224.64 478.77,224.08 481.60,223.53 484.43,222.97 487.27,222.41 490.10,221.84 492.93,221.28 495.77,220.71 498.60,220.14 501.43,219.58 504.27,219.01 507.10,218.44 509.93,217.87 512.77,217.30 515.60,216.73 518.43,216.16 521.27,215.59 524.10,215.02 526.93,214.45 529.77,213.87 532.60,213.30 532.60,229.50 529.77,229.55 526.93,229.60 524.10,229.66 521.27,229.71 518.43,229.77 515.60,229.82 512.77,229.88 509.93,229.93 507.10,229.99 504.27,230.05 501.43,230.11 498.60,230.16 495.77,230.22 492.93,230.28 490.10,230.34 487.27,230.41 484.43,230.47 481.60,230.53 478.77,230.60 475.93,230.67 473.10,230.75 470.27,230.83 467.43,230.91 464.60,231.00 461.77,231.11 458.93,231.23 456.10,231.37 453.27,231.53 450.43,231.74 447.60,231.99 444.77,232.30 441.93,232.67 439.10,233.08 436.27,233.54 433.43,234.02 430.60,234.52 427.77,235.04 424.93,235.58 422.10,236.11" fill="#999" fill-opacity="0.43"/>
<line x1="422.1" y1="233.6" x2="532.6" y2="221.4" stroke="#4068e0" stroke-width="1.6"/>
<rect x="417.00" y="178.70" width="120.70" height="114.60" fill="none" stroke="#8f8f8f" stroke-width="0.8"/>
<line x1="417.00" y1="178.70" x2="537.70" y2="178.70" stroke="#777" stroke-width="1.1"/>
<text x="508.00" y="187.30" font-size="7.2" fill="#e8303c" stroke="#e8303c" stroke-width="0.1">r = 0.143</text>
<text x="508.00" y="194.90" font-size="7.2" fill="#e8303c" stroke="#e8303c" stroke-width="0.1"><tspan font-style="italic">P</tspan>&#160;&lt;&#160;0.01</text>
<line x1="422.00" y1="293.30" x2="422.00" y2="294.90" stroke="#555" stroke-width="0.7"/>
<text x="422.00" y="301.60" font-size="7.0" fill="#555" text-anchor="middle" font-weight="normal" >0.00</text>
<line x1="453.75" y1="293.30" x2="453.75" y2="294.90" stroke="#555" stroke-width="0.7"/>
<text x="453.75" y="301.60" font-size="7.0" fill="#555" text-anchor="middle" font-weight="normal" >0.05</text>
<line x1="485.50" y1="293.30" x2="485.50" y2="294.90" stroke="#555" stroke-width="0.7"/>
<text x="485.50" y="301.60" font-size="7.0" fill="#555" text-anchor="middle" font-weight="normal" >0.10</text>
<line x1="517.25" y1="293.30" x2="517.25" y2="294.90" stroke="#555" stroke-width="0.7"/>
<text x="517.25" y="301.60" font-size="7.0" fill="#555" text-anchor="middle" font-weight="normal" >0.15</text>
<text x="483.00" y="311.60" font-size="8.8" fill="#222" text-anchor="middle" font-weight="normal" stroke="#222" stroke-width="0.15">Infiltration Level</text>
<rect x="28.6" y="343.50" width="11.0" height="115.30" fill="#d9d9d9" stroke="#a0a0a0" stroke-width="0.7"/>
<text transform="translate(36.3,401.15) rotate(-90)" font-size="6.4" fill="#1a1a1a" text-anchor="middle">KIRC</text>
<rect x="40.80" y="332.00" width="117.20" height="11.50" fill="#d9d9d9" stroke="#8f8f8f" stroke-width="0.8"/>
<text x="100.10" y="340.20" font-size="7.1" fill="#111" stroke="#111" stroke-width="0.08" text-anchor="middle">Dendritic cell</text>
<rect x="40.80" y="343.50" width="117.20" height="115.30" fill="#fff"/>
<g stroke="#efefef" stroke-width="0.8">
<line x1="44.50" y1="343.50" x2="44.50" y2="458.80"/>
<line x1="57.29" y1="343.50" x2="57.29" y2="458.80" stroke="#f6f6f6"/>
<line x1="70.08" y1="343.50" x2="70.08" y2="458.80"/>
<line x1="82.86" y1="343.50" x2="82.86" y2="458.80" stroke="#f6f6f6"/>
<line x1="95.65" y1="343.50" x2="95.65" y2="458.80"/>
<line x1="108.44" y1="343.50" x2="108.44" y2="458.80" stroke="#f6f6f6"/>
<line x1="121.22" y1="343.50" x2="121.22" y2="458.80"/>
<line x1="134.01" y1="343.50" x2="134.01" y2="458.80" stroke="#f6f6f6"/>
<line x1="146.80" y1="343.50" x2="146.80" y2="458.80"/>
<line x1="40.80" y1="426.70" x2="158.00" y2="426.70"/>
<line x1="40.80" y1="395.00" x2="158.00" y2="395.00"/>
<line x1="40.80" y1="363.30" x2="158.00" y2="363.30"/>
<line x1="40.80" y1="442.55" x2="158.00" y2="442.55" stroke="#f6f6f6"/>
<line x1="40.80" y1="410.85" x2="158.00" y2="410.85" stroke="#f6f6f6"/>
<line x1="40.80" y1="379.15" x2="158.00" y2="379.15" stroke="#f6f6f6"/>
<line x1="40.80" y1="347.45" x2="158.00" y2="347.45" stroke="#f6f6f6"/>
</g>
<g fill="#4d4d4d" fill-opacity="0.72">
<circle cx="56.9" cy="393.4" r="1.05"/>
<circle cx="52.2" cy="386.3" r="1.05"/>
<circle cx="64.8" cy="392.1" r="1.05"/>
<circle cx="73.0" cy="380.4" r="1.05"/>
<circle cx="90.1" cy="386.9" r="1.05"/>
<circle cx="64.2" cy="387.3" r="1.05"/>
<circle cx="60.0" cy="376.1" r="1.05"/>
<circle cx="58.9" cy="375.1" r="1.05"/>
<circle cx="54.6" cy="393.6" r="1.05"/>
<circle cx="52.4" cy="391.0" r="1.05"/>
<circle cx="82.0" cy="381.5" r="1.05"/>
<circle cx="60.7" cy="388.8" r="1.05"/>
<circle cx="75.5" cy="395.6" r="1.05"/>
<circle cx="67.8" cy="405.9" r="1.05"/>
<circle cx="69.0" cy="381.9" r="1.05"/>
<circle cx="73.5" cy="395.2" r="1.05"/>
<circle cx="63.4" cy="408.4" r="1.05"/>
<circle cx="57.4" cy="390.3" r="1.05"/>
<circle cx="58.9" cy="402.7" r="1.05"/>
<circle cx="70.2" cy="366.9" r="1.05"/>
<circle cx="75.6" cy="402.5" r="1.05"/>
<circle cx="67.8" cy="389.6" r="1.05"/>
<circle cx="52.4" cy="373.2" r="1.05"/>
<circle cx="71.2" cy="396.6" r="1.05"/>
<circle cx="57.5" cy="399.0" r="1.05"/>
<circle cx="59.7" cy="400.4" r="1.05"/>
<circle cx="56.0" cy="400.3" r="1.05"/>
<circle cx="73.6" cy="389.5" r="1.05"/>
<circle cx="62.9" cy="383.1" r="1.05"/>
<circle cx="77.6" cy="385.7" r="1.05"/>
<circle cx="84.4" cy="389.4" r="1.05"/>
<circle cx="80.0" cy="393.3" r="1.05"/>
<circle cx="53.4" cy="385.5" r="1.05"/>
<circle cx="65.4" cy="390.2" r="1.05"/>
<circle cx="73.3" cy="397.5" r="1.05"/>
<circle cx="67.0" cy="392.6" r="1.05"/>
<circle cx="60.2" cy="410.0" r="1.05"/>
<circle cx="55.5" cy="408.8" r="1.05"/>
<circle cx="70.3" cy="379.6" r="1.05"/>
<circle cx="53.4" cy="384.7" r="1.05"/>
<circle cx="52.3" cy="378.2" r="1.05"/>
<circle cx="56.4" cy="379.5" r="1.05"/>
<circle cx="63.5" cy="394.6" r="1.05"/>
<circle cx="78.1" cy="381.0" r="1.05"/>
<circle cx="60.8" cy="380.5" r="1.05"/>
<circle cx="73.1" cy="387.4" r="1.05"/>
<circle cx="56.0" cy="396.8" r="1.05"/>
<circle cx="59.4" cy="386.6" r="1.05"/>
<circle cx="60.0" cy="386.6" r="1.05"/>
<circle cx="57.7" cy="397.9" r="1.05"/>
<circle cx="75.7" cy="393.9" r="1.05"/>
<circle cx="53.1" cy="393.8" r="1.05"/>
<circle cx="52.6" cy="398.1" r="1.05"/>
<circle cx="75.4" cy="380.8" r="1.05"/>
<circle cx="65.8" cy="391.6" r="1.05"/>
<circle cx="70.0" cy="384.1" r="1.05"/>
<circle cx="57.1" cy="398.8" r="1.05"/>
<circle cx="69.7" cy="396.9" r="1.05"/>
<circle cx="51.8" cy="380.5" r="1.05"/>
<circle cx="62.0" cy="401.6" r="1.05"/>
<circle cx="66.2" cy="379.4" r="1.05"/>
<circle cx="50.8" cy="400.1" r="1.05"/>
<circle cx="57.4" cy="391.6" r="1.05"/>
<circle cx="53.4" cy="382.0" r="1.05"/>
<circle cx="56.4" cy="379.8" r="1.05"/>
<circle cx="60.2" cy="387.0" r="1.05"/>
<circle cx="59.3" cy="389.5" r="1.05"/>
<circle cx="50.6" cy="383.4" r="1.05"/>
<circle cx="69.4" cy="394.7" r="1.05"/>
<circle cx="53.8" cy="377.3" r="1.05"/>
<circle cx="65.5" cy="389.7" r="1.05"/>
<circle cx="57.2" cy="389.7" r="1.05"/>
<circle cx="52.1" cy="373.2" r="1.05"/>
<circle cx="71.4" cy="392.5" r="1.05"/>
<circle cx="61.0" cy="378.6" r="1.05"/>
<circle cx="66.6" cy="367.6" r="1.05"/>
<circle cx="66.9" cy="384.3" r="1.05"/>
<circle cx="65.6" cy="387.7" r="1.05"/>
<circle cx="57.0" cy="397.7" r="1.05"/>
<circle cx="67.2" cy="385.4" r="1.05"/>
<circle cx="72.2" cy="402.8" r="1.05"/>
<circle cx="57.5" cy="402.5" r="1.05"/>
<circle cx="55.0" cy="399.4" r="1.05"/>
<circle cx="58.0" cy="401.5" r="1.05"/>
<circle cx="74.0" cy="392.8" r="1.05"/>
<circle cx="62.0" cy="384.8" r="1.05"/>
<circle cx="78.8" cy="395.5" r="1.05"/>
<circle cx="59.4" cy="398.3" r="1.05"/>
<circle cx="63.0" cy="391.8" r="1.05"/>
<circle cx="79.5" cy="387.6" r="1.05"/>
<circle cx="82.3" cy="375.8" r="1.05"/>
<circle cx="70.1" cy="395.7" r="1.05"/>
<circle cx="54.8" cy="392.8" r="1.05"/>
<circle cx="63.1" cy="378.2" r="1.05"/>
<circle cx="62.4" cy="390.6" r="1.05"/>
<circle cx="55.2" cy="396.1" r="1.05"/>
<circle cx="76.3" cy="388.8" r="1.05"/>
<circle cx="66.7" cy="396.7" r="1.05"/>
<circle cx="56.3" cy="396.4" r="1.05"/>
<circle cx="54.6" cy="376.6" r="1.05"/>
<circle cx="64.9" cy="387.1" r="1.05"/>
<circle cx="51.9" cy="394.0" r="1.05"/>
<circle cx="72.7" cy="397.9" r="1.05"/>
<circle cx="59.1" cy="402.2" r="1.05"/>
<circle cx="54.0" cy="372.7" r="1.05"/>
<circle cx="68.2" cy="389.1" r="1.05"/>
<circle cx="56.3" cy="396.1" r="1.05"/>
<circle cx="61.7" cy="400.6" r="1.05"/>
<circle cx="64.4" cy="404.7" r="1.05"/>
<circle cx="55.8" cy="381.4" r="1.05"/>
<circle cx="66.7" cy="386.4" r="1.05"/>
<circle cx="77.2" cy="380.4" r="1.05"/>
<circle cx="73.9" cy="397.0" r="1.05"/>
<circle cx="62.3" cy="378.0" r="1.05"/>
<circle cx="70.8" cy="400.2" r="1.05"/>
<circle cx="55.0" cy="398.0" r="1.05"/>
<circle cx="61.4" cy="394.1" r="1.05"/>
<circle cx="74.6" cy="370.4" r="1.05"/>
<circle cx="55.3" cy="383.7" r="1.05"/>
<circle cx="64.6" cy="396.4" r="1.05"/>
<circle cx="71.2" cy="377.1" r="1.05"/>
<circle cx="64.0" cy="387.6" r="1.05"/>
<circle cx="83.6" cy="388.8" r="1.05"/>
<circle cx="59.7" cy="397.6" r="1.05"/>
<circle cx="58.6" cy="392.2" r="1.05"/>
<circle cx="53.3" cy="392.2" r="1.05"/>
<circle cx="65.1" cy="385.8" r="1.05"/>
<circle cx="64.1" cy="389.8" r="1.05"/>
<circle cx="56.7" cy="388.5" r="1.05"/>
<circle cx="66.6" cy="396.2" r="1.05"/>
<circle cx="81.0" cy="388.1" r="1.05"/>
<circle cx="58.8" cy="398.9" r="1.05"/>
<circle cx="77.6" cy="374.6" r="1.05"/>
<circle cx="70.2" cy="400.4" r="1.05"/>
<circle cx="61.4" cy="388.2" r="1.05"/>
<circle cx="50.2" cy="399.8" r="1.05"/>
<circle cx="52.0" cy="390.5" r="1.05"/>
<circle cx="61.7" cy="397.3" r="1.05"/>
<circle cx="56.8" cy="403.0" r="1.05"/>
<circle cx="65.9" cy="384.8" r="1.05"/>
<circle cx="58.6" cy="390.4" r="1.05"/>
<circle cx="61.1" cy="388.2" r="1.05"/>
<circle cx="57.2" cy="391.6" r="1.05"/>
<circle cx="58.3" cy="375.3" r="1.05"/>
<circle cx="66.7" cy="388.2" r="1.05"/>
<circle cx="51.5" cy="387.5" r="1.05"/>
<circle cx="75.3" cy="382.7" r="1.05"/>
<circle cx="68.7" cy="388.0" r="1.05"/>
<circle cx="51.2" cy="376.0" r="1.05"/>
<circle cx="65.6" cy="402.1" r="1.05"/>
<circle cx="59.7" cy="393.7" r="1.05"/>
<circle cx="58.0" cy="406.5" r="1.05"/>
<circle cx="61.0" cy="381.9" r="1.05"/>
<circle cx="61.4" cy="379.3" r="1.05"/>
<circle cx="56.4" cy="392.2" r="1.05"/>
<circle cx="58.8" cy="374.9" r="1.05"/>
<circle cx="74.0" cy="391.7" r="1.05"/>
<circle cx="52.6" cy="383.5" r="1.05"/>
<circle cx="71.9" cy="386.7" r="1.05"/>
<circle cx="56.6" cy="392.0" r="1.05"/>
<circle cx="67.4" cy="390.1" r="1.05"/>
<circle cx="53.4" cy="406.3" r="1.05"/>
<circle cx="56.5" cy="395.3" r="1.05"/>
<circle cx="60.6" cy="378.2" r="1.05"/>
<circle cx="50.3" cy="398.4" r="1.05"/>
<circle cx="53.6" cy="377.8" r="1.05"/>
<circle cx="80.1" cy="390.5" r="1.05"/>
<circle cx="70.7" cy="378.6" r="1.05"/>
<circle cx="72.4" cy="382.3" r="1.05"/>
<circle cx="68.6" cy="401.4" r="1.05"/>
<circle cx="58.1" cy="384.7" r="1.05"/>
<circle cx="83.2" cy="384.0" r="1.05"/>
<circle cx="90.8" cy="384.7" r="1.05"/>
<circle cx="54.5" cy="386.9" r="1.05"/>
<circle cx="62.5" cy="402.5" r="1.05"/>
<circle cx="61.5" cy="379.2" r="1.05"/>
<circle cx="62.1" cy="378.7" r="1.05"/>
<circle cx="72.2" cy="394.8" r="1.05"/>
<circle cx="62.7" cy="375.5" r="1.05"/>
<circle cx="63.8" cy="386.4" r="1.05"/>
<circle cx="62.8" cy="399.7" r="1.05"/>
<circle cx="53.8" cy="389.7" r="1.05"/>
<circle cx="82.9" cy="385.4" r="1.05"/>
<circle cx="53.2" cy="383.3" r="1.05"/>
<circle cx="60.0" cy="381.5" r="1.05"/>
<circle cx="60.9" cy="384.4" r="1.05"/>
<circle cx="66.3" cy="390.8" r="1.05"/>
<circle cx="68.7" cy="400.7" r="1.05"/>
<circle cx="50.8" cy="398.2" r="1.05"/>
<circle cx="64.4" cy="384.6" r="1.05"/>
<circle cx="55.3" cy="383.1" r="1.05"/>
<circle cx="67.2" cy="395.8" r="1.05"/>
<circle cx="50.9" cy="373.5" r="1.05"/>
<circle cx="65.0" cy="385.7" r="1.05"/>
<circle cx="49.7" cy="386.7" r="1.05"/>
<circle cx="53.7" cy="379.7" r="1.05"/>
<circle cx="61.9" cy="380.7" r="1.05"/>
<circle cx="69.0" cy="392.7" r="1.05"/>
<circle cx="71.0" cy="374.9" r="1.05"/>
<circle cx="66.4" cy="381.4" r="1.05"/>
<circle cx="57.9" cy="383.8" r="1.05"/>
<circle cx="65.2" cy="390.3" r="1.05"/>
<circle cx="62.1" cy="377.3" r="1.05"/>
<circle cx="58.4" cy="399.2" r="1.05"/>
<circle cx="73.8" cy="386.8" r="1.05"/>
<circle cx="63.9" cy="387.2" r="1.05"/>
<circle cx="63.7" cy="386.3" r="1.05"/>
<circle cx="70.8" cy="383.5" r="1.05"/>
<circle cx="58.6" cy="380.8" r="1.05"/>
<circle cx="62.0" cy="399.7" r="1.05"/>
<circle cx="54.2" cy="391.3" r="1.05"/>
<circle cx="56.0" cy="388.5" r="1.05"/>
<circle cx="53.2" cy="398.3" r="1.05"/>
<circle cx="54.5" cy="383.1" r="1.05"/>
<circle cx="55.3" cy="395.0" r="1.05"/>
<circle cx="61.4" cy="389.6" r="1.05"/>
<circle cx="67.6" cy="381.5" r="1.05"/>
<circle cx="58.1" cy="396.2" r="1.05"/>
<circle cx="63.5" cy="376.1" r="1.05"/>
<circle cx="90.0" cy="395.2" r="1.05"/>
<circle cx="57.5" cy="381.6" r="1.05"/>
<circle cx="60.2" cy="393.0" r="1.05"/>
<circle cx="122.5" cy="401.6" r="1.05"/>
<circle cx="59.2" cy="394.4" r="1.05"/>
<circle cx="81.9" cy="384.0" r="1.05"/>
<circle cx="64.6" cy="389.1" r="1.05"/>
<circle cx="52.8" cy="386.1" r="1.05"/>
<circle cx="65.9" cy="379.0" r="1.05"/>
<circle cx="56.0" cy="379.5" r="1.05"/>
<circle cx="61.7" cy="389.7" r="1.05"/>
<circle cx="69.5" cy="394.1" r="1.05"/>
<circle cx="64.2" cy="373.7" r="1.05"/>
<circle cx="55.2" cy="388.7" r="1.05"/>
<circle cx="52.4" cy="393.8" r="1.05"/>
<circle cx="57.6" cy="390.3" r="1.05"/>
<circle cx="65.2" cy="380.4" r="1.05"/>
<circle cx="57.5" cy="398.5" r="1.05"/>
<circle cx="57.5" cy="378.5" r="1.05"/>
<circle cx="99.8" cy="395.0" r="1.05"/>
<circle cx="62.6" cy="403.4" r="1.05"/>
<circle cx="72.4" cy="371.2" r="1.05"/>
<circle cx="49.1" cy="391.5" r="1.05"/>
<circle cx="54.9" cy="392.0" r="1.05"/>
<circle cx="53.4" cy="391.2" r="1.05"/>
<circle cx="58.7" cy="382.4" r="1.05"/>
<circle cx="71.1" cy="386.5" r="1.05"/>
<circle cx="67.4" cy="376.9" r="1.05"/>
<circle cx="63.7" cy="390.4" r="1.05"/>
<circle cx="68.6" cy="394.0" r="1.05"/>
<circle cx="61.5" cy="383.3" r="1.05"/>
<circle cx="63.4" cy="381.0" r="1.05"/>
<circle cx="82.5" cy="385.0" r="1.05"/>
<circle cx="70.1" cy="389.1" r="1.05"/>
<circle cx="75.6" cy="389.7" r="1.05"/>
<circle cx="87.5" cy="388.3" r="1.05"/>
<circle cx="54.1" cy="389.8" r="1.05"/>
<circle cx="90.9" cy="377.6" r="1.05"/>
<circle cx="54.1" cy="365.0" r="1.05"/>
<circle cx="77.1" cy="394.6" r="1.05"/>
<circle cx="61.1" cy="401.7" r="1.05"/>
<circle cx="89.3" cy="376.6" r="1.05"/>
<circle cx="76.8" cy="383.3" r="1.05"/>
<circle cx="56.6" cy="391.8" r="1.05"/>
<circle cx="68.6" cy="397.6" r="1.05"/>
<circle cx="68.8" cy="394.9" r="1.05"/>
<circle cx="57.8" cy="400.4" r="1.05"/>
<circle cx="65.0" cy="388.7" r="1.05"/>
<circle cx="58.0" cy="392.8" r="1.05"/>
<circle cx="60.4" cy="392.8" r="1.05"/>
<circle cx="62.2" cy="385.3" r="1.05"/>
<circle cx="63.2" cy="399.7" r="1.05"/>
<circle cx="55.1" cy="394.6" r="1.05"/>
<circle cx="85.6" cy="397.8" r="1.05"/>
<circle cx="53.3" cy="385.7" r="1.05"/>
<circle cx="64.5" cy="398.2" r="1.05"/>
<circle cx="57.9" cy="379.8" r="1.05"/>
<circle cx="77.7" cy="392.6" r="1.05"/>
<circle cx="59.2" cy="366.1" r="1.05"/>
<circle cx="59.2" cy="380.2" r="1.05"/>
<circle cx="84.5" cy="395.6" r="1.05"/>
<circle cx="58.9" cy="385.1" r="1.05"/>
<circle cx="62.6" cy="390.6" r="1.05"/>
<circle cx="56.9" cy="374.8" r="1.05"/>
<circle cx="67.8" cy="402.8" r="1.05"/>
<circle cx="64.8" cy="394.4" r="1.05"/>
<circle cx="55.1" cy="388.9" r="1.05"/>
<circle cx="65.5" cy="392.8" r="1.05"/>
<circle cx="58.6" cy="392.0" r="1.05"/>
<circle cx="66.8" cy="401.6" r="1.05"/>
<circle cx="54.7" cy="391.0" r="1.05"/>
<circle cx="71.7" cy="376.1" r="1.05"/>
<circle cx="73.5" cy="386.9" r="1.05"/>
<circle cx="56.2" cy="400.4" r="1.05"/>
<circle cx="62.2" cy="394.1" r="1.05"/>
<circle cx="69.0" cy="385.4" r="1.05"/>
<circle cx="53.5" cy="394.5" r="1.05"/>
<circle cx="63.6" cy="390.1" r="1.05"/>
<circle cx="65.6" cy="394.5" r="1.05"/>
<circle cx="54.2" cy="375.1" r="1.05"/>
<circle cx="56.5" cy="381.2" r="1.05"/>
<circle cx="77.0" cy="395.0" r="1.05"/>
<circle cx="66.3" cy="387.1" r="1.05"/>
<circle cx="60.2" cy="392.2" r="1.05"/>
<circle cx="55.1" cy="406.3" r="1.05"/>
<circle cx="68.9" cy="386.4" r="1.05"/>
<circle cx="58.1" cy="391.2" r="1.05"/>
<circle cx="91.6" cy="384.2" r="1.05"/>
<circle cx="65.9" cy="383.6" r="1.05"/>
<circle cx="74.3" cy="388.4" r="1.05"/>
<circle cx="64.7" cy="376.3" r="1.05"/>
<circle cx="80.5" cy="370.6" r="1.05"/>
<circle cx="66.2" cy="401.1" r="1.05"/>
<circle cx="55.9" cy="388.2" r="1.05"/>
<circle cx="65.1" cy="399.0" r="1.05"/>
<circle cx="60.2" cy="390.2" r="1.05"/>
<circle cx="64.6" cy="390.4" r="1.05"/>
<circle cx="60.9" cy="395.0" r="1.05"/>
<circle cx="62.5" cy="395.4" r="1.05"/>
<circle cx="58.3" cy="378.5" r="1.05"/>
<circle cx="59.7" cy="399.7" r="1.05"/>
<circle cx="64.9" cy="380.6" r="1.05"/>
<circle cx="60.7" cy="390.9" r="1.05"/>
<circle cx="73.8" cy="411.6" r="1.05"/>
<circle cx="71.1" cy="389.8" r="1.05"/>
<circle cx="59.6" cy="403.8" r="1.05"/>
<circle cx="54.4" cy="386.1" r="1.05"/>
<circle cx="77.4" cy="394.5" r="1.05"/>
<circle cx="59.5" cy="389.6" r="1.05"/>
<circle cx="54.3" cy="392.8" r="1.05"/>
<circle cx="57.0" cy="381.6" r="1.05"/>
<circle cx="60.5" cy="381.0" r="1.05"/>
<circle cx="78.0" cy="392.1" r="1.05"/>
<circle cx="71.3" cy="375.4" r="1.05"/>
<circle cx="63.9" cy="381.7" r="1.05"/>
<circle cx="53.7" cy="394.8" r="1.05"/>
<circle cx="60.0" cy="383.7" r="1.05"/>
<circle cx="58.1" cy="381.3" r="1.05"/>
<circle cx="79.8" cy="379.4" r="1.05"/>
<circle cx="61.4" cy="390.4" r="1.05"/>
<circle cx="95.1" cy="385.9" r="1.05"/>
<circle cx="67.8" cy="390.4" r="1.05"/>
<circle cx="57.2" cy="387.5" r="1.05"/>
<circle cx="64.5" cy="405.4" r="1.05"/>
<circle cx="56.3" cy="385.3" r="1.05"/>
<circle cx="67.4" cy="371.9" r="1.05"/>
<circle cx="50.3" cy="390.1" r="1.05"/>
<circle cx="76.0" cy="389.1" r="1.05"/>
<circle cx="64.7" cy="390.5" r="1.05"/>
<circle cx="70.8" cy="375.0" r="1.05"/>
<circle cx="54.0" cy="399.1" r="1.05"/>
<circle cx="92.2" cy="388.8" r="1.05"/>
<circle cx="54.0" cy="388.7" r="1.05"/>
<circle cx="64.6" cy="375.2" r="1.05"/>
<circle cx="53.9" cy="393.3" r="1.05"/>
<circle cx="60.0" cy="388.5" r="1.05"/>
<circle cx="65.8" cy="401.0" r="1.05"/>
<circle cx="52.8" cy="385.5" r="1.05"/>
<circle cx="61.5" cy="378.3" r="1.05"/>
<circle cx="67.0" cy="390.2" r="1.05"/>
<circle cx="55.3" cy="381.1" r="1.05"/>
<circle cx="72.1" cy="392.8" r="1.05"/>
<circle cx="61.1" cy="379.6" r="1.05"/>
<circle cx="54.3" cy="388.0" r="1.05"/>
<circle cx="57.5" cy="387.1" r="1.05"/>
<circle cx="56.2" cy="388.8" r="1.05"/>
<circle cx="62.1" cy="384.6" r="1.05"/>
<circle cx="68.9" cy="382.0" r="1.05"/>
<circle cx="62.6" cy="388.6" r="1.05"/>
<circle cx="65.4" cy="384.0" r="1.05"/>
<circle cx="62.4" cy="390.5" r="1.05"/>
<circle cx="68.0" cy="386.7" r="1.05"/>
<circle cx="74.5" cy="369.5" r="1.05"/>
<circle cx="52.4" cy="388.6" r="1.05"/>
<circle cx="64.0" cy="401.3" r="1.05"/>
<circle cx="61.1" cy="391.8" r="1.05"/>
<circle cx="79.3" cy="394.4" r="1.05"/>
<circle cx="73.5" cy="393.1" r="1.05"/>
<circle cx="53.6" cy="385.0" r="1.05"/>
<circle cx="58.3" cy="377.5" r="1.05"/>
<circle cx="51.3" cy="396.2" r="1.05"/>
<circle cx="64.9" cy="412.7" r="1.05"/>
<circle cx="58.8" cy="405.5" r="1.05"/>
<circle cx="55.4" cy="448.4" r="1.05"/>
<circle cx="55.6" cy="426.5" r="1.05"/>
<circle cx="50.4" cy="418.9" r="1.05"/>
<circle cx="60.1" cy="422.6" r="1.05"/>
<circle cx="46.7" cy="413.8" r="1.05"/>
<circle cx="46.9" cy="412.6" r="1.05"/>
<circle cx="61.4" cy="405.3" r="1.05"/>
<circle cx="51.7" cy="408.2" r="1.05"/>
<circle cx="54.2" cy="414.6" r="1.05"/>
<circle cx="51.2" cy="416.4" r="1.05"/>
<circle cx="61.1" cy="435.2" r="1.05"/>
<circle cx="50.0" cy="424.0" r="1.05"/>
<circle cx="55.6" cy="408.6" r="1.05"/>
<circle cx="59.0" cy="441.9" r="1.05"/>
<circle cx="71.9" cy="425.0" r="1.05"/>
<circle cx="65.5" cy="424.9" r="1.05"/>
<circle cx="55.9" cy="409.1" r="1.05"/>
<circle cx="62.8" cy="414.4" r="1.05"/>
<circle cx="52.6" cy="417.0" r="1.05"/>
<circle cx="55.7" cy="420.6" r="1.05"/>
<circle cx="62.3" cy="419.6" r="1.05"/>
<circle cx="69.7" cy="425.7" r="1.05"/>
<circle cx="49.4" cy="422.7" r="1.05"/>
<circle cx="53.1" cy="405.0" r="1.05"/>
<circle cx="59.7" cy="432.7" r="1.05"/>
<circle cx="61.1" cy="405.3" r="1.05"/>
<circle cx="58.1" cy="414.7" r="1.05"/>
<circle cx="54.7" cy="430.0" r="1.05"/>
<circle cx="50.3" cy="422.2" r="1.05"/>
<circle cx="49.5" cy="415.8" r="1.05"/>
<circle cx="59.4" cy="415.1" r="1.05"/>
<circle cx="52.4" cy="408.8" r="1.05"/>
<circle cx="54.3" cy="413.8" r="1.05"/>
<circle cx="51.4" cy="415.1" r="1.05"/>
<circle cx="52.9" cy="437.3" r="1.05"/>
<circle cx="50.6" cy="418.3" r="1.05"/>
<circle cx="53.5" cy="419.7" r="1.05"/>
<circle cx="53.9" cy="435.7" r="1.05"/>
<circle cx="59.3" cy="423.9" r="1.05"/>
<circle cx="50.6" cy="430.9" r="1.05"/>
<circle cx="47.7" cy="419.9" r="1.05"/>
<circle cx="53.3" cy="409.0" r="1.05"/>
<circle cx="57.7" cy="412.3" r="1.05"/>
<circle cx="52.4" cy="413.5" r="1.05"/>
<circle cx="62.6" cy="419.7" r="1.05"/>
<circle cx="55.6" cy="415.8" r="1.05"/>
<circle cx="50.7" cy="410.3" r="1.05"/>
<circle cx="61.5" cy="408.0" r="1.05"/>
<circle cx="58.2" cy="423.6" r="1.05"/>
<circle cx="54.0" cy="408.3" r="1.05"/>
<circle cx="53.5" cy="406.6" r="1.05"/>
<circle cx="49.7" cy="417.9" r="1.05"/>
<circle cx="47.4" cy="420.9" r="1.05"/>
<circle cx="52.9" cy="355.7" r="1.05"/>
<circle cx="52.4" cy="358.5" r="1.05"/>
<circle cx="55.8" cy="358.4" r="1.05"/>
<circle cx="77.1" cy="358.7" r="1.05"/>
<circle cx="72.4" cy="350.2" r="1.05"/>
<circle cx="59.5" cy="356.0" r="1.05"/>
<circle cx="71.6" cy="356.4" r="1.05"/>
<circle cx="58.2" cy="364.3" r="1.05"/>
<circle cx="52.8" cy="365.3" r="1.05"/>
<circle cx="74.8" cy="366.5" r="1.05"/>
<circle cx="48.1" cy="364.0" r="1.05"/>
<circle cx="71.6" cy="369.7" r="1.05"/>
<circle cx="76.8" cy="362.2" r="1.05"/>
<circle cx="49.6" cy="356.9" r="1.05"/>
<circle cx="73.6" cy="350.9" r="1.05"/>
<circle cx="71.2" cy="366.0" r="1.05"/>
<circle cx="48.3" cy="362.4" r="1.05"/>
<circle cx="60.8" cy="353.6" r="1.05"/>
<circle cx="119.3" cy="385.4" r="1.05"/>
<circle cx="148.3" cy="383.3" r="1.05"/>
<circle cx="125.6" cy="376.1" r="1.05"/>
<circle cx="105.7" cy="359.3" r="1.05"/>
<circle cx="139.0" cy="378.0" r="1.05"/>
<circle cx="111.4" cy="392.8" r="1.05"/>
<circle cx="86.0" cy="385.0" r="1.05"/>
<circle cx="90.3" cy="362.4" r="1.05"/>
<circle cx="149.4" cy="383.0" r="1.05"/>
<circle cx="91.3" cy="365.7" r="1.05"/>
<circle cx="137.5" cy="401.6" r="1.05"/>
<circle cx="87.1" cy="384.8" r="1.05"/>
<circle cx="113.4" cy="371.8" r="1.05"/>
<circle cx="103.9" cy="390.5" r="1.05"/>
<circle cx="108.1" cy="375.7" r="1.05"/>
<circle cx="91.1" cy="388.2" r="1.05"/>
<circle cx="111.9" cy="383.2" r="1.05"/>
<circle cx="135.9" cy="372.0" r="1.05"/>
</g>
<polygon points="46.80,398.66 49.52,398.29 52.23,397.92 54.95,397.53 57.66,397.11 60.38,396.65 63.09,396.13 65.81,395.54 68.52,394.87 71.24,394.14 73.95,393.36 76.67,392.54 79.38,391.71 82.10,390.86 84.82,390.00 87.53,389.13 90.25,388.26 92.96,387.39 95.68,386.51 98.39,385.63 101.11,384.75 103.82,383.87 106.54,382.99 109.25,382.10 111.97,381.22 114.68,380.33 117.40,379.45 120.12,378.56 122.83,377.67 125.55,376.79 128.26,375.90 130.98,375.01 133.69,374.12 136.41,373.23 139.12,372.35 141.84,371.46 144.55,370.57 147.27,369.68 149.98,368.79 152.70,367.90 152.70,386.30 149.98,386.62 147.27,386.95 144.55,387.28 141.84,387.60 139.12,387.93 136.41,388.26 133.69,388.59 130.98,388.91 128.26,389.24 125.55,389.57 122.83,389.90 120.12,390.22 117.40,390.55 114.68,390.88 111.97,391.21 109.25,391.54 106.54,391.88 103.82,392.21 101.11,392.54 98.39,392.88 95.68,393.21 92.96,393.55 90.25,393.89 87.53,394.24 84.82,394.59 82.10,394.94 79.38,395.31 76.67,395.69 73.95,396.09 71.24,396.52 68.52,397.00 65.81,397.55 63.09,398.17 60.38,398.87 57.66,399.63 54.95,400.43 52.23,401.25 49.52,402.09 46.80,402.94" fill="#999" fill-opacity="0.43"/>
<line x1="46.8" y1="400.8" x2="152.7" y2="377.1" stroke="#4068e0" stroke-width="1.6"/>
<rect x="40.80" y="343.50" width="117.20" height="115.30" fill="none" stroke="#8f8f8f" stroke-width="0.8"/>
<line x1="40.80" y1="343.50" x2="158.00" y2="343.50" stroke="#777" stroke-width="1.1"/>
<text x="125.80" y="352.10" font-size="7.2" fill="#e8303c" stroke="#e8303c" stroke-width="0.1">r = 0.192</text>
<text x="125.80" y="359.70" font-size="7.2" fill="#e8303c" stroke="#e8303c" stroke-width="0.1"><tspan font-style="italic">P</tspan>&#160;&lt;&#160;0.001</text>
<line x1="44.50" y1="458.80" x2="44.50" y2="460.40" stroke="#555" stroke-width="0.7"/>
<text x="44.50" y="467.10" font-size="7.0" fill="#555" text-anchor="middle" font-weight="normal" >0</text>
<line x1="70.08" y1="458.80" x2="70.08" y2="460.40" stroke="#555" stroke-width="0.7"/>
<text x="70.08" y="467.10" font-size="7.0" fill="#555" text-anchor="middle" font-weight="normal" >50</text>
<line x1="95.65" y1="458.80" x2="95.65" y2="460.40" stroke="#555" stroke-width="0.7"/>
<text x="95.65" y="467.10" font-size="7.0" fill="#555" text-anchor="middle" font-weight="normal" >100</text>
<line x1="121.22" y1="458.80" x2="121.22" y2="460.40" stroke="#555" stroke-width="0.7"/>
<text x="121.22" y="467.10" font-size="7.0" fill="#555" text-anchor="middle" font-weight="normal" >150</text>
<line x1="146.80" y1="458.80" x2="146.80" y2="460.40" stroke="#555" stroke-width="0.7"/>
<text x="146.80" y="467.10" font-size="7.0" fill="#555" text-anchor="middle" font-weight="normal" >200</text>
<text x="101.00" y="476.20" font-size="8.8" fill="#222" text-anchor="middle" font-weight="normal" stroke="#222" stroke-width="0.15">Infiltration Level</text>
<line x1="26.8" y1="426.70" x2="28.5" y2="426.70" stroke="#555" stroke-width="0.7"/>
<text x="25.60" y="429.10" font-size="6.8" fill="#4d4d4d" text-anchor="end" font-weight="normal" >5</text>
<line x1="26.8" y1="395.00" x2="28.5" y2="395.00" stroke="#555" stroke-width="0.7"/>
<text x="25.60" y="397.40" font-size="6.8" fill="#4d4d4d" text-anchor="end" font-weight="normal" >6</text>
<line x1="26.8" y1="363.30" x2="28.5" y2="363.30" stroke="#555" stroke-width="0.7"/>
<text x="25.60" y="365.70" font-size="6.8" fill="#4d4d4d" text-anchor="end" font-weight="normal" >7</text>
<rect x="164.60" y="332.00" width="116.40" height="11.50" fill="#d9d9d9" stroke="#8f8f8f" stroke-width="0.8"/>
<text x="225.80" y="340.20" font-size="7.1" fill="#111" stroke="#111" stroke-width="0.08" text-anchor="middle">Treg cell</text>
<rect x="164.60" y="343.50" width="116.40" height="115.30" fill="#fff"/>
<g stroke="#efefef" stroke-width="0.8">
<line x1="169.70" y1="343.50" x2="169.70" y2="458.80"/>
<line x1="182.42" y1="343.50" x2="182.42" y2="458.80" stroke="#f6f6f6"/>
<line x1="195.15" y1="343.50" x2="195.15" y2="458.80"/>
<line x1="207.88" y1="343.50" x2="207.88" y2="458.80" stroke="#f6f6f6"/>
<line x1="220.60" y1="343.50" x2="220.60" y2="458.80"/>
<line x1="233.32" y1="343.50" x2="233.32" y2="458.80" stroke="#f6f6f6"/>
<line x1="246.05" y1="343.50" x2="246.05" y2="458.80"/>
<line x1="258.77" y1="343.50" x2="258.77" y2="458.80" stroke="#f6f6f6"/>
<line x1="271.50" y1="343.50" x2="271.50" y2="458.80"/>
<line x1="164.60" y1="426.70" x2="281.00" y2="426.70"/>
<line x1="164.60" y1="395.00" x2="281.00" y2="395.00"/>
<line x1="164.60" y1="363.30" x2="281.00" y2="363.30"/>
<line x1="164.60" y1="442.55" x2="281.00" y2="442.55" stroke="#f6f6f6"/>
<line x1="164.60" y1="410.85" x2="281.00" y2="410.85" stroke="#f6f6f6"/>
<line x1="164.60" y1="379.15" x2="281.00" y2="379.15" stroke="#f6f6f6"/>
<line x1="164.60" y1="347.45" x2="281.00" y2="347.45" stroke="#f6f6f6"/>
</g>
<g fill="#4d4d4d" fill-opacity="0.72">
<circle cx="170.8" cy="374.9" r="1.05"/>
<circle cx="171.6" cy="412.7" r="1.05"/>
<circle cx="171.6" cy="376.9" r="1.05"/>
<circle cx="170.1" cy="379.5" r="1.05"/>
<circle cx="171.2" cy="386.3" r="1.05"/>
<circle cx="172.2" cy="398.8" r="1.05"/>
<circle cx="172.0" cy="396.7" r="1.05"/>
<circle cx="171.8" cy="388.9" r="1.05"/>
<circle cx="171.5" cy="405.7" r="1.05"/>
<circle cx="172.0" cy="394.6" r="1.05"/>
<circle cx="170.2" cy="406.0" r="1.05"/>
<circle cx="170.3" cy="422.3" r="1.05"/>
<circle cx="170.1" cy="392.2" r="1.05"/>
<circle cx="170.3" cy="360.4" r="1.05"/>
<circle cx="171.7" cy="384.8" r="1.05"/>
<circle cx="170.2" cy="377.6" r="1.05"/>
<circle cx="172.2" cy="391.1" r="1.05"/>
<circle cx="172.5" cy="391.1" r="1.05"/>
<circle cx="171.1" cy="375.9" r="1.05"/>
<circle cx="171.3" cy="376.7" r="1.05"/>
<circle cx="170.4" cy="387.0" r="1.05"/>
<circle cx="171.1" cy="387.7" r="1.05"/>
<circle cx="170.1" cy="360.0" r="1.05"/>
<circle cx="170.5" cy="401.2" r="1.05"/>
<circle cx="170.3" cy="390.4" r="1.05"/>
<circle cx="170.7" cy="389.9" r="1.05"/>
<circle cx="171.0" cy="393.4" r="1.05"/>
<circle cx="171.0" cy="378.2" r="1.05"/>
<circle cx="170.1" cy="389.4" r="1.05"/>
<circle cx="172.7" cy="402.0" r="1.05"/>
<circle cx="171.0" cy="402.5" r="1.05"/>
<circle cx="171.0" cy="395.3" r="1.05"/>
<circle cx="170.1" cy="386.8" r="1.05"/>
<circle cx="170.9" cy="380.5" r="1.05"/>
<circle cx="171.7" cy="405.3" r="1.05"/>
<circle cx="170.1" cy="396.1" r="1.05"/>
<circle cx="171.1" cy="385.1" r="1.05"/>
<circle cx="170.4" cy="364.8" r="1.05"/>
<circle cx="171.2" cy="379.9" r="1.05"/>
<circle cx="171.5" cy="367.6" r="1.05"/>
<circle cx="171.7" cy="404.5" r="1.05"/>
<circle cx="170.8" cy="392.2" r="1.05"/>
<circle cx="170.3" cy="381.3" r="1.05"/>
<circle cx="171.6" cy="386.8" r="1.05"/>
<circle cx="172.1" cy="420.3" r="1.05"/>
<circle cx="170.7" cy="404.2" r="1.05"/>
<circle cx="170.2" cy="374.3" r="1.05"/>
<circle cx="172.2" cy="388.5" r="1.05"/>
<circle cx="171.8" cy="375.6" r="1.05"/>
<circle cx="171.1" cy="369.8" r="1.05"/>
<circle cx="170.3" cy="392.0" r="1.05"/>
<circle cx="170.3" cy="418.3" r="1.05"/>
<circle cx="170.5" cy="408.3" r="1.05"/>
<circle cx="171.8" cy="390.5" r="1.05"/>
<circle cx="171.1" cy="385.6" r="1.05"/>
<circle cx="170.1" cy="392.4" r="1.05"/>
<circle cx="170.1" cy="402.2" r="1.05"/>
<circle cx="171.7" cy="372.8" r="1.05"/>
<circle cx="170.7" cy="368.0" r="1.05"/>
<circle cx="170.1" cy="412.1" r="1.05"/>
<circle cx="170.3" cy="393.3" r="1.05"/>
<circle cx="170.5" cy="408.9" r="1.05"/>
<circle cx="170.1" cy="392.8" r="1.05"/>
<circle cx="170.9" cy="407.4" r="1.05"/>
<circle cx="170.0" cy="382.8" r="1.05"/>
<circle cx="171.6" cy="395.9" r="1.05"/>
<circle cx="170.9" cy="408.3" r="1.05"/>
<circle cx="170.2" cy="402.1" r="1.05"/>
<circle cx="171.7" cy="384.6" r="1.05"/>
<circle cx="170.1" cy="400.6" r="1.05"/>
<circle cx="170.9" cy="382.1" r="1.05"/>
<circle cx="171.7" cy="373.1" r="1.05"/>
<circle cx="170.9" cy="396.2" r="1.05"/>
<circle cx="170.6" cy="406.6" r="1.05"/>
<circle cx="172.3" cy="400.1" r="1.05"/>
<circle cx="171.8" cy="375.1" r="1.05"/>
<circle cx="170.9" cy="400.3" r="1.05"/>
<circle cx="170.8" cy="398.1" r="1.05"/>
<circle cx="171.8" cy="384.5" r="1.05"/>
<circle cx="170.0" cy="360.5" r="1.05"/>
<circle cx="170.4" cy="402.1" r="1.05"/>
<circle cx="170.8" cy="400.5" r="1.05"/>
<circle cx="170.4" cy="395.9" r="1.05"/>
<circle cx="172.0" cy="369.4" r="1.05"/>
<circle cx="171.8" cy="372.3" r="1.05"/>
<circle cx="171.4" cy="402.0" r="1.05"/>
<circle cx="170.8" cy="399.5" r="1.05"/>
<circle cx="170.7" cy="395.9" r="1.05"/>
<circle cx="172.0" cy="387.1" r="1.05"/>
<circle cx="171.1" cy="394.7" r="1.05"/>
<circle cx="171.1" cy="383.5" r="1.05"/>
<circle cx="170.4" cy="386.3" r="1.05"/>
<circle cx="171.3" cy="379.7" r="1.05"/>
<circle cx="170.6" cy="393.1" r="1.05"/>
<circle cx="172.3" cy="385.0" r="1.05"/>
<circle cx="171.7" cy="401.3" r="1.05"/>
<circle cx="170.1" cy="398.6" r="1.05"/>
<circle cx="170.9" cy="380.3" r="1.05"/>
<circle cx="171.1" cy="411.9" r="1.05"/>
<circle cx="170.7" cy="376.6" r="1.05"/>
<circle cx="171.8" cy="395.4" r="1.05"/>
<circle cx="171.6" cy="402.9" r="1.05"/>
<circle cx="170.7" cy="405.3" r="1.05"/>
<circle cx="172.2" cy="363.6" r="1.05"/>
<circle cx="170.8" cy="402.0" r="1.05"/>
<circle cx="170.2" cy="404.6" r="1.05"/>
<circle cx="172.8" cy="407.2" r="1.05"/>
<circle cx="170.2" cy="363.4" r="1.05"/>
<circle cx="170.5" cy="381.9" r="1.05"/>
<circle cx="170.9" cy="388.8" r="1.05"/>
<circle cx="171.0" cy="384.7" r="1.05"/>
<circle cx="172.0" cy="406.0" r="1.05"/>
<circle cx="170.9" cy="381.9" r="1.05"/>
<circle cx="170.3" cy="404.7" r="1.05"/>
<circle cx="170.6" cy="396.7" r="1.05"/>
<circle cx="171.1" cy="372.6" r="1.05"/>
<circle cx="171.3" cy="378.1" r="1.05"/>
<circle cx="172.3" cy="384.4" r="1.05"/>
<circle cx="170.5" cy="391.2" r="1.05"/>
<circle cx="170.7" cy="401.9" r="1.05"/>
<circle cx="172.1" cy="387.8" r="1.05"/>
<circle cx="170.8" cy="400.9" r="1.05"/>
<circle cx="170.3" cy="371.1" r="1.05"/>
<circle cx="171.5" cy="353.4" r="1.05"/>
<circle cx="170.2" cy="386.0" r="1.05"/>
<circle cx="170.1" cy="395.5" r="1.05"/>
<circle cx="170.5" cy="385.7" r="1.05"/>
<circle cx="170.9" cy="377.9" r="1.05"/>
<circle cx="172.0" cy="395.1" r="1.05"/>
<circle cx="171.7" cy="413.2" r="1.05"/>
<circle cx="171.2" cy="388.8" r="1.05"/>
<circle cx="170.8" cy="381.3" r="1.05"/>
<circle cx="170.6" cy="379.9" r="1.05"/>
<circle cx="171.1" cy="413.6" r="1.05"/>
<circle cx="170.8" cy="389.5" r="1.05"/>
<circle cx="170.7" cy="397.3" r="1.05"/>
<circle cx="170.9" cy="404.6" r="1.05"/>
<circle cx="170.8" cy="402.9" r="1.05"/>
<circle cx="170.8" cy="378.9" r="1.05"/>
<circle cx="170.5" cy="401.5" r="1.05"/>
<circle cx="171.0" cy="400.1" r="1.05"/>
<circle cx="170.3" cy="395.9" r="1.05"/>
<circle cx="170.0" cy="402.1" r="1.05"/>
<circle cx="171.4" cy="383.3" r="1.05"/>
<circle cx="171.1" cy="389.1" r="1.05"/>
<circle cx="171.1" cy="383.7" r="1.05"/>
<circle cx="170.5" cy="399.1" r="1.05"/>
<circle cx="171.2" cy="382.2" r="1.05"/>
<circle cx="171.3" cy="394.7" r="1.05"/>
<circle cx="171.1" cy="376.9" r="1.05"/>
<circle cx="181.3" cy="391.2" r="1.05"/>
<circle cx="181.4" cy="397.4" r="1.05"/>
<circle cx="180.7" cy="394.6" r="1.05"/>
<circle cx="170.7" cy="382.9" r="1.05"/>
<circle cx="176.9" cy="412.6" r="1.05"/>
<circle cx="175.5" cy="386.5" r="1.05"/>
<circle cx="175.0" cy="401.4" r="1.05"/>
<circle cx="201.1" cy="416.1" r="1.05"/>
<circle cx="201.3" cy="390.4" r="1.05"/>
<circle cx="201.3" cy="397.9" r="1.05"/>
<circle cx="194.0" cy="386.7" r="1.05"/>
<circle cx="177.7" cy="402.8" r="1.05"/>
<circle cx="203.1" cy="393.8" r="1.05"/>
<circle cx="196.1" cy="384.2" r="1.05"/>
<circle cx="195.6" cy="409.5" r="1.05"/>
<circle cx="199.9" cy="406.2" r="1.05"/>
<circle cx="195.6" cy="386.3" r="1.05"/>
<circle cx="194.5" cy="407.8" r="1.05"/>
<circle cx="173.8" cy="392.9" r="1.05"/>
<circle cx="172.7" cy="419.1" r="1.05"/>
<circle cx="213.1" cy="417.5" r="1.05"/>
<circle cx="196.3" cy="390.0" r="1.05"/>
<circle cx="191.7" cy="392.0" r="1.05"/>
<circle cx="191.1" cy="385.5" r="1.05"/>
<circle cx="193.2" cy="396.5" r="1.05"/>
<circle cx="199.7" cy="397.1" r="1.05"/>
<circle cx="192.2" cy="402.6" r="1.05"/>
<circle cx="185.1" cy="394.3" r="1.05"/>
<circle cx="185.7" cy="378.0" r="1.05"/>
<circle cx="177.9" cy="383.2" r="1.05"/>
<circle cx="202.4" cy="412.0" r="1.05"/>
<circle cx="194.2" cy="407.5" r="1.05"/>
<circle cx="174.1" cy="389.2" r="1.05"/>
<circle cx="204.4" cy="396.1" r="1.05"/>
<circle cx="171.5" cy="388.6" r="1.05"/>
<circle cx="177.0" cy="391.8" r="1.05"/>
<circle cx="182.6" cy="375.2" r="1.05"/>
<circle cx="177.1" cy="401.0" r="1.05"/>
<circle cx="177.7" cy="384.8" r="1.05"/>
<circle cx="182.4" cy="394.3" r="1.05"/>
<circle cx="204.3" cy="371.0" r="1.05"/>
<circle cx="182.2" cy="395.2" r="1.05"/>
<circle cx="172.7" cy="404.7" r="1.05"/>
<circle cx="228.8" cy="379.5" r="1.05"/>
<circle cx="185.1" cy="409.3" r="1.05"/>
<circle cx="182.7" cy="397.8" r="1.05"/>
<circle cx="184.5" cy="385.5" r="1.05"/>
<circle cx="179.2" cy="375.4" r="1.05"/>
<circle cx="201.9" cy="409.2" r="1.05"/>
<circle cx="177.5" cy="394.4" r="1.05"/>
<circle cx="177.7" cy="397.9" r="1.05"/>
<circle cx="179.1" cy="389.1" r="1.05"/>
<circle cx="171.7" cy="382.0" r="1.05"/>
<circle cx="176.4" cy="400.6" r="1.05"/>
<circle cx="202.1" cy="387.0" r="1.05"/>
<circle cx="181.3" cy="401.9" r="1.05"/>
<circle cx="193.3" cy="377.6" r="1.05"/>
<circle cx="182.5" cy="383.0" r="1.05"/>
<circle cx="179.7" cy="376.9" r="1.05"/>
<circle cx="172.0" cy="404.2" r="1.05"/>
<circle cx="180.3" cy="373.9" r="1.05"/>
<circle cx="205.6" cy="385.9" r="1.05"/>
<circle cx="194.5" cy="402.3" r="1.05"/>
<circle cx="211.8" cy="401.6" r="1.05"/>
<circle cx="209.8" cy="421.8" r="1.05"/>
<circle cx="181.9" cy="412.0" r="1.05"/>
<circle cx="179.1" cy="398.5" r="1.05"/>
<circle cx="170.5" cy="397.4" r="1.05"/>
<circle cx="183.8" cy="373.8" r="1.05"/>
<circle cx="182.4" cy="383.4" r="1.05"/>
<circle cx="187.8" cy="390.5" r="1.05"/>
<circle cx="213.2" cy="397.6" r="1.05"/>
<circle cx="181.4" cy="378.0" r="1.05"/>
<circle cx="180.6" cy="382.5" r="1.05"/>
<circle cx="190.7" cy="385.6" r="1.05"/>
<circle cx="181.7" cy="403.7" r="1.05"/>
<circle cx="179.0" cy="396.5" r="1.05"/>
<circle cx="176.5" cy="387.9" r="1.05"/>
<circle cx="183.6" cy="390.1" r="1.05"/>
<circle cx="188.3" cy="397.1" r="1.05"/>
<circle cx="175.2" cy="383.8" r="1.05"/>
<circle cx="178.4" cy="389.1" r="1.05"/>
<circle cx="184.3" cy="375.0" r="1.05"/>
<circle cx="175.5" cy="398.3" r="1.05"/>
<circle cx="196.0" cy="405.8" r="1.05"/>
<circle cx="196.8" cy="399.7" r="1.05"/>
<circle cx="180.3" cy="397.3" r="1.05"/>
<circle cx="241.0" cy="409.5" r="1.05"/>
<circle cx="198.4" cy="417.7" r="1.05"/>
<circle cx="190.9" cy="396.7" r="1.05"/>
<circle cx="188.4" cy="380.1" r="1.05"/>
<circle cx="202.6" cy="386.1" r="1.05"/>
<circle cx="209.6" cy="406.2" r="1.05"/>
<circle cx="189.3" cy="405.5" r="1.05"/>
<circle cx="239.9" cy="413.5" r="1.05"/>
<circle cx="184.3" cy="402.0" r="1.05"/>
<circle cx="178.3" cy="393.8" r="1.05"/>
<circle cx="176.1" cy="375.7" r="1.05"/>
<circle cx="179.1" cy="384.5" r="1.05"/>
<circle cx="181.6" cy="373.5" r="1.05"/>
<circle cx="180.0" cy="388.1" r="1.05"/>
<circle cx="178.1" cy="377.4" r="1.05"/>
<circle cx="191.9" cy="395.8" r="1.05"/>
<circle cx="173.8" cy="389.0" r="1.05"/>
<circle cx="173.3" cy="370.2" r="1.05"/>
<circle cx="183.5" cy="400.7" r="1.05"/>
<circle cx="180.1" cy="400.2" r="1.05"/>
<circle cx="175.8" cy="376.6" r="1.05"/>
<circle cx="221.5" cy="402.8" r="1.05"/>
<circle cx="180.8" cy="399.9" r="1.05"/>
<circle cx="188.2" cy="390.9" r="1.05"/>
<circle cx="173.6" cy="399.8" r="1.05"/>
<circle cx="265.5" cy="412.9" r="1.05"/>
<circle cx="180.0" cy="403.5" r="1.05"/>
<circle cx="197.3" cy="397.9" r="1.05"/>
<circle cx="186.4" cy="391.8" r="1.05"/>
<circle cx="191.9" cy="400.1" r="1.05"/>
<circle cx="177.9" cy="399.9" r="1.05"/>
<circle cx="170.4" cy="392.6" r="1.05"/>
<circle cx="211.3" cy="394.2" r="1.05"/>
<circle cx="190.9" cy="386.2" r="1.05"/>
<circle cx="192.3" cy="390.9" r="1.05"/>
<circle cx="178.1" cy="385.6" r="1.05"/>
<circle cx="180.3" cy="394.3" r="1.05"/>
<circle cx="179.7" cy="393.8" r="1.05"/>
<circle cx="174.2" cy="389.9" r="1.05"/>
<circle cx="193.3" cy="395.0" r="1.05"/>
<circle cx="177.1" cy="393.3" r="1.05"/>
<circle cx="171.9" cy="406.9" r="1.05"/>
<circle cx="184.1" cy="405.7" r="1.05"/>
<circle cx="182.4" cy="386.5" r="1.05"/>
<circle cx="177.3" cy="395.9" r="1.05"/>
<circle cx="186.6" cy="390.0" r="1.05"/>
<circle cx="191.3" cy="393.5" r="1.05"/>
<circle cx="200.9" cy="394.1" r="1.05"/>
<circle cx="178.0" cy="385.0" r="1.05"/>
<circle cx="177.1" cy="377.0" r="1.05"/>
<circle cx="193.0" cy="368.8" r="1.05"/>
<circle cx="184.3" cy="395.1" r="1.05"/>
<circle cx="179.5" cy="404.5" r="1.05"/>
<circle cx="195.6" cy="385.9" r="1.05"/>
<circle cx="205.6" cy="403.0" r="1.05"/>
<circle cx="193.0" cy="390.8" r="1.05"/>
<circle cx="175.1" cy="393.9" r="1.05"/>
<circle cx="170.2" cy="381.3" r="1.05"/>
<circle cx="196.8" cy="393.2" r="1.05"/>
<circle cx="180.7" cy="391.0" r="1.05"/>
<circle cx="182.5" cy="367.3" r="1.05"/>
<circle cx="224.8" cy="404.2" r="1.05"/>
<circle cx="196.2" cy="394.1" r="1.05"/>
<circle cx="185.9" cy="367.0" r="1.05"/>
<circle cx="183.7" cy="399.7" r="1.05"/>
<circle cx="172.1" cy="389.9" r="1.05"/>
<circle cx="191.6" cy="396.7" r="1.05"/>
<circle cx="181.8" cy="396.2" r="1.05"/>
<circle cx="188.4" cy="389.4" r="1.05"/>
<circle cx="206.2" cy="386.3" r="1.05"/>
<circle cx="176.6" cy="386.5" r="1.05"/>
<circle cx="190.2" cy="389.7" r="1.05"/>
<circle cx="170.8" cy="413.5" r="1.05"/>
<circle cx="171.5" cy="409.7" r="1.05"/>
<circle cx="188.5" cy="388.6" r="1.05"/>
<circle cx="195.2" cy="390.9" r="1.05"/>
<circle cx="177.1" cy="394.7" r="1.05"/>
<circle cx="201.0" cy="402.6" r="1.05"/>
<circle cx="183.3" cy="385.3" r="1.05"/>
<circle cx="200.2" cy="385.7" r="1.05"/>
<circle cx="176.4" cy="411.7" r="1.05"/>
<circle cx="175.7" cy="402.2" r="1.05"/>
<circle cx="202.5" cy="380.3" r="1.05"/>
<circle cx="205.6" cy="378.8" r="1.05"/>
<circle cx="175.4" cy="382.1" r="1.05"/>
<circle cx="207.2" cy="400.2" r="1.05"/>
<circle cx="188.8" cy="399.7" r="1.05"/>
<circle cx="174.9" cy="387.1" r="1.05"/>
<circle cx="176.1" cy="373.8" r="1.05"/>
<circle cx="182.7" cy="394.8" r="1.05"/>
<circle cx="181.2" cy="398.6" r="1.05"/>
<circle cx="196.1" cy="395.4" r="1.05"/>
<circle cx="180.5" cy="386.7" r="1.05"/>
<circle cx="172.0" cy="396.3" r="1.05"/>
<circle cx="197.1" cy="395.0" r="1.05"/>
<circle cx="220.6" cy="388.9" r="1.05"/>
<circle cx="171.6" cy="391.0" r="1.05"/>
<circle cx="197.8" cy="382.0" r="1.05"/>
<circle cx="172.1" cy="400.4" r="1.05"/>
<circle cx="192.3" cy="399.6" r="1.05"/>
<circle cx="179.6" cy="381.1" r="1.05"/>
<circle cx="173.8" cy="392.8" r="1.05"/>
<circle cx="184.5" cy="406.2" r="1.05"/>
<circle cx="176.9" cy="368.3" r="1.05"/>
<circle cx="212.7" cy="397.6" r="1.05"/>
<circle cx="181.4" cy="409.8" r="1.05"/>
<circle cx="187.4" cy="376.9" r="1.05"/>
<circle cx="183.9" cy="390.9" r="1.05"/>
<circle cx="195.6" cy="380.1" r="1.05"/>
<circle cx="177.0" cy="390.5" r="1.05"/>
<circle cx="221.6" cy="375.3" r="1.05"/>
<circle cx="186.2" cy="375.9" r="1.05"/>
<circle cx="186.5" cy="387.5" r="1.05"/>
<circle cx="184.4" cy="394.3" r="1.05"/>
<circle cx="186.1" cy="397.3" r="1.05"/>
<circle cx="180.6" cy="396.6" r="1.05"/>
<circle cx="179.3" cy="404.0" r="1.05"/>
<circle cx="180.2" cy="399.4" r="1.05"/>
<circle cx="187.4" cy="401.4" r="1.05"/>
<circle cx="198.8" cy="385.5" r="1.05"/>
<circle cx="188.0" cy="391.9" r="1.05"/>
<circle cx="181.7" cy="426.5" r="1.05"/>
<circle cx="189.7" cy="418.4" r="1.05"/>
<circle cx="197.4" cy="404.6" r="1.05"/>
<circle cx="190.9" cy="402.2" r="1.05"/>
<circle cx="214.2" cy="410.0" r="1.05"/>
<circle cx="184.3" cy="388.5" r="1.05"/>
<circle cx="184.6" cy="414.0" r="1.05"/>
<circle cx="178.1" cy="387.4" r="1.05"/>
<circle cx="176.6" cy="390.2" r="1.05"/>
<circle cx="186.9" cy="416.8" r="1.05"/>
<circle cx="180.3" cy="369.5" r="1.05"/>
<circle cx="193.3" cy="398.7" r="1.05"/>
<circle cx="248.0" cy="412.6" r="1.05"/>
<circle cx="214.6" cy="376.6" r="1.05"/>
<circle cx="229.4" cy="413.3" r="1.05"/>
<circle cx="247.3" cy="370.9" r="1.05"/>
<circle cx="219.2" cy="407.6" r="1.05"/>
<circle cx="255.8" cy="407.5" r="1.05"/>
<circle cx="243.8" cy="390.7" r="1.05"/>
<circle cx="224.8" cy="406.4" r="1.05"/>
<circle cx="245.5" cy="406.2" r="1.05"/>
<circle cx="239.4" cy="436.7" r="1.05"/>
<circle cx="212.2" cy="396.1" r="1.05"/>
<circle cx="256.8" cy="440.2" r="1.05"/>
<circle cx="257.2" cy="432.5" r="1.05"/>
<circle cx="270.1" cy="408.1" r="1.05"/>
<circle cx="272.1" cy="405.8" r="1.05"/>
<circle cx="234.4" cy="426.0" r="1.05"/>
<circle cx="179.1" cy="420.1" r="1.05"/>
<circle cx="178.0" cy="423.7" r="1.05"/>
<circle cx="177.1" cy="425.6" r="1.05"/>
<circle cx="171.3" cy="420.0" r="1.05"/>
<circle cx="210.6" cy="435.7" r="1.05"/>
<circle cx="179.8" cy="417.8" r="1.05"/>
<circle cx="186.4" cy="415.6" r="1.05"/>
<circle cx="183.9" cy="426.6" r="1.05"/>
<circle cx="176.9" cy="435.1" r="1.05"/>
<circle cx="198.5" cy="414.7" r="1.05"/>
<circle cx="171.9" cy="434.2" r="1.05"/>
<circle cx="179.9" cy="430.2" r="1.05"/>
<circle cx="177.2" cy="417.2" r="1.05"/>
<circle cx="177.1" cy="438.0" r="1.05"/>
<circle cx="187.6" cy="456.1" r="1.05"/>
<circle cx="178.6" cy="425.4" r="1.05"/>
<circle cx="215.3" cy="429.0" r="1.05"/>
<circle cx="187.9" cy="420.9" r="1.05"/>
<circle cx="203.1" cy="415.6" r="1.05"/>
<circle cx="188.9" cy="446.1" r="1.05"/>
<circle cx="173.9" cy="415.0" r="1.05"/>
<circle cx="179.4" cy="424.1" r="1.05"/>
<circle cx="180.6" cy="426.0" r="1.05"/>
<circle cx="180.7" cy="424.1" r="1.05"/>
<circle cx="186.3" cy="417.7" r="1.05"/>
<circle cx="181.2" cy="421.5" r="1.05"/>
<circle cx="172.3" cy="413.4" r="1.05"/>
<circle cx="206.8" cy="425.5" r="1.05"/>
<circle cx="177.3" cy="416.2" r="1.05"/>
<circle cx="176.2" cy="438.8" r="1.05"/>
<circle cx="188.7" cy="414.9" r="1.05"/>
<circle cx="194.2" cy="427.5" r="1.05"/>
<circle cx="193.6" cy="416.6" r="1.05"/>
<circle cx="170.3" cy="456.8" r="1.05"/>
<circle cx="196.2" cy="442.2" r="1.05"/>
<circle cx="177.5" cy="422.0" r="1.05"/>
<circle cx="177.9" cy="421.2" r="1.05"/>
<circle cx="174.9" cy="416.3" r="1.05"/>
<circle cx="187.1" cy="432.6" r="1.05"/>
<circle cx="194.2" cy="433.0" r="1.05"/>
<circle cx="180.9" cy="416.8" r="1.05"/>
<circle cx="177.5" cy="413.2" r="1.05"/>
<circle cx="196.4" cy="434.4" r="1.05"/>
<circle cx="179.5" cy="431.8" r="1.05"/>
<circle cx="182.9" cy="421.5" r="1.05"/>
<circle cx="176.8" cy="430.0" r="1.05"/>
<circle cx="184.1" cy="422.7" r="1.05"/>
<circle cx="196.2" cy="365.1" r="1.05"/>
<circle cx="173.9" cy="367.0" r="1.05"/>
<circle cx="197.5" cy="367.4" r="1.05"/>
<circle cx="183.2" cy="367.0" r="1.05"/>
<circle cx="198.7" cy="369.1" r="1.05"/>
<circle cx="214.9" cy="366.4" r="1.05"/>
<circle cx="197.5" cy="361.2" r="1.05"/>
<circle cx="207.5" cy="360.3" r="1.05"/>
<circle cx="185.9" cy="353.6" r="1.05"/>
<circle cx="170.5" cy="352.3" r="1.05"/>
<circle cx="172.1" cy="369.1" r="1.05"/>
<circle cx="170.8" cy="355.0" r="1.05"/>
<circle cx="179.8" cy="369.3" r="1.05"/>
<circle cx="182.2" cy="360.0" r="1.05"/>
<circle cx="184.5" cy="353.2" r="1.05"/>
</g>
<polygon points="169.80,390.49 172.52,391.31 175.23,392.12 177.95,392.91 180.66,393.68 183.38,394.43 186.09,395.16 188.81,395.85 191.52,396.51 194.24,397.15 196.95,397.76 199.67,398.35 202.38,398.92 205.10,399.48 207.82,400.02 210.53,400.56 213.25,401.09 215.96,401.62 218.68,402.14 221.39,402.65 224.11,403.17 226.82,403.68 229.54,404.19 232.25,404.70 234.97,405.20 237.68,405.71 240.40,406.21 243.12,406.71 245.83,407.21 248.55,407.71 251.26,408.21 253.98,408.71 256.69,409.21 259.41,409.71 262.12,410.21 264.84,410.71 267.55,411.20 270.27,411.70 272.98,412.20 275.70,412.70 275.70,424.89 272.98,424.04 270.27,423.18 267.55,422.32 264.84,421.46 262.12,420.60 259.41,419.74 256.69,418.88 253.98,418.03 251.26,417.17 248.55,416.31 245.83,415.46 243.12,414.60 240.40,413.75 237.68,412.89 234.97,412.04 232.25,411.19 229.54,410.34 226.82,409.49 224.11,408.65 221.39,407.80 218.68,406.96 215.96,406.12 213.25,405.29 210.53,404.46 207.82,403.64 205.10,402.82 202.38,402.02 199.67,401.23 196.95,400.45 194.24,399.69 191.52,398.96 188.81,398.25 186.09,397.57 183.38,396.91 180.66,396.28 177.95,395.67 175.23,395.08 172.52,394.51 169.80,393.94" fill="#999" fill-opacity="0.43"/>
<line x1="169.8" y1="392.3" x2="275.7" y2="419.1" stroke="#4068e0" stroke-width="1.6"/>
<rect x="164.60" y="343.50" width="116.40" height="115.30" fill="none" stroke="#8f8f8f" stroke-width="0.8"/>
<line x1="164.60" y1="343.50" x2="281.00" y2="343.50" stroke="#777" stroke-width="1.1"/>
<text x="248.00" y="352.10" font-size="7.2" fill="#e8303c" stroke="#e8303c" stroke-width="0.1">r = −0.261</text>
<text x="248.00" y="359.70" font-size="7.2" fill="#e8303c" stroke="#e8303c" stroke-width="0.1"><tspan font-style="italic">P</tspan>&#160;&lt;&#160;0.001</text>
<line x1="169.70" y1="458.80" x2="169.70" y2="460.40" stroke="#555" stroke-width="0.7"/>
<text x="169.70" y="467.10" font-size="7.0" fill="#555" text-anchor="middle" font-weight="normal" >0.000</text>
<line x1="195.15" y1="458.80" x2="195.15" y2="460.40" stroke="#555" stroke-width="0.7"/>
<text x="195.15" y="467.10" font-size="7.0" fill="#555" text-anchor="middle" font-weight="normal" >0.025</text>
<line x1="220.60" y1="458.80" x2="220.60" y2="460.40" stroke="#555" stroke-width="0.7"/>
<text x="220.60" y="467.10" font-size="7.0" fill="#555" text-anchor="middle" font-weight="normal" >0.050</text>
<line x1="246.05" y1="458.80" x2="246.05" y2="460.40" stroke="#555" stroke-width="0.7"/>
<text x="246.05" y="467.10" font-size="7.0" fill="#555" text-anchor="middle" font-weight="normal" >0.075</text>
<line x1="271.50" y1="458.80" x2="271.50" y2="460.40" stroke="#555" stroke-width="0.7"/>
<text x="271.50" y="467.10" font-size="7.0" fill="#555" text-anchor="middle" font-weight="normal" >0.100</text>
<text x="224.30" y="476.20" font-size="8.8" fill="#222" text-anchor="middle" font-weight="normal" stroke="#222" stroke-width="0.15">Infiltration Level</text>
<rect x="289.70" y="332.00" width="117.10" height="11.50" fill="#d9d9d9" stroke="#8f8f8f" stroke-width="0.8"/>
<text x="349.45" y="340.20" font-size="7.1" fill="#111" stroke="#111" stroke-width="0.08" text-anchor="middle">MDSC</text>
<rect x="289.70" y="343.50" width="117.10" height="115.30" fill="#fff"/>
<g stroke="#efefef" stroke-width="0.8">
<line x1="290.20" y1="343.50" x2="290.20" y2="458.80"/>
<line x1="302.70" y1="343.50" x2="302.70" y2="458.80" stroke="#f6f6f6"/>
<line x1="315.20" y1="343.50" x2="315.20" y2="458.80"/>
<line x1="327.70" y1="343.50" x2="327.70" y2="458.80" stroke="#f6f6f6"/>
<line x1="340.20" y1="343.50" x2="340.20" y2="458.80"/>
<line x1="352.70" y1="343.50" x2="352.70" y2="458.80" stroke="#f6f6f6"/>
<line x1="365.20" y1="343.50" x2="365.20" y2="458.80"/>
<line x1="377.70" y1="343.50" x2="377.70" y2="458.80" stroke="#f6f6f6"/>
<line x1="390.20" y1="343.50" x2="390.20" y2="458.80"/>
<line x1="289.70" y1="426.70" x2="406.80" y2="426.70"/>
<line x1="289.70" y1="395.00" x2="406.80" y2="395.00"/>
<line x1="289.70" y1="363.30" x2="406.80" y2="363.30"/>
<line x1="289.70" y1="442.55" x2="406.80" y2="442.55" stroke="#f6f6f6"/>
<line x1="289.70" y1="410.85" x2="406.80" y2="410.85" stroke="#f6f6f6"/>
<line x1="289.70" y1="379.15" x2="406.80" y2="379.15" stroke="#f6f6f6"/>
<line x1="289.70" y1="347.45" x2="406.80" y2="347.45" stroke="#f6f6f6"/>
</g>
<g fill="#4d4d4d" fill-opacity="0.72">
<circle cx="325.6" cy="397.0" r="1.05"/>
<circle cx="320.1" cy="383.9" r="1.05"/>
<circle cx="401.4" cy="394.2" r="1.05"/>
<circle cx="353.0" cy="401.5" r="1.05"/>
<circle cx="331.4" cy="387.8" r="1.05"/>
<circle cx="334.9" cy="388.4" r="1.05"/>
<circle cx="333.2" cy="380.6" r="1.05"/>
<circle cx="340.6" cy="398.7" r="1.05"/>
<circle cx="326.3" cy="409.2" r="1.05"/>
<circle cx="335.6" cy="378.4" r="1.05"/>
<circle cx="360.7" cy="398.2" r="1.05"/>
<circle cx="356.0" cy="399.5" r="1.05"/>
<circle cx="343.5" cy="385.9" r="1.05"/>
<circle cx="368.1" cy="387.7" r="1.05"/>
<circle cx="341.4" cy="381.4" r="1.05"/>
<circle cx="312.4" cy="383.9" r="1.05"/>
<circle cx="294.0" cy="392.7" r="1.05"/>
<circle cx="319.3" cy="397.2" r="1.05"/>
<circle cx="334.5" cy="392.2" r="1.05"/>
<circle cx="345.6" cy="399.1" r="1.05"/>
<circle cx="362.0" cy="393.0" r="1.05"/>
<circle cx="322.2" cy="380.3" r="1.05"/>
<circle cx="316.6" cy="404.6" r="1.05"/>
<circle cx="354.6" cy="402.1" r="1.05"/>
<circle cx="364.4" cy="384.6" r="1.05"/>
<circle cx="324.5" cy="407.6" r="1.05"/>
<circle cx="344.2" cy="395.5" r="1.05"/>
<circle cx="369.1" cy="392.4" r="1.05"/>
<circle cx="343.8" cy="408.9" r="1.05"/>
<circle cx="334.7" cy="368.0" r="1.05"/>
<circle cx="367.9" cy="397.8" r="1.05"/>
<circle cx="351.5" cy="388.9" r="1.05"/>
<circle cx="339.1" cy="382.4" r="1.05"/>
<circle cx="324.8" cy="405.2" r="1.05"/>
<circle cx="306.0" cy="395.7" r="1.05"/>
<circle cx="333.6" cy="379.4" r="1.05"/>
<circle cx="333.5" cy="385.1" r="1.05"/>
<circle cx="362.5" cy="399.0" r="1.05"/>
<circle cx="306.9" cy="407.8" r="1.05"/>
<circle cx="370.7" cy="372.7" r="1.05"/>
<circle cx="336.9" cy="393.5" r="1.05"/>
<circle cx="364.6" cy="387.7" r="1.05"/>
<circle cx="312.7" cy="375.1" r="1.05"/>
<circle cx="344.4" cy="389.7" r="1.05"/>
<circle cx="365.4" cy="376.4" r="1.05"/>
<circle cx="338.8" cy="386.3" r="1.05"/>
<circle cx="300.7" cy="406.2" r="1.05"/>
<circle cx="328.1" cy="396.0" r="1.05"/>
<circle cx="348.9" cy="398.5" r="1.05"/>
<circle cx="302.4" cy="396.8" r="1.05"/>
<circle cx="301.3" cy="394.6" r="1.05"/>
<circle cx="341.7" cy="400.3" r="1.05"/>
<circle cx="313.2" cy="380.5" r="1.05"/>
<circle cx="352.4" cy="388.0" r="1.05"/>
<circle cx="307.8" cy="399.2" r="1.05"/>
<circle cx="291.9" cy="384.5" r="1.05"/>
<circle cx="317.4" cy="387.2" r="1.05"/>
<circle cx="371.9" cy="402.5" r="1.05"/>
<circle cx="315.3" cy="405.5" r="1.05"/>
<circle cx="335.9" cy="385.7" r="1.05"/>
<circle cx="342.0" cy="383.8" r="1.05"/>
<circle cx="313.2" cy="396.7" r="1.05"/>
<circle cx="362.3" cy="393.8" r="1.05"/>
<circle cx="340.3" cy="385.1" r="1.05"/>
<circle cx="346.8" cy="396.9" r="1.05"/>
<circle cx="295.6" cy="396.5" r="1.05"/>
<circle cx="294.0" cy="392.1" r="1.05"/>
<circle cx="331.5" cy="404.0" r="1.05"/>
<circle cx="330.6" cy="398.9" r="1.05"/>
<circle cx="353.5" cy="400.9" r="1.05"/>
<circle cx="371.8" cy="418.8" r="1.05"/>
<circle cx="330.0" cy="401.5" r="1.05"/>
<circle cx="329.6" cy="384.7" r="1.05"/>
<circle cx="346.9" cy="394.4" r="1.05"/>
<circle cx="372.8" cy="392.1" r="1.05"/>
<circle cx="316.3" cy="386.1" r="1.05"/>
<circle cx="351.1" cy="393.8" r="1.05"/>
<circle cx="330.2" cy="393.7" r="1.05"/>
<circle cx="328.1" cy="390.9" r="1.05"/>
<circle cx="355.7" cy="386.9" r="1.05"/>
<circle cx="317.1" cy="399.1" r="1.05"/>
<circle cx="310.4" cy="376.6" r="1.05"/>
<circle cx="352.1" cy="399.0" r="1.05"/>
<circle cx="335.5" cy="391.5" r="1.05"/>
<circle cx="329.8" cy="393.9" r="1.05"/>
<circle cx="332.9" cy="369.3" r="1.05"/>
<circle cx="348.1" cy="407.0" r="1.05"/>
<circle cx="327.2" cy="375.3" r="1.05"/>
<circle cx="354.5" cy="383.4" r="1.05"/>
<circle cx="346.1" cy="397.4" r="1.05"/>
<circle cx="371.7" cy="385.8" r="1.05"/>
<circle cx="366.5" cy="387.6" r="1.05"/>
<circle cx="356.7" cy="370.7" r="1.05"/>
<circle cx="331.3" cy="387.3" r="1.05"/>
<circle cx="339.0" cy="393.4" r="1.05"/>
<circle cx="321.9" cy="397.7" r="1.05"/>
<circle cx="404.6" cy="388.7" r="1.05"/>
<circle cx="330.8" cy="393.4" r="1.05"/>
<circle cx="349.5" cy="395.5" r="1.05"/>
<circle cx="368.8" cy="385.1" r="1.05"/>
<circle cx="303.4" cy="384.4" r="1.05"/>
<circle cx="316.3" cy="409.6" r="1.05"/>
<circle cx="326.7" cy="383.5" r="1.05"/>
<circle cx="312.3" cy="402.9" r="1.05"/>
<circle cx="305.7" cy="392.1" r="1.05"/>
<circle cx="323.8" cy="405.1" r="1.05"/>
<circle cx="367.2" cy="385.5" r="1.05"/>
<circle cx="353.6" cy="396.2" r="1.05"/>
<circle cx="337.0" cy="394.5" r="1.05"/>
<circle cx="336.9" cy="389.3" r="1.05"/>
<circle cx="296.3" cy="394.3" r="1.05"/>
<circle cx="352.9" cy="384.3" r="1.05"/>
<circle cx="346.5" cy="390.7" r="1.05"/>
<circle cx="310.2" cy="387.7" r="1.05"/>
<circle cx="341.2" cy="398.5" r="1.05"/>
<circle cx="331.6" cy="390.6" r="1.05"/>
<circle cx="323.8" cy="378.5" r="1.05"/>
<circle cx="312.5" cy="388.0" r="1.05"/>
<circle cx="320.0" cy="390.5" r="1.05"/>
<circle cx="313.6" cy="383.0" r="1.05"/>
<circle cx="347.3" cy="403.8" r="1.05"/>
<circle cx="345.0" cy="395.2" r="1.05"/>
<circle cx="344.0" cy="399.3" r="1.05"/>
<circle cx="331.9" cy="384.3" r="1.05"/>
<circle cx="326.5" cy="387.7" r="1.05"/>
<circle cx="385.3" cy="400.8" r="1.05"/>
<circle cx="291.6" cy="378.1" r="1.05"/>
<circle cx="365.0" cy="394.9" r="1.05"/>
<circle cx="344.8" cy="392.3" r="1.05"/>
<circle cx="337.9" cy="386.8" r="1.05"/>
<circle cx="324.1" cy="392.3" r="1.05"/>
<circle cx="331.0" cy="381.4" r="1.05"/>
<circle cx="307.8" cy="393.5" r="1.05"/>
<circle cx="303.0" cy="380.1" r="1.05"/>
<circle cx="333.6" cy="379.5" r="1.05"/>
<circle cx="296.5" cy="404.5" r="1.05"/>
<circle cx="356.4" cy="384.9" r="1.05"/>
<circle cx="363.0" cy="371.7" r="1.05"/>
<circle cx="299.0" cy="384.2" r="1.05"/>
<circle cx="342.8" cy="358.6" r="1.05"/>
<circle cx="341.4" cy="390.9" r="1.05"/>
<circle cx="339.0" cy="400.1" r="1.05"/>
<circle cx="346.4" cy="394.7" r="1.05"/>
<circle cx="354.2" cy="407.5" r="1.05"/>
<circle cx="357.1" cy="390.3" r="1.05"/>
<circle cx="379.3" cy="397.0" r="1.05"/>
<circle cx="337.0" cy="382.0" r="1.05"/>
<circle cx="357.1" cy="393.0" r="1.05"/>
<circle cx="297.4" cy="405.7" r="1.05"/>
<circle cx="333.2" cy="396.1" r="1.05"/>
<circle cx="307.1" cy="393.0" r="1.05"/>
<circle cx="369.8" cy="373.0" r="1.05"/>
<circle cx="392.4" cy="387.9" r="1.05"/>
<circle cx="349.4" cy="379.4" r="1.05"/>
<circle cx="305.2" cy="398.7" r="1.05"/>
<circle cx="333.7" cy="384.5" r="1.05"/>
<circle cx="337.1" cy="394.8" r="1.05"/>
<circle cx="341.1" cy="382.1" r="1.05"/>
<circle cx="362.5" cy="409.1" r="1.05"/>
<circle cx="359.3" cy="380.5" r="1.05"/>
<circle cx="369.2" cy="416.0" r="1.05"/>
<circle cx="324.5" cy="393.5" r="1.05"/>
<circle cx="323.0" cy="383.3" r="1.05"/>
<circle cx="370.4" cy="397.2" r="1.05"/>
<circle cx="330.0" cy="400.7" r="1.05"/>
<circle cx="303.5" cy="399.6" r="1.05"/>
<circle cx="304.6" cy="373.0" r="1.05"/>
<circle cx="337.8" cy="393.5" r="1.05"/>
<circle cx="358.2" cy="371.6" r="1.05"/>
<circle cx="372.5" cy="409.2" r="1.05"/>
<circle cx="332.3" cy="392.1" r="1.05"/>
<circle cx="325.2" cy="387.1" r="1.05"/>
<circle cx="375.4" cy="397.7" r="1.05"/>
<circle cx="325.5" cy="396.0" r="1.05"/>
<circle cx="371.4" cy="380.4" r="1.05"/>
<circle cx="342.1" cy="406.7" r="1.05"/>
<circle cx="342.1" cy="389.2" r="1.05"/>
<circle cx="330.8" cy="375.0" r="1.05"/>
<circle cx="343.6" cy="404.6" r="1.05"/>
<circle cx="325.3" cy="405.8" r="1.05"/>
<circle cx="320.2" cy="403.2" r="1.05"/>
<circle cx="333.2" cy="396.6" r="1.05"/>
<circle cx="320.8" cy="383.1" r="1.05"/>
<circle cx="343.8" cy="400.3" r="1.05"/>
<circle cx="338.5" cy="408.9" r="1.05"/>
<circle cx="330.2" cy="399.1" r="1.05"/>
<circle cx="331.7" cy="406.5" r="1.05"/>
<circle cx="331.0" cy="384.2" r="1.05"/>
<circle cx="378.2" cy="401.0" r="1.05"/>
<circle cx="336.2" cy="400.3" r="1.05"/>
<circle cx="322.2" cy="377.5" r="1.05"/>
<circle cx="329.4" cy="376.2" r="1.05"/>
<circle cx="352.3" cy="384.7" r="1.05"/>
<circle cx="331.6" cy="392.2" r="1.05"/>
<circle cx="332.8" cy="395.7" r="1.05"/>
<circle cx="330.3" cy="389.4" r="1.05"/>
<circle cx="340.4" cy="390.9" r="1.05"/>
<circle cx="345.8" cy="390.4" r="1.05"/>
<circle cx="347.1" cy="392.3" r="1.05"/>
<circle cx="297.2" cy="397.0" r="1.05"/>
<circle cx="310.8" cy="396.2" r="1.05"/>
<circle cx="355.7" cy="393.9" r="1.05"/>
<circle cx="363.0" cy="387.2" r="1.05"/>
<circle cx="367.6" cy="399.0" r="1.05"/>
<circle cx="339.9" cy="386.7" r="1.05"/>
<circle cx="364.0" cy="407.0" r="1.05"/>
<circle cx="335.5" cy="391.3" r="1.05"/>
<circle cx="333.5" cy="394.1" r="1.05"/>
<circle cx="299.5" cy="384.3" r="1.05"/>
<circle cx="317.7" cy="388.3" r="1.05"/>
<circle cx="322.2" cy="393.1" r="1.05"/>
<circle cx="358.5" cy="391.7" r="1.05"/>
<circle cx="376.2" cy="385.6" r="1.05"/>
<circle cx="325.2" cy="380.6" r="1.05"/>
<circle cx="345.4" cy="391.9" r="1.05"/>
<circle cx="343.0" cy="393.0" r="1.05"/>
<circle cx="317.9" cy="396.7" r="1.05"/>
<circle cx="295.1" cy="403.3" r="1.05"/>
<circle cx="318.4" cy="388.6" r="1.05"/>
<circle cx="302.0" cy="372.7" r="1.05"/>
<circle cx="328.8" cy="390.2" r="1.05"/>
<circle cx="333.0" cy="374.1" r="1.05"/>
<circle cx="332.1" cy="379.4" r="1.05"/>
<circle cx="332.4" cy="401.2" r="1.05"/>
<circle cx="348.0" cy="396.9" r="1.05"/>
<circle cx="314.1" cy="385.4" r="1.05"/>
<circle cx="357.7" cy="385.5" r="1.05"/>
<circle cx="296.3" cy="390.7" r="1.05"/>
<circle cx="337.9" cy="374.9" r="1.05"/>
<circle cx="345.7" cy="396.0" r="1.05"/>
<circle cx="317.4" cy="388.2" r="1.05"/>
<circle cx="298.1" cy="408.9" r="1.05"/>
<circle cx="351.7" cy="381.5" r="1.05"/>
<circle cx="320.2" cy="401.0" r="1.05"/>
<circle cx="355.1" cy="385.1" r="1.05"/>
<circle cx="354.8" cy="401.2" r="1.05"/>
<circle cx="336.2" cy="382.3" r="1.05"/>
<circle cx="336.3" cy="398.5" r="1.05"/>
<circle cx="360.0" cy="387.4" r="1.05"/>
<circle cx="345.4" cy="383.7" r="1.05"/>
<circle cx="314.0" cy="390.1" r="1.05"/>
<circle cx="340.4" cy="396.0" r="1.05"/>
<circle cx="349.6" cy="395.4" r="1.05"/>
<circle cx="341.2" cy="406.5" r="1.05"/>
<circle cx="340.9" cy="399.3" r="1.05"/>
<circle cx="332.8" cy="366.6" r="1.05"/>
<circle cx="333.5" cy="387.7" r="1.05"/>
<circle cx="314.0" cy="372.7" r="1.05"/>
<circle cx="302.1" cy="387.9" r="1.05"/>
<circle cx="363.3" cy="397.4" r="1.05"/>
<circle cx="321.1" cy="378.9" r="1.05"/>
<circle cx="341.7" cy="380.4" r="1.05"/>
<circle cx="300.5" cy="392.9" r="1.05"/>
<circle cx="340.1" cy="388.8" r="1.05"/>
<circle cx="316.6" cy="406.5" r="1.05"/>
<circle cx="312.0" cy="396.6" r="1.05"/>
<circle cx="313.3" cy="408.1" r="1.05"/>
<circle cx="358.9" cy="386.8" r="1.05"/>
<circle cx="363.5" cy="391.5" r="1.05"/>
<circle cx="342.4" cy="394.0" r="1.05"/>
<circle cx="357.3" cy="401.3" r="1.05"/>
<circle cx="307.1" cy="404.5" r="1.05"/>
<circle cx="352.7" cy="391.2" r="1.05"/>
<circle cx="323.7" cy="384.8" r="1.05"/>
<circle cx="312.5" cy="384.3" r="1.05"/>
<circle cx="328.0" cy="378.3" r="1.05"/>
<circle cx="325.3" cy="392.7" r="1.05"/>
<circle cx="303.1" cy="404.4" r="1.05"/>
<circle cx="389.7" cy="369.1" r="1.05"/>
<circle cx="325.5" cy="370.9" r="1.05"/>
<circle cx="318.5" cy="404.8" r="1.05"/>
<circle cx="356.7" cy="376.3" r="1.05"/>
<circle cx="334.6" cy="394.7" r="1.05"/>
<circle cx="368.1" cy="379.6" r="1.05"/>
<circle cx="329.9" cy="399.0" r="1.05"/>
<circle cx="344.7" cy="399.0" r="1.05"/>
<circle cx="338.5" cy="393.2" r="1.05"/>
<circle cx="340.3" cy="399.4" r="1.05"/>
<circle cx="331.3" cy="392.1" r="1.05"/>
<circle cx="333.8" cy="396.9" r="1.05"/>
<circle cx="376.3" cy="408.9" r="1.05"/>
<circle cx="320.1" cy="402.0" r="1.05"/>
<circle cx="323.3" cy="385.4" r="1.05"/>
<circle cx="328.1" cy="384.0" r="1.05"/>
<circle cx="349.9" cy="389.3" r="1.05"/>
<circle cx="345.9" cy="389.4" r="1.05"/>
<circle cx="358.6" cy="392.3" r="1.05"/>
<circle cx="304.4" cy="385.9" r="1.05"/>
<circle cx="342.5" cy="397.8" r="1.05"/>
<circle cx="332.1" cy="392.0" r="1.05"/>
<circle cx="329.5" cy="395.1" r="1.05"/>
<circle cx="340.2" cy="391.7" r="1.05"/>
<circle cx="342.8" cy="380.3" r="1.05"/>
<circle cx="339.7" cy="406.6" r="1.05"/>
<circle cx="302.3" cy="394.9" r="1.05"/>
<circle cx="334.0" cy="395.9" r="1.05"/>
<circle cx="373.2" cy="397.5" r="1.05"/>
<circle cx="327.1" cy="401.9" r="1.05"/>
<circle cx="350.4" cy="398.7" r="1.05"/>
<circle cx="330.9" cy="393.9" r="1.05"/>
<circle cx="317.0" cy="389.9" r="1.05"/>
<circle cx="314.4" cy="376.1" r="1.05"/>
<circle cx="326.9" cy="393.7" r="1.05"/>
<circle cx="367.2" cy="388.7" r="1.05"/>
<circle cx="355.7" cy="388.7" r="1.05"/>
<circle cx="319.5" cy="414.5" r="1.05"/>
<circle cx="360.1" cy="374.0" r="1.05"/>
<circle cx="333.3" cy="392.2" r="1.05"/>
<circle cx="319.9" cy="403.2" r="1.05"/>
<circle cx="346.5" cy="400.8" r="1.05"/>
<circle cx="314.6" cy="403.5" r="1.05"/>
<circle cx="299.0" cy="379.7" r="1.05"/>
<circle cx="367.1" cy="382.6" r="1.05"/>
<circle cx="292.9" cy="397.6" r="1.05"/>
<circle cx="349.2" cy="388.9" r="1.05"/>
<circle cx="300.1" cy="408.0" r="1.05"/>
<circle cx="335.6" cy="393.9" r="1.05"/>
<circle cx="331.6" cy="393.6" r="1.05"/>
<circle cx="325.9" cy="395.9" r="1.05"/>
<circle cx="333.7" cy="392.9" r="1.05"/>
<circle cx="335.5" cy="385.3" r="1.05"/>
<circle cx="315.0" cy="391.4" r="1.05"/>
<circle cx="334.7" cy="387.2" r="1.05"/>
<circle cx="359.9" cy="394.2" r="1.05"/>
<circle cx="319.3" cy="378.3" r="1.05"/>
<circle cx="342.4" cy="377.6" r="1.05"/>
<circle cx="309.1" cy="396.1" r="1.05"/>
<circle cx="345.4" cy="393.9" r="1.05"/>
<circle cx="351.5" cy="382.6" r="1.05"/>
<circle cx="395.2" cy="389.6" r="1.05"/>
<circle cx="357.8" cy="381.8" r="1.05"/>
<circle cx="346.6" cy="411.2" r="1.05"/>
<circle cx="369.8" cy="377.0" r="1.05"/>
<circle cx="312.8" cy="408.1" r="1.05"/>
<circle cx="361.8" cy="384.0" r="1.05"/>
<circle cx="323.5" cy="395.8" r="1.05"/>
<circle cx="321.7" cy="389.3" r="1.05"/>
<circle cx="362.4" cy="388.2" r="1.05"/>
<circle cx="342.0" cy="400.7" r="1.05"/>
<circle cx="367.8" cy="399.6" r="1.05"/>
<circle cx="302.1" cy="389.1" r="1.05"/>
<circle cx="342.9" cy="383.2" r="1.05"/>
<circle cx="324.0" cy="411.5" r="1.05"/>
<circle cx="330.0" cy="405.2" r="1.05"/>
<circle cx="291.3" cy="393.2" r="1.05"/>
<circle cx="358.6" cy="389.0" r="1.05"/>
<circle cx="341.4" cy="394.6" r="1.05"/>
<circle cx="313.2" cy="392.6" r="1.05"/>
<circle cx="304.6" cy="403.2" r="1.05"/>
<circle cx="315.9" cy="382.7" r="1.05"/>
<circle cx="369.5" cy="392.0" r="1.05"/>
<circle cx="334.1" cy="384.4" r="1.05"/>
<circle cx="328.6" cy="404.3" r="1.05"/>
<circle cx="348.2" cy="409.0" r="1.05"/>
<circle cx="336.8" cy="391.0" r="1.05"/>
<circle cx="342.0" cy="397.0" r="1.05"/>
<circle cx="354.1" cy="405.2" r="1.05"/>
<circle cx="344.4" cy="389.0" r="1.05"/>
<circle cx="357.3" cy="383.0" r="1.05"/>
<circle cx="308.4" cy="401.7" r="1.05"/>
<circle cx="338.1" cy="396.7" r="1.05"/>
<circle cx="328.3" cy="389.9" r="1.05"/>
<circle cx="339.2" cy="405.7" r="1.05"/>
<circle cx="335.7" cy="394.1" r="1.05"/>
<circle cx="321.7" cy="374.9" r="1.05"/>
<circle cx="328.5" cy="395.2" r="1.05"/>
<circle cx="359.0" cy="391.3" r="1.05"/>
<circle cx="323.7" cy="409.7" r="1.05"/>
<circle cx="307.4" cy="391.7" r="1.05"/>
<circle cx="350.7" cy="389.9" r="1.05"/>
<circle cx="359.7" cy="396.0" r="1.05"/>
<circle cx="330.4" cy="394.2" r="1.05"/>
<circle cx="339.8" cy="378.5" r="1.05"/>
<circle cx="317.1" cy="393.0" r="1.05"/>
<circle cx="332.0" cy="388.8" r="1.05"/>
<circle cx="362.9" cy="405.2" r="1.05"/>
<circle cx="355.7" cy="414.7" r="1.05"/>
<circle cx="340.3" cy="381.3" r="1.05"/>
<circle cx="330.4" cy="382.7" r="1.05"/>
<circle cx="298.5" cy="383.9" r="1.05"/>
<circle cx="344.3" cy="385.6" r="1.05"/>
<circle cx="347.7" cy="385.3" r="1.05"/>
<circle cx="361.7" cy="392.4" r="1.05"/>
<circle cx="384.3" cy="402.2" r="1.05"/>
<circle cx="345.8" cy="379.5" r="1.05"/>
<circle cx="359.4" cy="377.3" r="1.05"/>
<circle cx="310.7" cy="374.4" r="1.05"/>
<circle cx="365.3" cy="402.4" r="1.05"/>
<circle cx="357.4" cy="404.5" r="1.05"/>
<circle cx="369.0" cy="377.3" r="1.05"/>
<circle cx="352.8" cy="376.4" r="1.05"/>
<circle cx="347.6" cy="393.1" r="1.05"/>
<circle cx="371.7" cy="402.3" r="1.05"/>
<circle cx="321.4" cy="401.5" r="1.05"/>
<circle cx="352.1" cy="393.7" r="1.05"/>
<circle cx="362.5" cy="398.4" r="1.05"/>
<circle cx="318.6" cy="395.0" r="1.05"/>
<circle cx="310.0" cy="386.6" r="1.05"/>
<circle cx="347.2" cy="410.0" r="1.05"/>
<circle cx="340.0" cy="391.9" r="1.05"/>
<circle cx="351.4" cy="381.3" r="1.05"/>
<circle cx="334.4" cy="420.4" r="1.05"/>
<circle cx="318.3" cy="351.3" r="1.05"/>
<circle cx="341.7" cy="417.4" r="1.05"/>
<circle cx="357.9" cy="385.2" r="1.05"/>
<circle cx="322.4" cy="372.1" r="1.05"/>
<circle cx="358.3" cy="379.3" r="1.05"/>
<circle cx="372.8" cy="454.2" r="1.05"/>
<circle cx="347.1" cy="366.2" r="1.05"/>
<circle cx="324.0" cy="391.2" r="1.05"/>
<circle cx="328.6" cy="437.7" r="1.05"/>
<circle cx="336.4" cy="424.8" r="1.05"/>
<circle cx="322.2" cy="362.7" r="1.05"/>
<circle cx="322.7" cy="404.5" r="1.05"/>
<circle cx="337.5" cy="393.9" r="1.05"/>
<circle cx="338.7" cy="402.3" r="1.05"/>
<circle cx="350.5" cy="427.1" r="1.05"/>
<circle cx="323.4" cy="392.3" r="1.05"/>
<circle cx="369.5" cy="399.0" r="1.05"/>
<circle cx="357.4" cy="445.6" r="1.05"/>
<circle cx="354.8" cy="359.2" r="1.05"/>
<circle cx="331.7" cy="397.7" r="1.05"/>
<circle cx="367.5" cy="419.7" r="1.05"/>
<circle cx="336.3" cy="374.8" r="1.05"/>
<circle cx="368.7" cy="390.9" r="1.05"/>
<circle cx="357.5" cy="373.0" r="1.05"/>
<circle cx="328.0" cy="411.5" r="1.05"/>
<circle cx="334.6" cy="391.1" r="1.05"/>
<circle cx="369.5" cy="428.0" r="1.05"/>
<circle cx="356.5" cy="434.1" r="1.05"/>
<circle cx="339.1" cy="408.6" r="1.05"/>
<circle cx="344.5" cy="397.4" r="1.05"/>
<circle cx="344.4" cy="414.2" r="1.05"/>
<circle cx="329.8" cy="408.9" r="1.05"/>
<circle cx="338.4" cy="375.5" r="1.05"/>
<circle cx="331.5" cy="435.4" r="1.05"/>
<circle cx="335.0" cy="413.3" r="1.05"/>
<circle cx="348.4" cy="428.0" r="1.05"/>
<circle cx="327.1" cy="371.7" r="1.05"/>
<circle cx="352.3" cy="430.3" r="1.05"/>
<circle cx="352.9" cy="423.5" r="1.05"/>
<circle cx="354.8" cy="369.4" r="1.05"/>
<circle cx="360.1" cy="408.3" r="1.05"/>
<circle cx="350.9" cy="405.8" r="1.05"/>
<circle cx="352.1" cy="413.1" r="1.05"/>
<circle cx="338.7" cy="401.2" r="1.05"/>
<circle cx="350.0" cy="420.3" r="1.05"/>
<circle cx="327.9" cy="395.1" r="1.05"/>
<circle cx="337.7" cy="413.3" r="1.05"/>
<circle cx="352.7" cy="389.3" r="1.05"/>
<circle cx="340.6" cy="409.9" r="1.05"/>
<circle cx="348.1" cy="433.4" r="1.05"/>
<circle cx="325.6" cy="394.4" r="1.05"/>
<circle cx="362.0" cy="424.8" r="1.05"/>
<circle cx="332.8" cy="384.0" r="1.05"/>
<circle cx="347.4" cy="397.5" r="1.05"/>
<circle cx="341.1" cy="401.1" r="1.05"/>
<circle cx="355.4" cy="440.0" r="1.05"/>
<circle cx="335.7" cy="387.2" r="1.05"/>
<circle cx="326.4" cy="439.2" r="1.05"/>
<circle cx="312.9" cy="368.8" r="1.05"/>
<circle cx="336.8" cy="403.1" r="1.05"/>
<circle cx="323.5" cy="431.2" r="1.05"/>
<circle cx="349.5" cy="425.5" r="1.05"/>
<circle cx="363.1" cy="380.8" r="1.05"/>
<circle cx="308.0" cy="375.1" r="1.05"/>
<circle cx="322.0" cy="430.3" r="1.05"/>
<circle cx="346.1" cy="374.1" r="1.05"/>
<circle cx="360.0" cy="422.5" r="1.05"/>
<circle cx="346.0" cy="393.6" r="1.05"/>
<circle cx="346.3" cy="406.9" r="1.05"/>
<circle cx="350.1" cy="447.9" r="1.05"/>
<circle cx="366.1" cy="429.3" r="1.05"/>
<circle cx="350.6" cy="371.0" r="1.05"/>
<circle cx="322.8" cy="415.6" r="1.05"/>
<circle cx="334.3" cy="408.6" r="1.05"/>
<circle cx="344.6" cy="404.6" r="1.05"/>
<circle cx="329.2" cy="442.3" r="1.05"/>
<circle cx="337.5" cy="362.0" r="1.05"/>
<circle cx="333.5" cy="415.5" r="1.05"/>
<circle cx="330.9" cy="410.5" r="1.05"/>
<circle cx="351.9" cy="387.4" r="1.05"/>
<circle cx="335.6" cy="452.6" r="1.05"/>
<circle cx="325.0" cy="373.9" r="1.05"/>
<circle cx="330.6" cy="407.9" r="1.05"/>
<circle cx="342.0" cy="409.3" r="1.05"/>
<circle cx="373.2" cy="349.5" r="1.05"/>
<circle cx="345.3" cy="369.5" r="1.05"/>
<circle cx="363.8" cy="381.6" r="1.05"/>
</g>
<polygon points="294.80,386.81 297.52,387.32 300.23,387.84 302.95,388.34 305.66,388.85 308.38,389.36 311.09,389.86 313.81,390.35 316.52,390.84 319.24,391.33 321.95,391.80 324.67,392.27 327.38,392.72 330.10,393.15 332.82,393.56 335.53,393.95 338.25,394.30 340.96,394.62 343.68,394.90 346.39,395.15 349.11,395.37 351.82,395.57 354.54,395.75 357.25,395.91 359.97,396.07 362.68,396.21 365.40,396.35 368.12,396.48 370.83,396.61 373.55,396.73 376.26,396.85 378.98,396.96 381.69,397.08 384.41,397.19 387.12,397.30 389.84,397.41 392.55,397.52 395.27,397.63 397.98,397.74 400.70,397.85 400.70,407.75 397.98,407.23 395.27,406.72 392.55,406.20 389.84,405.68 387.12,405.17 384.41,404.65 381.69,404.14 378.98,403.63 376.26,403.12 373.55,402.62 370.83,402.11 368.12,401.61 365.40,401.12 362.68,400.63 359.97,400.15 357.25,399.68 354.54,399.21 351.82,398.77 349.11,398.34 346.39,397.94 343.68,397.56 340.96,397.22 338.25,396.91 335.53,396.64 332.82,396.40 330.10,396.18 327.38,395.99 324.67,395.82 321.95,395.65 319.24,395.50 316.52,395.36 313.81,395.23 311.09,395.10 308.38,394.97 305.66,394.85 302.95,394.73 300.23,394.62 297.52,394.50 294.80,394.39" fill="#999" fill-opacity="0.43"/>
<line x1="294.8" y1="390.6" x2="400.7" y2="402.8" stroke="#4068e0" stroke-width="1.6"/>
<rect x="289.70" y="343.50" width="117.10" height="115.30" fill="none" stroke="#8f8f8f" stroke-width="0.8"/>
<line x1="289.70" y1="343.50" x2="406.80" y2="343.50" stroke="#777" stroke-width="1.1"/>
<text x="372.90" y="352.10" font-size="7.2" fill="#e8303c" stroke="#e8303c" stroke-width="0.1">r = −0.156</text>
<text x="372.90" y="359.70" font-size="7.2" fill="#e8303c" stroke="#e8303c" stroke-width="0.1"><tspan font-style="italic">P</tspan>&#160;&lt;&#160;0.001</text>
<line x1="290.20" y1="458.80" x2="290.20" y2="460.40" stroke="#555" stroke-width="0.7"/>
<text x="290.20" y="467.10" font-size="7.0" fill="#555" text-anchor="middle" font-weight="normal" >-0.2</text>
<line x1="315.20" y1="458.80" x2="315.20" y2="460.40" stroke="#555" stroke-width="0.7"/>
<text x="315.20" y="467.10" font-size="7.0" fill="#555" text-anchor="middle" font-weight="normal" >-0.1</text>
<line x1="340.20" y1="458.80" x2="340.20" y2="460.40" stroke="#555" stroke-width="0.7"/>
<text x="340.20" y="467.10" font-size="7.0" fill="#555" text-anchor="middle" font-weight="normal" >0.0</text>
<line x1="365.20" y1="458.80" x2="365.20" y2="460.40" stroke="#555" stroke-width="0.7"/>
<text x="365.20" y="467.10" font-size="7.0" fill="#555" text-anchor="middle" font-weight="normal" >0.1</text>
<line x1="390.20" y1="458.80" x2="390.20" y2="460.40" stroke="#555" stroke-width="0.7"/>
<text x="390.20" y="467.10" font-size="7.0" fill="#555" text-anchor="middle" font-weight="normal" >0.2</text>
<text x="349.10" y="476.20" font-size="8.8" fill="#222" text-anchor="middle" font-weight="normal" stroke="#222" stroke-width="0.15">Infiltration Level</text>
<rect x="413.20" y="332.30" width="116.40" height="11.00" fill="#d9d9d9" stroke="#333" stroke-width="1.3"/>
<text x="474.20" y="340.00" font-size="7.1" fill="#111" stroke="#111" stroke-width="0.08" text-anchor="middle">Cancer-associated fibroblast</text>
<rect x="413.20" y="343.30" width="116.40" height="115.50" fill="#fff"/>
<g stroke="#efefef" stroke-width="0.8">
<line x1="418.40" y1="343.30" x2="418.40" y2="458.80"/>
<line x1="431.22" y1="343.30" x2="431.22" y2="458.80" stroke="#f6f6f6"/>
<line x1="444.03" y1="343.30" x2="444.03" y2="458.80"/>
<line x1="456.85" y1="343.30" x2="456.85" y2="458.80" stroke="#f6f6f6"/>
<line x1="469.67" y1="343.30" x2="469.67" y2="458.80"/>
<line x1="482.49" y1="343.30" x2="482.49" y2="458.80" stroke="#f6f6f6"/>
<line x1="495.30" y1="343.30" x2="495.30" y2="458.80"/>
<line x1="508.12" y1="343.30" x2="508.12" y2="458.80" stroke="#f6f6f6"/>
<line x1="520.94" y1="343.30" x2="520.94" y2="458.80"/>
<line x1="413.20" y1="426.70" x2="529.60" y2="426.70"/>
<line x1="413.20" y1="395.00" x2="529.60" y2="395.00"/>
<line x1="413.20" y1="363.30" x2="529.60" y2="363.30"/>
<line x1="413.20" y1="442.55" x2="529.60" y2="442.55" stroke="#f6f6f6"/>
<line x1="413.20" y1="410.85" x2="529.60" y2="410.85" stroke="#f6f6f6"/>
<line x1="413.20" y1="379.15" x2="529.60" y2="379.15" stroke="#f6f6f6"/>
<line x1="413.20" y1="347.45" x2="529.60" y2="347.45" stroke="#f6f6f6"/>
</g>
<g fill="#4d4d4d" fill-opacity="0.72">
<circle cx="431.6" cy="396.5" r="1.05"/>
<circle cx="430.1" cy="391.8" r="1.05"/>
<circle cx="423.5" cy="373.7" r="1.05"/>
<circle cx="437.0" cy="402.9" r="1.05"/>
<circle cx="431.0" cy="385.8" r="1.05"/>
<circle cx="421.6" cy="388.7" r="1.05"/>
<circle cx="421.1" cy="395.7" r="1.05"/>
<circle cx="421.2" cy="394.4" r="1.05"/>
<circle cx="422.3" cy="405.0" r="1.05"/>
<circle cx="429.0" cy="386.5" r="1.05"/>
<circle cx="427.4" cy="395.1" r="1.05"/>
<circle cx="437.5" cy="396.3" r="1.05"/>
<circle cx="428.8" cy="393.7" r="1.05"/>
<circle cx="433.6" cy="400.4" r="1.05"/>
<circle cx="424.9" cy="390.8" r="1.05"/>
<circle cx="423.6" cy="405.8" r="1.05"/>
<circle cx="422.6" cy="386.1" r="1.05"/>
<circle cx="421.1" cy="378.6" r="1.05"/>
<circle cx="442.6" cy="393.0" r="1.05"/>
<circle cx="422.0" cy="405.6" r="1.05"/>
<circle cx="434.0" cy="388.1" r="1.05"/>
<circle cx="423.8" cy="387.0" r="1.05"/>
<circle cx="429.4" cy="389.9" r="1.05"/>
<circle cx="430.0" cy="395.1" r="1.05"/>
<circle cx="436.4" cy="391.6" r="1.05"/>
<circle cx="422.9" cy="396.6" r="1.05"/>
<circle cx="427.2" cy="375.7" r="1.05"/>
<circle cx="423.9" cy="408.9" r="1.05"/>
<circle cx="430.1" cy="399.4" r="1.05"/>
<circle cx="435.1" cy="384.6" r="1.05"/>
<circle cx="422.0" cy="407.6" r="1.05"/>
<circle cx="431.8" cy="398.1" r="1.05"/>
<circle cx="424.2" cy="408.6" r="1.05"/>
<circle cx="420.3" cy="381.3" r="1.05"/>
<circle cx="422.0" cy="410.5" r="1.05"/>
<circle cx="428.9" cy="393.9" r="1.05"/>
<circle cx="427.0" cy="372.2" r="1.05"/>
<circle cx="422.4" cy="401.2" r="1.05"/>
<circle cx="424.1" cy="390.3" r="1.05"/>
<circle cx="426.4" cy="383.0" r="1.05"/>
<circle cx="431.7" cy="391.2" r="1.05"/>
<circle cx="421.8" cy="373.4" r="1.05"/>
<circle cx="421.4" cy="399.4" r="1.05"/>
<circle cx="433.5" cy="391.2" r="1.05"/>
<circle cx="424.5" cy="390.6" r="1.05"/>
<circle cx="421.5" cy="408.0" r="1.05"/>
<circle cx="434.9" cy="393.8" r="1.05"/>
<circle cx="428.3" cy="386.6" r="1.05"/>
<circle cx="422.8" cy="383.6" r="1.05"/>
<circle cx="425.4" cy="392.8" r="1.05"/>
<circle cx="426.2" cy="404.4" r="1.05"/>
<circle cx="421.6" cy="387.4" r="1.05"/>
<circle cx="422.1" cy="382.7" r="1.05"/>
<circle cx="437.5" cy="402.9" r="1.05"/>
<circle cx="427.9" cy="394.0" r="1.05"/>
<circle cx="426.7" cy="393.2" r="1.05"/>
<circle cx="426.7" cy="414.9" r="1.05"/>
<circle cx="424.4" cy="380.9" r="1.05"/>
<circle cx="425.9" cy="395.5" r="1.05"/>
<circle cx="433.1" cy="375.1" r="1.05"/>
<circle cx="424.3" cy="390.3" r="1.05"/>
<circle cx="430.1" cy="399.5" r="1.05"/>
<circle cx="420.0" cy="405.0" r="1.05"/>
<circle cx="425.5" cy="380.3" r="1.05"/>
<circle cx="430.6" cy="402.0" r="1.05"/>
<circle cx="427.4" cy="401.5" r="1.05"/>
<circle cx="422.5" cy="392.2" r="1.05"/>
<circle cx="429.1" cy="418.8" r="1.05"/>
<circle cx="438.4" cy="393.4" r="1.05"/>
<circle cx="419.4" cy="384.4" r="1.05"/>
<circle cx="426.9" cy="397.8" r="1.05"/>
<circle cx="426.5" cy="374.2" r="1.05"/>
<circle cx="427.1" cy="409.5" r="1.05"/>
<circle cx="421.5" cy="403.6" r="1.05"/>
<circle cx="436.1" cy="389.3" r="1.05"/>
<circle cx="421.6" cy="399.7" r="1.05"/>
<circle cx="425.6" cy="398.9" r="1.05"/>
<circle cx="430.2" cy="413.3" r="1.05"/>
<circle cx="431.6" cy="387.1" r="1.05"/>
<circle cx="438.4" cy="380.1" r="1.05"/>
<circle cx="421.6" cy="372.5" r="1.05"/>
<circle cx="422.7" cy="390.4" r="1.05"/>
<circle cx="431.2" cy="377.3" r="1.05"/>
<circle cx="429.5" cy="391.6" r="1.05"/>
<circle cx="425.4" cy="397.6" r="1.05"/>
<circle cx="425.6" cy="388.9" r="1.05"/>
<circle cx="425.0" cy="383.7" r="1.05"/>
<circle cx="424.5" cy="405.7" r="1.05"/>
<circle cx="420.3" cy="391.4" r="1.05"/>
<circle cx="435.6" cy="395.8" r="1.05"/>
<circle cx="420.6" cy="403.2" r="1.05"/>
<circle cx="428.7" cy="380.0" r="1.05"/>
<circle cx="422.9" cy="383.9" r="1.05"/>
<circle cx="435.0" cy="419.1" r="1.05"/>
<circle cx="422.4" cy="391.8" r="1.05"/>
<circle cx="422.4" cy="382.7" r="1.05"/>
<circle cx="432.2" cy="390.8" r="1.05"/>
<circle cx="421.6" cy="387.5" r="1.05"/>
<circle cx="430.1" cy="380.8" r="1.05"/>
<circle cx="423.6" cy="389.2" r="1.05"/>
<circle cx="425.3" cy="393.2" r="1.05"/>
<circle cx="433.4" cy="393.3" r="1.05"/>
<circle cx="431.8" cy="399.0" r="1.05"/>
<circle cx="423.4" cy="375.6" r="1.05"/>
<circle cx="428.7" cy="378.0" r="1.05"/>
<circle cx="429.1" cy="401.5" r="1.05"/>
<circle cx="430.7" cy="388.9" r="1.05"/>
<circle cx="423.2" cy="405.9" r="1.05"/>
<circle cx="441.0" cy="396.5" r="1.05"/>
<circle cx="422.6" cy="378.9" r="1.05"/>
<circle cx="420.8" cy="398.9" r="1.05"/>
<circle cx="424.2" cy="383.0" r="1.05"/>
<circle cx="426.4" cy="396.1" r="1.05"/>
<circle cx="449.6" cy="406.1" r="1.05"/>
<circle cx="422.0" cy="415.2" r="1.05"/>
<circle cx="425.2" cy="392.7" r="1.05"/>
<circle cx="422.8" cy="400.6" r="1.05"/>
<circle cx="426.1" cy="396.5" r="1.05"/>
<circle cx="424.5" cy="401.6" r="1.05"/>
<circle cx="435.0" cy="367.2" r="1.05"/>
<circle cx="422.1" cy="389.4" r="1.05"/>
<circle cx="422.8" cy="396.4" r="1.05"/>
<circle cx="428.8" cy="398.2" r="1.05"/>
<circle cx="425.8" cy="385.7" r="1.05"/>
<circle cx="433.4" cy="401.9" r="1.05"/>
<circle cx="423.2" cy="404.8" r="1.05"/>
<circle cx="432.1" cy="394.1" r="1.05"/>
<circle cx="423.3" cy="391.1" r="1.05"/>
<circle cx="422.3" cy="389.7" r="1.05"/>
<circle cx="431.4" cy="394.8" r="1.05"/>
<circle cx="427.2" cy="405.5" r="1.05"/>
<circle cx="427.0" cy="408.8" r="1.05"/>
<circle cx="421.3" cy="388.6" r="1.05"/>
<circle cx="423.0" cy="383.9" r="1.05"/>
<circle cx="427.3" cy="385.3" r="1.05"/>
<circle cx="422.8" cy="403.5" r="1.05"/>
<circle cx="421.5" cy="395.7" r="1.05"/>
<circle cx="422.7" cy="396.5" r="1.05"/>
<circle cx="425.3" cy="398.4" r="1.05"/>
<circle cx="421.0" cy="397.3" r="1.05"/>
<circle cx="431.6" cy="392.2" r="1.05"/>
<circle cx="420.6" cy="382.7" r="1.05"/>
<circle cx="424.4" cy="387.1" r="1.05"/>
<circle cx="426.4" cy="394.7" r="1.05"/>
<circle cx="422.9" cy="397.4" r="1.05"/>
<circle cx="425.2" cy="389.6" r="1.05"/>
<circle cx="419.9" cy="389.2" r="1.05"/>
<circle cx="423.1" cy="407.5" r="1.05"/>
<circle cx="429.2" cy="388.6" r="1.05"/>
<circle cx="426.8" cy="395.7" r="1.05"/>
<circle cx="424.0" cy="390.2" r="1.05"/>
<circle cx="427.8" cy="384.6" r="1.05"/>
<circle cx="423.8" cy="377.9" r="1.05"/>
<circle cx="423.6" cy="387.9" r="1.05"/>
<circle cx="430.5" cy="385.0" r="1.05"/>
<circle cx="423.6" cy="402.1" r="1.05"/>
<circle cx="422.5" cy="381.6" r="1.05"/>
<circle cx="430.8" cy="389.2" r="1.05"/>
<circle cx="445.1" cy="400.1" r="1.05"/>
<circle cx="419.7" cy="392.3" r="1.05"/>
<circle cx="435.6" cy="398.5" r="1.05"/>
<circle cx="438.9" cy="402.0" r="1.05"/>
<circle cx="422.5" cy="376.4" r="1.05"/>
<circle cx="420.8" cy="389.2" r="1.05"/>
<circle cx="421.7" cy="383.6" r="1.05"/>
<circle cx="429.7" cy="407.2" r="1.05"/>
<circle cx="422.2" cy="392.2" r="1.05"/>
<circle cx="420.1" cy="398.5" r="1.05"/>
<circle cx="420.1" cy="410.8" r="1.05"/>
<circle cx="428.3" cy="389.8" r="1.05"/>
<circle cx="425.5" cy="394.2" r="1.05"/>
<circle cx="425.6" cy="397.6" r="1.05"/>
<circle cx="424.1" cy="390.7" r="1.05"/>
<circle cx="433.9" cy="406.2" r="1.05"/>
<circle cx="424.0" cy="401.8" r="1.05"/>
<circle cx="425.8" cy="403.6" r="1.05"/>
<circle cx="433.5" cy="393.9" r="1.05"/>
<circle cx="428.6" cy="389.9" r="1.05"/>
<circle cx="420.7" cy="389.8" r="1.05"/>
<circle cx="438.3" cy="389.7" r="1.05"/>
<circle cx="422.0" cy="376.7" r="1.05"/>
<circle cx="421.1" cy="397.1" r="1.05"/>
<circle cx="428.2" cy="401.7" r="1.05"/>
<circle cx="420.5" cy="393.3" r="1.05"/>
<circle cx="422.8" cy="388.4" r="1.05"/>
<circle cx="431.9" cy="393.8" r="1.05"/>
<circle cx="428.3" cy="395.7" r="1.05"/>
<circle cx="425.6" cy="396.7" r="1.05"/>
<circle cx="434.9" cy="411.7" r="1.05"/>
<circle cx="423.2" cy="384.7" r="1.05"/>
<circle cx="421.5" cy="397.1" r="1.05"/>
<circle cx="433.9" cy="400.4" r="1.05"/>
<circle cx="436.5" cy="394.2" r="1.05"/>
<circle cx="426.0" cy="391.0" r="1.05"/>
<circle cx="428.4" cy="383.0" r="1.05"/>
<circle cx="429.5" cy="387.4" r="1.05"/>
<circle cx="424.8" cy="400.6" r="1.05"/>
<circle cx="419.6" cy="408.2" r="1.05"/>
<circle cx="429.4" cy="386.7" r="1.05"/>
<circle cx="423.8" cy="398.2" r="1.05"/>
<circle cx="427.1" cy="398.7" r="1.05"/>
<circle cx="425.2" cy="403.6" r="1.05"/>
<circle cx="433.7" cy="395.9" r="1.05"/>
<circle cx="428.0" cy="397.9" r="1.05"/>
<circle cx="425.6" cy="402.5" r="1.05"/>
<circle cx="419.5" cy="381.6" r="1.05"/>
<circle cx="423.4" cy="393.9" r="1.05"/>
<circle cx="437.4" cy="375.5" r="1.05"/>
<circle cx="441.5" cy="373.4" r="1.05"/>
<circle cx="430.9" cy="385.0" r="1.05"/>
<circle cx="426.3" cy="377.8" r="1.05"/>
<circle cx="424.5" cy="398.5" r="1.05"/>
<circle cx="419.7" cy="403.4" r="1.05"/>
<circle cx="422.0" cy="390.3" r="1.05"/>
<circle cx="428.0" cy="392.0" r="1.05"/>
<circle cx="423.7" cy="391.0" r="1.05"/>
<circle cx="429.2" cy="390.7" r="1.05"/>
<circle cx="428.4" cy="394.7" r="1.05"/>
<circle cx="436.6" cy="396.9" r="1.05"/>
<circle cx="434.4" cy="388.7" r="1.05"/>
<circle cx="429.1" cy="385.4" r="1.05"/>
<circle cx="430.2" cy="388.1" r="1.05"/>
<circle cx="435.5" cy="401.5" r="1.05"/>
<circle cx="430.2" cy="389.1" r="1.05"/>
<circle cx="422.4" cy="408.0" r="1.05"/>
<circle cx="426.0" cy="390.9" r="1.05"/>
<circle cx="428.6" cy="407.2" r="1.05"/>
<circle cx="440.2" cy="381.3" r="1.05"/>
<circle cx="425.9" cy="386.4" r="1.05"/>
<circle cx="421.5" cy="398.2" r="1.05"/>
<circle cx="440.0" cy="398.3" r="1.05"/>
<circle cx="420.1" cy="391.8" r="1.05"/>
<circle cx="426.6" cy="413.9" r="1.05"/>
<circle cx="424.1" cy="394.1" r="1.05"/>
<circle cx="424.8" cy="396.3" r="1.05"/>
<circle cx="441.3" cy="387.6" r="1.05"/>
<circle cx="422.6" cy="410.0" r="1.05"/>
<circle cx="420.8" cy="402.0" r="1.05"/>
<circle cx="424.9" cy="397.5" r="1.05"/>
<circle cx="424.3" cy="376.9" r="1.05"/>
<circle cx="428.3" cy="397.0" r="1.05"/>
<circle cx="423.5" cy="388.6" r="1.05"/>
<circle cx="422.6" cy="397.3" r="1.05"/>
<circle cx="425.4" cy="402.5" r="1.05"/>
<circle cx="424.6" cy="385.8" r="1.05"/>
<circle cx="421.9" cy="395.5" r="1.05"/>
<circle cx="421.7" cy="402.2" r="1.05"/>
<circle cx="425.5" cy="395.0" r="1.05"/>
<circle cx="431.1" cy="390.0" r="1.05"/>
<circle cx="426.1" cy="382.7" r="1.05"/>
<circle cx="422.3" cy="386.6" r="1.05"/>
<circle cx="422.4" cy="380.6" r="1.05"/>
<circle cx="422.7" cy="403.3" r="1.05"/>
<circle cx="423.4" cy="394.4" r="1.05"/>
<circle cx="444.0" cy="381.1" r="1.05"/>
<circle cx="429.2" cy="393.3" r="1.05"/>
<circle cx="424.0" cy="380.4" r="1.05"/>
<circle cx="420.7" cy="360.3" r="1.05"/>
<circle cx="434.5" cy="405.5" r="1.05"/>
<circle cx="426.9" cy="405.1" r="1.05"/>
<circle cx="439.1" cy="378.5" r="1.05"/>
<circle cx="434.4" cy="386.1" r="1.05"/>
<circle cx="424.2" cy="395.4" r="1.05"/>
<circle cx="429.7" cy="389.5" r="1.05"/>
<circle cx="419.7" cy="384.7" r="1.05"/>
<circle cx="424.9" cy="388.2" r="1.05"/>
<circle cx="425.4" cy="390.9" r="1.05"/>
<circle cx="424.6" cy="387.8" r="1.05"/>
<circle cx="422.1" cy="395.4" r="1.05"/>
<circle cx="423.3" cy="391.0" r="1.05"/>
<circle cx="420.2" cy="385.7" r="1.05"/>
<circle cx="435.4" cy="393.6" r="1.05"/>
<circle cx="420.7" cy="376.6" r="1.05"/>
<circle cx="421.9" cy="407.8" r="1.05"/>
<circle cx="447.5" cy="375.9" r="1.05"/>
<circle cx="423.1" cy="392.5" r="1.05"/>
<circle cx="435.0" cy="396.7" r="1.05"/>
<circle cx="435.0" cy="397.5" r="1.05"/>
<circle cx="422.6" cy="395.9" r="1.05"/>
<circle cx="424.9" cy="406.0" r="1.05"/>
<circle cx="420.6" cy="382.0" r="1.05"/>
<circle cx="429.2" cy="392.6" r="1.05"/>
<circle cx="441.9" cy="394.8" r="1.05"/>
<circle cx="430.6" cy="388.3" r="1.05"/>
<circle cx="420.4" cy="387.3" r="1.05"/>
<circle cx="447.6" cy="406.2" r="1.05"/>
<circle cx="424.9" cy="386.1" r="1.05"/>
<circle cx="433.4" cy="388.5" r="1.05"/>
<circle cx="426.2" cy="390.5" r="1.05"/>
<circle cx="425.4" cy="391.1" r="1.05"/>
<circle cx="435.9" cy="394.9" r="1.05"/>
<circle cx="441.8" cy="391.2" r="1.05"/>
<circle cx="429.0" cy="397.0" r="1.05"/>
<circle cx="435.7" cy="394.6" r="1.05"/>
<circle cx="421.8" cy="398.1" r="1.05"/>
<circle cx="424.8" cy="407.0" r="1.05"/>
<circle cx="424.3" cy="384.8" r="1.05"/>
<circle cx="422.3" cy="409.8" r="1.05"/>
<circle cx="431.4" cy="388.8" r="1.05"/>
<circle cx="423.8" cy="399.9" r="1.05"/>
<circle cx="422.9" cy="394.9" r="1.05"/>
<circle cx="426.0" cy="390.3" r="1.05"/>
<circle cx="422.8" cy="373.7" r="1.05"/>
<circle cx="419.7" cy="409.4" r="1.05"/>
<circle cx="424.2" cy="385.7" r="1.05"/>
<circle cx="420.0" cy="385.4" r="1.05"/>
<circle cx="436.3" cy="403.9" r="1.05"/>
<circle cx="430.0" cy="394.0" r="1.05"/>
<circle cx="429.0" cy="412.2" r="1.05"/>
<circle cx="425.6" cy="410.0" r="1.05"/>
<circle cx="422.4" cy="400.3" r="1.05"/>
<circle cx="434.1" cy="395.8" r="1.05"/>
<circle cx="424.9" cy="400.8" r="1.05"/>
<circle cx="431.3" cy="380.1" r="1.05"/>
<circle cx="425.9" cy="394.9" r="1.05"/>
<circle cx="428.8" cy="394.7" r="1.05"/>
<circle cx="427.5" cy="388.5" r="1.05"/>
<circle cx="421.5" cy="395.8" r="1.05"/>
<circle cx="421.5" cy="378.7" r="1.05"/>
<circle cx="426.2" cy="402.2" r="1.05"/>
<circle cx="420.9" cy="406.1" r="1.05"/>
<circle cx="423.5" cy="380.3" r="1.05"/>
<circle cx="424.2" cy="394.7" r="1.05"/>
<circle cx="427.0" cy="408.6" r="1.05"/>
<circle cx="424.7" cy="397.4" r="1.05"/>
<circle cx="432.6" cy="383.0" r="1.05"/>
<circle cx="425.5" cy="383.4" r="1.05"/>
<circle cx="420.4" cy="401.7" r="1.05"/>
<circle cx="423.0" cy="411.5" r="1.05"/>
<circle cx="420.2" cy="382.4" r="1.05"/>
<circle cx="427.5" cy="393.6" r="1.05"/>
<circle cx="438.6" cy="385.5" r="1.05"/>
<circle cx="423.8" cy="390.4" r="1.05"/>
<circle cx="429.6" cy="396.3" r="1.05"/>
<circle cx="436.1" cy="392.8" r="1.05"/>
<circle cx="424.4" cy="386.4" r="1.05"/>
<circle cx="432.4" cy="414.1" r="1.05"/>
<circle cx="432.8" cy="391.6" r="1.05"/>
<circle cx="430.4" cy="391.4" r="1.05"/>
<circle cx="430.5" cy="404.2" r="1.05"/>
<circle cx="428.3" cy="393.3" r="1.05"/>
<circle cx="420.2" cy="391.2" r="1.05"/>
<circle cx="421.1" cy="402.6" r="1.05"/>
<circle cx="423.1" cy="382.9" r="1.05"/>
<circle cx="422.6" cy="400.6" r="1.05"/>
<circle cx="433.3" cy="403.4" r="1.05"/>
<circle cx="431.1" cy="399.8" r="1.05"/>
<circle cx="426.6" cy="391.4" r="1.05"/>
<circle cx="429.7" cy="393.1" r="1.05"/>
<circle cx="424.9" cy="376.2" r="1.05"/>
<circle cx="424.1" cy="391.9" r="1.05"/>
<circle cx="423.4" cy="396.1" r="1.05"/>
<circle cx="424.9" cy="401.8" r="1.05"/>
<circle cx="421.8" cy="394.6" r="1.05"/>
<circle cx="424.2" cy="389.3" r="1.05"/>
<circle cx="434.2" cy="384.9" r="1.05"/>
<circle cx="419.5" cy="392.7" r="1.05"/>
<circle cx="423.5" cy="394.5" r="1.05"/>
<circle cx="452.9" cy="405.2" r="1.05"/>
<circle cx="429.7" cy="393.3" r="1.05"/>
<circle cx="426.4" cy="388.2" r="1.05"/>
<circle cx="422.8" cy="392.1" r="1.05"/>
<circle cx="423.4" cy="388.4" r="1.05"/>
<circle cx="439.0" cy="390.9" r="1.05"/>
<circle cx="434.7" cy="371.3" r="1.05"/>
<circle cx="433.9" cy="377.4" r="1.05"/>
<circle cx="432.8" cy="381.4" r="1.05"/>
<circle cx="424.3" cy="397.8" r="1.05"/>
<circle cx="426.7" cy="392.4" r="1.05"/>
<circle cx="423.8" cy="394.6" r="1.05"/>
<circle cx="419.3" cy="404.7" r="1.05"/>
<circle cx="422.9" cy="382.9" r="1.05"/>
<circle cx="420.1" cy="404.5" r="1.05"/>
<circle cx="428.1" cy="397.0" r="1.05"/>
<circle cx="436.8" cy="386.1" r="1.05"/>
<circle cx="433.6" cy="407.9" r="1.05"/>
<circle cx="419.9" cy="379.1" r="1.05"/>
<circle cx="424.8" cy="382.0" r="1.05"/>
<circle cx="427.0" cy="391.1" r="1.05"/>
<circle cx="423.1" cy="397.2" r="1.05"/>
<circle cx="423.0" cy="450.1" r="1.05"/>
<circle cx="422.6" cy="414.6" r="1.05"/>
<circle cx="445.4" cy="428.1" r="1.05"/>
<circle cx="424.3" cy="434.0" r="1.05"/>
<circle cx="425.4" cy="421.5" r="1.05"/>
<circle cx="424.7" cy="419.4" r="1.05"/>
<circle cx="422.2" cy="410.7" r="1.05"/>
<circle cx="422.5" cy="425.6" r="1.05"/>
<circle cx="433.9" cy="446.8" r="1.05"/>
<circle cx="422.5" cy="420.5" r="1.05"/>
<circle cx="424.5" cy="427.5" r="1.05"/>
<circle cx="428.4" cy="437.0" r="1.05"/>
<circle cx="426.0" cy="422.3" r="1.05"/>
<circle cx="439.0" cy="419.2" r="1.05"/>
<circle cx="428.3" cy="418.8" r="1.05"/>
<circle cx="419.8" cy="416.2" r="1.05"/>
<circle cx="421.9" cy="424.8" r="1.05"/>
<circle cx="420.3" cy="417.9" r="1.05"/>
<circle cx="433.7" cy="430.2" r="1.05"/>
<circle cx="422.3" cy="419.3" r="1.05"/>
<circle cx="420.0" cy="437.2" r="1.05"/>
<circle cx="422.8" cy="423.4" r="1.05"/>
<circle cx="422.6" cy="433.8" r="1.05"/>
<circle cx="424.7" cy="452.3" r="1.05"/>
<circle cx="426.4" cy="427.5" r="1.05"/>
<circle cx="428.9" cy="430.1" r="1.05"/>
<circle cx="421.4" cy="444.2" r="1.05"/>
<circle cx="431.3" cy="421.7" r="1.05"/>
<circle cx="424.3" cy="425.5" r="1.05"/>
<circle cx="419.9" cy="450.7" r="1.05"/>
<circle cx="427.0" cy="412.3" r="1.05"/>
<circle cx="421.5" cy="421.3" r="1.05"/>
<circle cx="420.7" cy="410.7" r="1.05"/>
<circle cx="420.2" cy="413.5" r="1.05"/>
<circle cx="431.1" cy="426.2" r="1.05"/>
<circle cx="438.2" cy="436.3" r="1.05"/>
<circle cx="423.0" cy="417.9" r="1.05"/>
<circle cx="425.5" cy="443.6" r="1.05"/>
<circle cx="419.5" cy="414.1" r="1.05"/>
<circle cx="423.7" cy="428.0" r="1.05"/>
<circle cx="421.2" cy="426.3" r="1.05"/>
<circle cx="420.5" cy="421.3" r="1.05"/>
<circle cx="421.9" cy="419.5" r="1.05"/>
<circle cx="420.4" cy="411.9" r="1.05"/>
<circle cx="421.1" cy="425.1" r="1.05"/>
<circle cx="423.6" cy="424.1" r="1.05"/>
<circle cx="420.6" cy="413.0" r="1.05"/>
<circle cx="431.7" cy="416.8" r="1.05"/>
<circle cx="427.8" cy="424.8" r="1.05"/>
<circle cx="426.7" cy="411.2" r="1.05"/>
<circle cx="419.5" cy="415.3" r="1.05"/>
<circle cx="430.8" cy="439.1" r="1.05"/>
<circle cx="424.8" cy="440.5" r="1.05"/>
<circle cx="422.2" cy="415.7" r="1.05"/>
<circle cx="420.7" cy="411.7" r="1.05"/>
<circle cx="422.8" cy="452.8" r="1.05"/>
<circle cx="426.7" cy="416.2" r="1.05"/>
<circle cx="426.6" cy="411.4" r="1.05"/>
<circle cx="429.8" cy="422.1" r="1.05"/>
<circle cx="422.9" cy="434.7" r="1.05"/>
<circle cx="433.1" cy="421.8" r="1.05"/>
<circle cx="420.6" cy="416.1" r="1.05"/>
<circle cx="423.8" cy="420.1" r="1.05"/>
<circle cx="421.3" cy="412.8" r="1.05"/>
<circle cx="421.4" cy="429.7" r="1.05"/>
<circle cx="422.6" cy="421.1" r="1.05"/>
<circle cx="434.0" cy="427.8" r="1.05"/>
<circle cx="420.7" cy="351.7" r="1.05"/>
<circle cx="419.9" cy="352.1" r="1.05"/>
<circle cx="421.4" cy="362.0" r="1.05"/>
<circle cx="425.4" cy="350.7" r="1.05"/>
<circle cx="425.6" cy="368.2" r="1.05"/>
<circle cx="427.3" cy="371.4" r="1.05"/>
<circle cx="426.7" cy="350.2" r="1.05"/>
<circle cx="425.5" cy="369.2" r="1.05"/>
<circle cx="419.8" cy="363.7" r="1.05"/>
<circle cx="433.4" cy="373.4" r="1.05"/>
<circle cx="424.1" cy="369.2" r="1.05"/>
<circle cx="421.2" cy="371.7" r="1.05"/>
<circle cx="420.0" cy="370.5" r="1.05"/>
<circle cx="422.3" cy="370.5" r="1.05"/>
<circle cx="419.8" cy="368.2" r="1.05"/>
<circle cx="421.5" cy="371.7" r="1.05"/>
<circle cx="425.9" cy="352.1" r="1.05"/>
<circle cx="424.0" cy="369.3" r="1.05"/>
<circle cx="426.3" cy="366.3" r="1.05"/>
<circle cx="424.4" cy="358.7" r="1.05"/>
<circle cx="428.5" cy="360.5" r="1.05"/>
<circle cx="422.9" cy="352.7" r="1.05"/>
<circle cx="423.6" cy="357.5" r="1.05"/>
<circle cx="421.1" cy="367.1" r="1.05"/>
<circle cx="423.2" cy="363.2" r="1.05"/>
<circle cx="462.8" cy="388.2" r="1.05"/>
<circle cx="442.7" cy="378.0" r="1.05"/>
<circle cx="441.9" cy="401.9" r="1.05"/>
<circle cx="457.1" cy="393.7" r="1.05"/>
<circle cx="463.7" cy="386.2" r="1.05"/>
<circle cx="446.0" cy="394.1" r="1.05"/>
<circle cx="446.8" cy="387.9" r="1.05"/>
<circle cx="436.6" cy="384.8" r="1.05"/>
<circle cx="442.0" cy="394.5" r="1.05"/>
<circle cx="462.3" cy="404.2" r="1.05"/>
<circle cx="464.3" cy="389.3" r="1.05"/>
<circle cx="449.7" cy="377.8" r="1.05"/>
<circle cx="460.6" cy="385.9" r="1.05"/>
<circle cx="441.5" cy="410.0" r="1.05"/>
<circle cx="454.4" cy="383.9" r="1.05"/>
<circle cx="462.4" cy="403.9" r="1.05"/>
<circle cx="445.5" cy="389.6" r="1.05"/>
<circle cx="454.1" cy="399.4" r="1.05"/>
<circle cx="457.3" cy="390.9" r="1.05"/>
<circle cx="439.2" cy="376.2" r="1.05"/>
<circle cx="442.8" cy="387.9" r="1.05"/>
<circle cx="452.8" cy="413.1" r="1.05"/>
<circle cx="442.8" cy="390.7" r="1.05"/>
<circle cx="439.8" cy="397.6" r="1.05"/>
<circle cx="439.8" cy="388.6" r="1.05"/>
<circle cx="454.0" cy="366.0" r="1.05"/>
<circle cx="455.0" cy="430.0" r="1.05"/>
<circle cx="474.0" cy="438.0" r="1.05"/>
<circle cx="496.0" cy="395.0" r="1.05"/>
<circle cx="462.0" cy="405.0" r="1.05"/>
<circle cx="524.0" cy="397.0" r="1.05"/>
</g>
<polygon points="418.80,392.54 421.52,393.22 424.23,393.84 426.95,394.35 429.66,394.72 432.38,394.95 435.09,395.09 437.81,395.18 440.52,395.23 443.24,395.27 445.95,395.29 448.67,395.31 451.38,395.32 454.10,395.33 456.82,395.34 459.53,395.35 462.25,395.35 464.96,395.35 467.68,395.35 470.39,395.35 473.11,395.35 475.82,395.35 478.54,395.35 481.25,395.35 483.97,395.35 486.68,395.35 489.40,395.34 492.12,395.34 494.83,395.34 497.55,395.34 500.26,395.33 502.98,395.33 505.69,395.33 508.41,395.32 511.12,395.32 513.84,395.32 516.55,395.31 519.27,395.31 521.98,395.31 524.70,395.30 524.70,423.30 521.98,422.52 519.27,421.74 516.55,420.96 513.84,420.19 511.12,419.41 508.41,418.63 505.69,417.85 502.98,417.07 500.26,416.30 497.55,415.52 494.83,414.74 492.12,413.97 489.40,413.19 486.68,412.41 483.97,411.64 481.25,410.86 478.54,410.08 475.82,409.31 473.11,408.53 470.39,407.76 467.68,406.99 464.96,406.21 462.25,405.44 459.53,404.67 456.82,403.90 454.10,403.13 451.38,402.37 448.67,401.61 445.95,400.85 443.24,400.10 440.52,399.36 437.81,398.64 435.09,397.95 432.38,397.32 429.66,396.78 426.95,396.37 424.23,396.11 421.52,395.96 418.80,395.86" fill="#999" fill-opacity="0.43"/>
<line x1="418.8" y1="394.2" x2="524.7" y2="409.3" stroke="#4068e0" stroke-width="1.6"/>
<rect x="413.20" y="343.30" width="116.40" height="115.50" fill="none" stroke="#8f8f8f" stroke-width="0.8"/>
<line x1="413.20" y1="343.30" x2="529.60" y2="343.30" stroke="#333" stroke-width="1.1"/>
<text x="495.80" y="351.90" font-size="7.2" fill="#e8303c" stroke="#e8303c" stroke-width="0.1">r = − 0.199</text>
<text x="495.80" y="359.50" font-size="7.2" fill="#e8303c" stroke="#e8303c" stroke-width="0.1"><tspan font-style="italic">P</tspan>&#160;&lt;&#160;0.001</text>
<line x1="418.40" y1="458.80" x2="418.40" y2="460.40" stroke="#555" stroke-width="0.7"/>
<text x="418.40" y="467.10" font-size="7.0" fill="#555" text-anchor="middle" font-weight="normal" >0</text>
<line x1="444.03" y1="458.80" x2="444.03" y2="460.40" stroke="#555" stroke-width="0.7"/>
<text x="444.03" y="467.10" font-size="7.0" fill="#555" text-anchor="middle" font-weight="normal" >5,000</text>
<line x1="469.67" y1="458.80" x2="469.67" y2="460.40" stroke="#555" stroke-width="0.7"/>
<text x="469.67" y="467.10" font-size="7.0" fill="#555" text-anchor="middle" font-weight="normal" >10,000</text>
<line x1="495.30" y1="458.80" x2="495.30" y2="460.40" stroke="#555" stroke-width="0.7"/>
<text x="495.30" y="467.10" font-size="7.0" fill="#555" text-anchor="middle" font-weight="normal" >15,000</text>
<line x1="520.94" y1="458.80" x2="520.94" y2="460.40" stroke="#555" stroke-width="0.7"/>
<text x="520.94" y="467.10" font-size="7.0" fill="#555" text-anchor="middle" font-weight="normal" >20,000</text>
<text x="472.80" y="476.20" font-size="8.8" fill="#222" text-anchor="middle" font-weight="normal" stroke="#222" stroke-width="0.15">Infiltration Level</text>
<text transform="translate(18.9,236.7) rotate(-90)" font-size="8.3" fill="#1a1a1a" text-anchor="middle">IMMT Expression Level (log2 TPM)</text>
<text transform="translate(18.9,401.5) rotate(-90)" font-size="8.3" fill="#1a1a1a" text-anchor="middle">IMMT Expression Level (log2 TPM)</text></svg>
</body></html>
